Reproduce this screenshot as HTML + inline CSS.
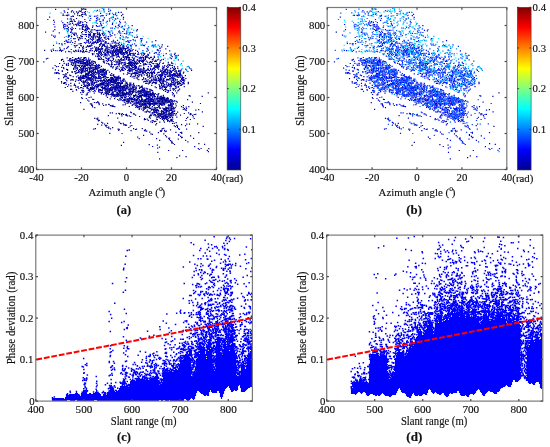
<!DOCTYPE html>
<html><head><meta charset="utf-8"><title>Figure</title>
<style>
html,body{margin:0;padding:0;background:#fff;width:550px;height:447px;overflow:hidden}
svg{display:block}
text{font-family:"Liberation Serif","Times New Roman",serif;fill:#111;stroke:#111;stroke-width:0.15px}
</style></head><body>
<svg width="550" height="447" viewBox="0 0 550 447">
<defs>
<linearGradient id="jet" x1="0" y1="1" x2="0" y2="0">
<stop offset="0" stop-color="#00008f"/>
<stop offset="0.125" stop-color="#0000ff"/>
<stop offset="0.375" stop-color="#00ffff"/>
<stop offset="0.625" stop-color="#ffff00"/>
<stop offset="0.875" stop-color="#ff0000"/>
<stop offset="1" stop-color="#800000"/>
</linearGradient>
</defs>
<rect width="550" height="447" fill="#fff"/>
<path d="M52.5 398v3M53.5 398v3M54.5 398v3M55.5 398v3M56.5 398v3M57.5 398v3M58.5 398v3M59.5 398v3M60.5 398v3M61.5 398v3M62.5 398v3M63.5 398v3M64.5 399v2M65.5 397v4M66.5 394v7M67.5 394v6M68.5 395v5M69.5 394v6M70.5 394v7M71.5 394v7M72.5 394v7M73.5 394v7M74.5 394v7M75.5 393v7M76.5 392v8M77.5 393v8M78.5 394v7M79.5 396v5M80.5 396v5M81.5 393v8M82.5 393v8M83.5 390v11M84.5 390v11M85.5 390v11M86.5 390v11M87.5 394v7M88.5 394v7M89.5 393v8M90.5 393v8M91.5 394v7M92.5 394v7M93.5 393v8M94.5 393v7M95.5 392v8M96.5 392v8M97.5 392v9M98.5 393v8M99.5 393v8M100.5 394v7M101.5 396v5M102.5 396v5M103.5 394v7M104.5 392v9M105.5 392v9M106.5 395v6M107.5 395v6M108.5 393v8M109.5 392v9M110.5 388v13M111.5 388v13M112.5 388v13M113.5 388v13M114.5 391v10M115.5 392v9M116.5 391v10M117.5 391v10M118.5 390v11M119.5 388v13M120.5 386v15M121.5 387v14M122.5 386v15M123.5 386v15M124.5 386v15M125.5 386v15M126.5 386v15M127.5 386v15M128.5 387v14M129.5 384v17M130.5 382v19M131.5 381v20M132.5 380v21M133.5 380v21M134.5 380v21M135.5 381v20M136.5 381v20M137.5 379v22M138.5 378v23M139.5 379v22M140.5 381v20M141.5 382v19M142.5 381v20M143.5 379v22M144.5 380v21M145.5 380v21M146.5 380v21M147.5 380v21M148.5 380v21M149.5 380v21M150.5 379v22M151.5 380v21M152.5 380v21M153.5 380v21M154.5 378v23M155.5 376v25M156.5 375v26M157.5 376v25M158.5 378v1M158.5 380v21M159.5 385v15M160.5 386v14M161.5 386v15M162.5 382v19M163.5 372v28M164.5 372v28M165.5 372v29M166.5 372v29M167.5 372v29M168.5 372v29M169.5 372v28M170.5 372v29M171.5 372v29M172.5 372v29M173.5 372v29M174.5 370v31M175.5 368v33M176.5 369v32M177.5 370v31M178.5 369v32M179.5 364v37M180.5 360v41M181.5 361v40M182.5 363v38M183.5 360v41M184.5 355v44M185.5 354v45M186.5 355v45M187.5 358v43M188.5 357v44M189.5 357v43M190.5 372v27M191.5 376v22M192.5 377v22M193.5 377v23M194.5 376v23M195.5 372v24M196.5 359v34M197.5 358v33M198.5 354v37M199.5 352v1M199.5 354v38M200.5 350v43M201.5 348v46M202.5 349v45M203.5 347v48M204.5 347v49M205.5 354v42M206.5 357v1M206.5 359v36M207.5 354v42M208.5 349v1M208.5 351v45M209.5 348v44M210.5 349v41M211.5 348v44M212.5 369v24M213.5 371v22M214.5 371v22M215.5 369v24M216.5 341v52M217.5 338v53M218.5 337v54M219.5 343v50M220.5 352v45M221.5 357v42M222.5 355v42M223.5 351v43M224.5 344v47M225.5 340v1M225.5 342v47M226.5 344v1M226.5 346v42M227.5 348v39M228.5 348v38M229.5 349v1M229.5 351v37M230.5 348v42M231.5 344v48M232.5 342v50M233.5 346v45M234.5 350v40M235.5 354v37M236.5 375v16M237.5 376v14M238.5 377v9M239.5 376v9M240.5 375v13M241.5 365v27M242.5 364v28M243.5 362v30M244.5 365v27M245.5 369v22M246.5 365v25M247.5 358v31M248.5 355v33M249.5 354v34M250.5 349v1M250.5 351v36M251.5 347v40M351.5 389v5M352.5 388v6M353.5 382v12M354.5 382v12M355.5 382v13M356.5 382v12M357.5 382v11M358.5 382v10M359.5 382v10M360.5 381v12M361.5 382v12M362.5 382v11M363.5 382v10M364.5 382v10M365.5 382v11M366.5 383v12M367.5 386v10M368.5 385v11M369.5 373v22M370.5 358v36M371.5 354v40M372.5 354v40M373.5 354v41M374.5 354v41M375.5 354v42M376.5 354v42M377.5 354v41M378.5 355v41M379.5 356v40M380.5 356v39M381.5 356v38M382.5 356v37M383.5 356v38M384.5 356v39M385.5 356v40M386.5 356v40M387.5 359v4M387.5 364v1M387.5 366v4M387.5 371v25M388.5 377v19M389.5 379v18M390.5 379v18M391.5 379v17M392.5 379v16M393.5 377v18M394.5 367v4M394.5 372v23M395.5 358v37M396.5 355v38M397.5 352v39M398.5 347v42M399.5 349v39M400.5 352v38M401.5 352v40M402.5 351v42M403.5 353v40M404.5 356v37M405.5 357v37M406.5 356v40M407.5 353v44M408.5 351v46M409.5 348v50M410.5 347v51M411.5 349v47M412.5 348v46M413.5 346v47M414.5 344v51M415.5 341v55M416.5 337v59M417.5 336v60M418.5 334v61M419.5 331v65M420.5 329v67M421.5 331v65M422.5 335v60M423.5 336v58M424.5 335v59M425.5 332v63M426.5 329v66M427.5 326v67M428.5 325v65M429.5 323v66M430.5 322v68M431.5 325v67M432.5 331v62M433.5 334v60M434.5 332v61M435.5 327v65M436.5 323v70M437.5 323v71M438.5 323v71M439.5 318v77M440.5 315v80M441.5 319v75M442.5 322v71M443.5 321v72M444.5 319v1M444.5 321v74M445.5 318v1M445.5 320v76M446.5 318v79M447.5 318v79M448.5 320v76M449.5 318v76M450.5 317v76M451.5 317v77M452.5 312v82M453.5 311v1M453.5 313v80M454.5 313v80M455.5 313v80M456.5 312v81M457.5 312v79M458.5 315v76M459.5 317v76M460.5 314v81M461.5 307v89M462.5 308v88M463.5 315v81M464.5 318v78M465.5 318v77M466.5 317v79M467.5 317v80M468.5 316v81M469.5 315v80M470.5 317v77M471.5 319v75M472.5 317v77M473.5 315v80M474.5 317v77M475.5 318v75M476.5 318v73M477.5 317v73M478.5 320v69M479.5 323v67M480.5 324v68M481.5 321v72M482.5 320v75M483.5 317v79M484.5 313v1M484.5 315v81M485.5 315v79M486.5 317v76M487.5 316v76M488.5 316v75M489.5 321v70M490.5 322v70M491.5 319v73M492.5 317v75M493.5 320v73M494.5 324v70M495.5 324v70M496.5 318v76M497.5 313v79M498.5 311v81M499.5 314v77M500.5 316v73M501.5 316v1M501.5 318v70M502.5 315v73M503.5 317v70M504.5 317v70M505.5 319v67M506.5 324v61M507.5 325v61M508.5 321v66M509.5 316v71M510.5 318v69M511.5 322v63M512.5 320v1M512.5 322v60M513.5 317v63M514.5 321v59M515.5 324v58M516.5 324v58M517.5 320v62M518.5 322v59M519.5 325v55M520.5 377v2M526.5 377v4M527.5 346v35M528.5 347v36M529.5 345v39M530.5 342v42M531.5 338v45M532.5 337v47M533.5 340v45M534.5 343v42M535.5 341v42M536.5 337v45M537.5 335v47M538.5 338v44M539.5 341v43M540.5 339v49M541.5 336v53" stroke="#0000ff" stroke-width="1.15" fill="none"/>
<path d="M213.4 236.8h1.5M413.5 236.5h1.5M497.0 236.9h1.5M517.8 236.5h1.5M226.4 237.1h1.5M407.7 237.9h1.5M454.7 237.5h1.5M471.5 237.8h1.5M483.9 237.9h1.5M498.4 237.2h1.5M502.7 237.6h1.5M225.8 238.6h1.5M228.7 238.1h1.5M233.8 238.6h1.5M249.9 238.7h1.5M396.1 238.3h1.5M229.6 239.4h1.5M447.9 239.5h1.5M464.9 239.1h1.5M529.6 239.8h1.5M204.4 240.2h1.5M225.1 240.4h1.5M453.6 240.6h1.5M228.6 241.6h1.5M466.1 241.8h1.5M467.8 241.3h1.5M482.7 241.6h1.5M500.0 241.2h1.5M190.4 242.7h1.5M437.9 242.6h1.5M510.6 242.8h1.5M512.4 242.8h1.5M517.9 242.1h1.5M223.1 243.3h1.5M226.5 243.6h1.5M192.9 244.4h1.5M207.6 244.1h1.5M210.9 244.8h1.5M441.9 244.9h1.5M451.5 244.3h1.5M499.0 244.3h1.5M500.9 244.7h1.5M223.9 245.4h1.5M383.0 245.9h1.5M438.7 245.4h1.5M460.0 245.5h1.5M504.1 245.7h1.5M529.4 245.5h1.5M214.0 246.8h1.5M215.7 246.4h1.5M221.7 246.4h1.5M498.5 246.8h1.5M207.9 247.4h1.5M216.6 247.9h1.5M222.0 247.8h1.5M245.6 247.1h1.5M377.8 247.8h1.5M439.7 247.2h1.5M460.8 247.1h1.5M462.5 247.7h1.5M483.5 247.6h1.5M532.9 247.9h1.5M200.0 248.6h1.5M211.8 248.4h1.5M224.1 248.4h1.5M500.5 248.6h1.5M517.0 248.5h1.5M206.5 249.5h1.5M218.1 249.9h1.5M223.8 249.6h1.5M226.8 249.5h1.5M251.1 249.8h1.5M405.0 249.5h1.5M437.0 249.5h1.5M438.4 249.1h1.5M443.6 249.9h1.5M500.4 249.2h1.5M126.5 250.4h1.5M128.5 250.1h1.5M199.0 250.5h1.5M227.5 250.2h1.5M410.6 250.6h1.5M446.7 250.8h1.5M452.0 250.2h1.5M455.1 250.4h1.5M460.9 250.8h1.5M477.5 250.1h1.5M522.8 250.3h1.5M208.9 251.3h1.5M421.4 251.8h1.5M439.9 251.5h1.5M451.6 251.8h1.5M473.8 251.8h1.5M477.9 251.7h1.5M479.9 251.3h1.5M481.8 251.7h1.5M496.8 251.2h1.5M523.5 251.5h1.5M527.7 251.8h1.5M204.5 252.9h1.5M421.7 252.7h1.5M444.8 252.1h1.5M448.0 252.5h1.5M455.7 252.9h1.5M474.4 252.8h1.5M503.8 252.1h1.5M507.5 252.2h1.5M215.9 253.3h1.5M434.7 253.5h1.5M436.7 253.8h1.5M440.1 253.7h1.5M452.7 253.7h1.5M487.6 253.6h1.5M491.6 253.8h1.5M533.7 253.5h1.5M218.4 254.4h1.5M223.8 254.5h1.5M244.1 254.2h1.5M192.8 255.5h1.5M205.9 255.9h1.5M225.1 255.2h1.5M239.0 255.1h1.5M457.9 255.3h1.5M500.0 255.5h1.5M125.0 256.3h1.5M202.6 256.1h1.5M209.7 256.2h1.5M228.6 256.5h1.5M437.6 256.3h1.5M439.8 256.8h1.5M447.6 256.6h1.5M463.8 256.9h1.5M485.8 256.4h1.5M486.4 256.3h1.5M511.7 256.7h1.5M520.7 256.6h1.5M531.9 256.7h1.5M438.4 257.5h1.5M458.5 257.7h1.5M473.8 257.3h1.5M489.7 257.8h1.5M502.9 257.5h1.5M533.6 257.7h1.5M197.5 258.7h1.5M200.1 258.7h1.5M206.5 258.9h1.5M227.5 258.7h1.5M250.6 258.6h1.5M422.6 258.6h1.5M434.5 258.4h1.5M449.8 258.7h1.5M460.1 258.8h1.5M470.5 258.1h1.5M474.7 258.5h1.5M504.9 258.5h1.5M536.1 258.7h1.5M207.1 259.3h1.5M220.5 259.3h1.5M244.8 259.8h1.5M447.1 259.8h1.5M448.4 259.3h1.5M483.8 259.9h1.5M500.5 259.2h1.5M526.0 259.7h1.5M528.1 259.2h1.5M213.8 260.2h1.5M224.4 260.2h1.5M408.4 260.2h1.5M441.7 260.3h1.5M452.0 260.3h1.5M458.5 260.3h1.5M463.9 260.4h1.5M484.7 260.8h1.5M492.6 260.8h1.5M496.9 260.3h1.5M501.6 260.1h1.5M511.6 260.8h1.5M211.0 261.2h1.5M222.7 261.9h1.5M225.0 261.8h1.5M228.8 261.3h1.5M445.5 261.4h1.5M454.7 261.5h1.5M456.0 261.8h1.5M458.8 261.1h1.5M476.1 261.4h1.5M481.4 261.2h1.5M531.6 261.7h1.5M189.0 262.1h1.5M247.9 262.7h1.5M449.8 262.7h1.5M451.9 262.3h1.5M453.1 262.8h1.5M459.9 262.3h1.5M466.8 262.4h1.5M470.8 262.4h1.5M471.9 262.7h1.5M473.6 262.8h1.5M489.9 262.6h1.5M497.8 262.5h1.5M500.0 262.9h1.5M515.7 262.3h1.5M200.4 263.7h1.5M219.8 263.3h1.5M235.0 263.5h1.5M245.9 263.4h1.5M414.9 263.2h1.5M421.7 263.2h1.5M424.6 263.6h1.5M452.9 263.7h1.5M455.4 263.1h1.5M485.0 263.5h1.5M499.1 263.6h1.5M504.1 263.5h1.5M527.5 263.4h1.5M124.4 264.2h1.5M194.1 264.3h1.5M209.7 264.1h1.5M224.6 264.2h1.5M226.7 264.8h1.5M227.9 264.2h1.5M229.5 264.3h1.5M231.7 264.4h1.5M473.9 264.3h1.5M499.9 264.3h1.5M508.4 264.1h1.5M510.0 264.3h1.5M518.7 264.5h1.5M522.7 264.1h1.5M527.8 264.4h1.5M196.6 265.5h1.5M202.1 265.5h1.5M208.5 265.3h1.5M225.8 265.3h1.5M227.5 265.2h1.5M234.8 265.5h1.5M418.1 265.5h1.5M450.1 265.8h1.5M465.5 265.7h1.5M466.8 265.8h1.5M479.1 265.2h1.5M494.5 265.4h1.5M495.7 265.2h1.5M496.9 265.5h1.5M512.9 265.2h1.5M516.7 265.6h1.5M527.9 265.9h1.5M528.9 265.3h1.5M182.6 266.9h1.5M199.9 266.6h1.5M207.8 266.2h1.5M215.9 266.5h1.5M224.8 266.6h1.5M230.6 266.1h1.5M239.7 266.3h1.5M407.1 266.8h1.5M414.5 266.8h1.5M415.5 266.5h1.5M446.4 266.5h1.5M485.0 266.8h1.5M495.1 266.6h1.5M215.5 267.6h1.5M230.6 267.9h1.5M439.5 267.2h1.5M443.8 267.4h1.5M445.7 267.3h1.5M461.0 267.8h1.5M486.5 267.1h1.5M502.1 267.6h1.5M524.7 267.8h1.5M532.0 267.2h1.5M123.0 268.3h1.5M195.1 268.3h1.5M209.7 268.5h1.5M220.8 268.2h1.5M222.8 268.5h1.5M224.5 268.6h1.5M228.8 268.1h1.5M245.1 268.7h1.5M251.1 268.1h1.5M415.4 268.1h1.5M436.9 268.6h1.5M445.6 268.8h1.5M455.5 268.3h1.5M457.5 268.7h1.5M474.0 268.2h1.5M503.1 268.5h1.5M122.8 269.8h1.5M198.7 269.7h1.5M200.8 269.8h1.5M212.0 269.5h1.5M212.9 269.9h1.5M222.4 269.8h1.5M227.5 269.3h1.5M421.0 269.8h1.5M443.7 269.6h1.5M476.9 269.9h1.5M495.0 269.6h1.5M495.9 269.4h1.5M504.9 269.6h1.5M515.8 269.7h1.5M516.5 269.7h1.5M195.5 270.6h1.5M201.1 270.4h1.5M211.4 270.6h1.5M222.9 270.3h1.5M229.1 270.9h1.5M437.5 270.5h1.5M457.4 270.4h1.5M474.7 270.8h1.5M484.6 270.7h1.5M495.7 270.3h1.5M504.7 270.6h1.5M517.1 270.6h1.5M193.4 271.6h1.5M226.1 271.2h1.5M229.4 271.6h1.5M250.1 271.6h1.5M402.6 271.3h1.5M405.9 271.9h1.5M422.4 271.9h1.5M442.7 271.8h1.5M452.9 271.8h1.5M472.9 271.6h1.5M475.0 271.8h1.5M501.5 271.4h1.5M503.7 271.4h1.5M504.8 271.7h1.5M521.4 271.6h1.5M200.0 272.5h1.5M203.7 272.1h1.5M204.5 272.5h1.5M211.5 272.3h1.5M409.9 272.7h1.5M444.4 272.7h1.5M447.5 272.6h1.5M451.6 272.8h1.5M453.6 272.6h1.5M460.9 272.5h1.5M471.8 272.2h1.5M487.1 272.2h1.5M488.9 272.2h1.5M501.6 272.4h1.5M504.6 272.7h1.5M516.4 272.4h1.5M197.5 273.8h1.5M202.8 273.5h1.5M206.9 273.8h1.5M222.6 273.8h1.5M229.6 273.3h1.5M377.0 273.8h1.5M395.1 273.9h1.5M456.4 273.6h1.5M461.4 273.2h1.5M472.0 273.8h1.5M483.7 273.5h1.5M487.7 273.4h1.5M489.9 273.7h1.5M496.0 273.3h1.5M512.4 273.5h1.5M517.1 273.4h1.5M521.1 273.5h1.5M197.7 274.8h1.5M209.7 274.5h1.5M210.6 274.3h1.5M225.8 274.9h1.5M373.5 274.4h1.5M415.8 274.6h1.5M423.1 274.9h1.5M438.8 274.5h1.5M441.0 274.3h1.5M446.5 274.6h1.5M451.1 274.9h1.5M456.4 274.6h1.5M459.5 274.9h1.5M491.9 274.5h1.5M493.6 274.1h1.5M494.4 274.1h1.5M513.4 274.3h1.5M523.0 274.7h1.5M531.4 274.1h1.5M193.4 275.2h1.5M201.1 275.5h1.5M209.0 275.4h1.5M225.6 275.7h1.5M246.5 275.4h1.5M394.0 275.2h1.5M439.0 275.9h1.5M445.9 275.3h1.5M447.8 275.9h1.5M455.8 275.7h1.5M457.1 275.8h1.5M458.8 275.9h1.5M463.4 275.8h1.5M475.4 275.7h1.5M485.8 275.2h1.5M487.9 275.1h1.5M489.9 275.6h1.5M500.9 275.9h1.5M501.6 275.9h1.5M521.6 275.6h1.5M217.6 276.3h1.5M409.6 276.7h1.5M423.6 276.9h1.5M440.0 276.9h1.5M445.5 276.1h1.5M455.5 276.3h1.5M470.9 276.4h1.5M473.7 276.4h1.5M493.6 276.2h1.5M500.1 276.6h1.5M504.1 276.6h1.5M504.5 276.7h1.5M515.5 276.3h1.5M532.7 276.3h1.5M125.8 277.7h1.5M191.6 277.4h1.5M199.8 277.3h1.5M210.9 277.7h1.5M212.0 277.3h1.5M213.5 277.3h1.5M217.9 277.5h1.5M224.4 277.2h1.5M242.4 277.3h1.5M375.4 277.8h1.5M412.4 277.4h1.5M414.0 277.1h1.5M433.6 277.7h1.5M445.7 277.4h1.5M458.7 277.9h1.5M460.5 277.7h1.5M461.4 277.4h1.5M485.5 277.8h1.5M495.0 277.2h1.5M496.6 277.8h1.5M515.7 277.5h1.5M201.6 278.6h1.5M233.9 278.8h1.5M384.9 278.8h1.5M419.7 278.1h1.5M424.8 278.5h1.5M436.7 278.8h1.5M450.8 278.4h1.5M451.8 278.2h1.5M459.8 278.8h1.5M477.1 278.3h1.5M490.1 278.7h1.5M508.4 278.6h1.5M524.7 278.6h1.5M528.4 278.9h1.5M200.6 279.6h1.5M215.0 279.5h1.5M226.9 279.1h1.5M411.8 279.4h1.5M447.4 279.7h1.5M449.0 279.6h1.5M449.8 279.5h1.5M450.6 279.3h1.5M454.0 279.3h1.5M457.4 279.2h1.5M486.5 279.2h1.5M488.0 279.7h1.5M488.4 279.6h1.5M515.5 279.7h1.5M528.8 279.7h1.5M534.9 279.8h1.5M208.8 280.5h1.5M212.4 280.3h1.5M213.6 280.2h1.5M218.9 280.4h1.5M223.6 280.7h1.5M229.5 280.8h1.5M230.4 280.4h1.5M235.6 280.6h1.5M425.1 280.2h1.5M431.4 280.9h1.5M439.8 280.1h1.5M441.1 280.6h1.5M451.9 280.5h1.5M452.6 280.3h1.5M454.9 280.8h1.5M473.4 280.1h1.5M474.7 280.5h1.5M482.6 280.6h1.5M495.1 280.7h1.5M498.0 280.6h1.5M522.0 280.7h1.5M124.7 281.7h1.5M210.0 281.6h1.5M217.1 281.5h1.5M221.6 281.2h1.5M229.8 281.4h1.5M438.5 281.8h1.5M443.4 281.5h1.5M451.9 281.4h1.5M454.4 281.3h1.5M460.8 281.4h1.5M464.4 281.6h1.5M470.9 281.6h1.5M477.0 281.3h1.5M486.1 281.7h1.5M515.7 281.1h1.5M525.7 281.4h1.5M210.7 282.2h1.5M211.9 282.6h1.5M226.0 282.5h1.5M230.4 282.8h1.5M234.6 282.8h1.5M248.4 282.8h1.5M438.5 282.7h1.5M448.9 282.9h1.5M452.1 282.4h1.5M453.1 282.6h1.5M456.4 282.2h1.5M458.7 282.8h1.5M461.0 282.3h1.5M485.8 282.7h1.5M498.6 282.7h1.5M504.0 282.5h1.5M516.0 282.6h1.5M527.5 282.9h1.5M111.8 283.5h1.5M183.5 283.4h1.5M196.5 283.6h1.5M197.8 283.7h1.5M204.6 283.7h1.5M206.0 283.1h1.5M213.6 283.6h1.5M224.5 283.2h1.5M226.9 283.5h1.5M227.6 283.9h1.5M243.4 283.8h1.5M413.1 283.3h1.5M414.5 283.3h1.5M418.5 283.5h1.5M430.7 283.4h1.5M433.4 283.5h1.5M440.0 283.7h1.5M450.4 283.9h1.5M457.4 283.4h1.5M459.1 283.1h1.5M459.8 283.4h1.5M465.1 283.5h1.5M477.1 283.5h1.5M491.9 283.2h1.5M498.4 283.1h1.5M501.9 283.5h1.5M503.4 283.7h1.5M505.4 283.7h1.5M517.0 283.1h1.5M539.6 283.6h1.5M191.9 284.5h1.5M198.8 284.4h1.5M213.0 284.6h1.5M236.9 284.2h1.5M436.1 284.9h1.5M438.7 284.5h1.5M445.0 284.2h1.5M450.0 284.2h1.5M452.8 284.3h1.5M460.8 284.3h1.5M475.7 284.6h1.5M483.9 284.6h1.5M491.5 284.5h1.5M498.7 284.7h1.5M504.9 284.2h1.5M517.6 284.8h1.5M518.5 284.4h1.5M524.4 284.1h1.5M538.0 284.2h1.5M195.1 285.7h1.5M196.0 285.3h1.5M213.9 285.5h1.5M222.8 285.2h1.5M229.4 285.7h1.5M447.1 285.2h1.5M448.7 285.8h1.5M450.9 285.2h1.5M452.4 285.8h1.5M456.9 285.4h1.5M464.5 285.4h1.5M471.1 285.2h1.5M492.9 285.4h1.5M501.8 285.8h1.5M504.9 285.1h1.5M512.5 285.2h1.5M514.7 285.9h1.5M522.4 285.7h1.5M524.6 285.8h1.5M197.6 286.8h1.5M199.5 286.9h1.5M200.7 286.4h1.5M208.4 286.8h1.5M211.4 286.4h1.5M223.6 286.6h1.5M226.1 286.1h1.5M227.9 286.3h1.5M231.7 286.4h1.5M245.5 286.4h1.5M416.4 286.2h1.5M425.7 286.1h1.5M434.9 286.3h1.5M437.0 286.1h1.5M443.7 286.3h1.5M464.0 286.6h1.5M470.0 286.6h1.5M472.0 286.6h1.5M475.6 286.6h1.5M477.7 286.1h1.5M480.5 286.5h1.5M485.8 286.4h1.5M491.4 286.4h1.5M497.7 286.4h1.5M498.5 286.4h1.5M499.7 286.7h1.5M505.5 286.3h1.5M526.4 286.6h1.5M534.7 286.5h1.5M195.7 287.6h1.5M207.8 287.4h1.5M209.4 287.8h1.5M212.7 287.6h1.5M220.6 287.5h1.5M230.4 287.1h1.5M421.7 287.1h1.5M440.9 287.3h1.5M441.6 287.7h1.5M445.9 287.3h1.5M454.0 287.7h1.5M454.4 287.4h1.5M458.5 287.6h1.5M459.6 287.2h1.5M469.8 287.2h1.5M471.7 287.9h1.5M472.8 287.6h1.5M476.4 287.2h1.5M479.6 287.3h1.5M487.5 287.2h1.5M508.9 287.3h1.5M509.9 287.7h1.5M515.6 287.3h1.5M519.1 287.8h1.5M529.5 287.1h1.5M530.4 287.6h1.5M535.6 287.3h1.5M205.9 288.8h1.5M218.1 288.4h1.5M222.8 288.3h1.5M224.5 288.4h1.5M225.8 288.2h1.5M227.4 288.8h1.5M230.0 288.8h1.5M403.6 288.7h1.5M414.4 288.5h1.5M427.5 288.4h1.5M434.0 288.5h1.5M436.1 288.9h1.5M439.5 288.5h1.5M442.1 288.7h1.5M444.0 288.4h1.5M449.6 288.8h1.5M451.4 288.5h1.5M457.5 288.5h1.5M463.7 288.3h1.5M467.5 288.4h1.5M470.5 288.2h1.5M471.6 288.5h1.5M493.1 288.9h1.5M494.4 288.7h1.5M497.1 288.6h1.5M498.7 288.6h1.5M499.9 288.5h1.5M500.8 288.3h1.5M509.1 288.2h1.5M529.5 288.7h1.5M534.6 288.8h1.5M207.8 289.6h1.5M222.8 289.4h1.5M223.6 289.2h1.5M226.6 289.1h1.5M409.4 289.1h1.5M415.8 289.6h1.5M418.0 289.4h1.5M422.0 289.4h1.5M439.7 289.7h1.5M441.1 289.8h1.5M443.1 289.6h1.5M450.6 289.7h1.5M459.4 289.6h1.5M466.0 289.5h1.5M473.1 289.4h1.5M475.9 289.3h1.5M477.1 289.9h1.5M492.7 289.7h1.5M495.8 289.5h1.5M497.4 289.7h1.5M498.6 289.4h1.5M500.1 289.6h1.5M503.4 289.7h1.5M514.5 289.2h1.5M528.4 289.7h1.5M124.7 290.2h1.5M192.8 290.4h1.5M216.8 290.5h1.5M220.1 290.4h1.5M223.9 290.3h1.5M226.9 290.6h1.5M227.8 290.1h1.5M398.8 290.2h1.5M406.4 290.1h1.5M413.4 290.2h1.5M440.9 290.5h1.5M444.5 290.5h1.5M448.7 290.6h1.5M451.9 290.4h1.5M452.8 290.3h1.5M455.5 290.9h1.5M471.6 290.3h1.5M474.5 290.8h1.5M480.9 290.4h1.5M482.9 290.1h1.5M487.5 290.5h1.5M496.6 290.6h1.5M500.5 290.8h1.5M509.8 290.4h1.5M510.6 290.4h1.5M512.0 290.4h1.5M514.6 290.4h1.5M516.9 290.4h1.5M520.9 290.5h1.5M530.1 290.4h1.5M194.9 291.4h1.5M200.1 291.5h1.5M201.8 291.6h1.5M205.4 291.7h1.5M212.6 291.5h1.5M223.9 291.8h1.5M226.6 291.7h1.5M438.9 291.6h1.5M449.4 291.2h1.5M456.9 291.2h1.5M466.7 291.1h1.5M476.1 291.3h1.5M476.4 291.5h1.5M481.6 291.3h1.5M484.0 291.6h1.5M497.7 291.2h1.5M499.7 291.5h1.5M500.6 291.3h1.5M502.4 291.4h1.5M505.6 291.7h1.5M527.1 291.1h1.5M538.0 291.7h1.5M122.6 292.3h1.5M193.9 292.8h1.5M200.0 292.4h1.5M225.0 292.7h1.5M225.4 292.3h1.5M226.5 292.5h1.5M230.1 292.5h1.5M231.6 292.3h1.5M248.0 292.4h1.5M416.9 292.2h1.5M418.0 292.8h1.5M418.4 292.6h1.5M438.1 292.5h1.5M439.1 292.4h1.5M443.5 292.1h1.5M444.9 292.5h1.5M446.4 292.2h1.5M448.0 292.5h1.5M448.7 292.7h1.5M449.9 292.3h1.5M451.0 292.7h1.5M454.4 292.5h1.5M459.1 292.3h1.5M461.4 292.3h1.5M462.5 292.6h1.5M464.7 292.6h1.5M466.6 292.7h1.5M470.9 292.6h1.5M471.5 292.7h1.5M472.8 292.2h1.5M491.0 292.6h1.5M492.1 292.5h1.5M494.7 292.4h1.5M496.6 292.5h1.5M500.8 292.7h1.5M502.9 292.4h1.5M507.1 292.5h1.5M510.8 292.9h1.5M515.7 292.5h1.5M517.6 292.2h1.5M537.9 292.6h1.5M192.9 293.6h1.5M205.4 293.3h1.5M207.6 293.1h1.5M219.5 293.2h1.5M224.7 293.6h1.5M225.7 293.6h1.5M231.5 293.6h1.5M240.8 293.5h1.5M247.9 293.7h1.5M248.6 293.5h1.5M251.0 293.2h1.5M376.4 293.1h1.5M402.4 293.6h1.5M414.9 293.8h1.5M417.8 293.9h1.5M424.0 293.4h1.5M432.1 293.3h1.5M433.8 293.5h1.5M440.0 293.3h1.5M440.9 293.7h1.5M445.8 293.3h1.5M447.8 293.5h1.5M453.1 293.3h1.5M460.6 293.9h1.5M461.7 293.4h1.5M462.7 293.6h1.5M465.9 293.5h1.5M472.4 293.2h1.5M474.9 293.7h1.5M475.4 293.3h1.5M476.7 293.1h1.5M481.7 293.5h1.5M484.8 293.6h1.5M486.8 293.4h1.5M490.8 293.3h1.5M494.4 293.9h1.5M495.6 293.3h1.5M496.9 293.3h1.5M499.7 293.8h1.5M501.0 293.6h1.5M505.8 293.7h1.5M506.8 293.5h1.5M508.9 293.8h1.5M510.1 293.9h1.5M512.4 293.6h1.5M517.4 293.8h1.5M533.4 293.3h1.5M197.5 294.5h1.5M199.4 294.5h1.5M203.1 294.5h1.5M203.5 294.1h1.5M206.7 294.2h1.5M209.1 294.7h1.5M209.7 294.1h1.5M210.5 294.4h1.5M211.6 294.9h1.5M213.7 294.2h1.5M216.6 294.6h1.5M219.7 294.4h1.5M227.7 294.2h1.5M230.4 294.2h1.5M250.0 294.4h1.5M411.1 294.2h1.5M417.8 294.7h1.5M432.4 294.8h1.5M434.1 294.6h1.5M437.6 294.5h1.5M438.7 294.4h1.5M441.6 294.2h1.5M450.1 294.9h1.5M455.9 294.7h1.5M457.6 294.3h1.5M458.6 294.1h1.5M462.7 294.1h1.5M490.7 294.6h1.5M492.9 294.8h1.5M499.1 294.9h1.5M501.4 294.6h1.5M503.0 294.2h1.5M505.0 294.6h1.5M511.5 294.5h1.5M515.1 294.1h1.5M516.1 294.8h1.5M188.9 295.4h1.5M190.4 295.6h1.5M198.7 295.6h1.5M204.0 295.5h1.5M208.8 295.3h1.5M216.4 295.2h1.5M218.0 295.3h1.5M218.7 295.7h1.5M224.5 295.6h1.5M229.6 295.8h1.5M230.4 295.3h1.5M246.6 295.2h1.5M429.4 295.7h1.5M434.1 295.9h1.5M438.5 295.6h1.5M439.6 295.4h1.5M444.6 295.7h1.5M450.7 295.5h1.5M452.6 295.8h1.5M454.1 295.8h1.5M454.5 295.9h1.5M456.1 295.4h1.5M456.7 295.7h1.5M459.1 295.4h1.5M461.6 295.1h1.5M480.4 295.6h1.5M485.0 295.2h1.5M486.5 295.5h1.5M487.9 295.6h1.5M491.1 295.8h1.5M491.5 295.6h1.5M493.6 295.2h1.5M495.8 295.6h1.5M499.0 295.3h1.5M501.0 295.3h1.5M501.7 295.2h1.5M516.8 295.4h1.5M519.0 295.2h1.5M529.5 295.2h1.5M242.1 296.5h1.5M251.0 296.7h1.5M436.5 296.6h1.5M439.9 296.4h1.5M441.9 296.7h1.5M446.9 296.3h1.5M449.4 296.8h1.5M450.4 296.6h1.5M455.5 296.5h1.5M460.4 296.9h1.5M461.7 296.3h1.5M470.9 296.9h1.5M472.8 296.2h1.5M477.1 296.7h1.5M479.7 296.1h1.5M481.7 296.6h1.5M485.5 296.6h1.5M487.1 296.4h1.5M487.9 296.9h1.5M492.1 296.9h1.5M493.1 296.8h1.5M496.4 296.4h1.5M509.8 296.9h1.5M516.7 296.1h1.5M518.0 296.6h1.5M207.4 297.5h1.5M222.9 297.6h1.5M223.8 297.6h1.5M226.6 297.9h1.5M243.5 297.4h1.5M406.9 297.3h1.5M416.4 297.4h1.5M428.6 297.3h1.5M435.4 297.3h1.5M436.6 297.8h1.5M440.5 297.6h1.5M448.8 297.8h1.5M452.9 297.6h1.5M453.9 297.8h1.5M454.7 297.4h1.5M457.0 297.5h1.5M460.9 297.7h1.5M461.8 297.4h1.5M463.0 297.7h1.5M464.1 297.7h1.5M464.7 297.3h1.5M470.1 297.8h1.5M470.8 297.6h1.5M478.7 297.8h1.5M485.7 297.5h1.5M487.9 297.1h1.5M491.6 297.6h1.5M493.1 297.1h1.5M495.7 297.5h1.5M498.8 297.6h1.5M500.0 297.6h1.5M502.0 297.2h1.5M502.9 297.3h1.5M508.9 297.6h1.5M512.0 297.6h1.5M513.8 297.3h1.5M520.7 297.7h1.5M526.1 297.1h1.5M182.5 298.5h1.5M201.5 298.4h1.5M210.6 298.4h1.5M214.5 298.7h1.5M217.1 298.6h1.5M236.8 298.3h1.5M440.1 298.5h1.5M440.8 298.2h1.5M443.5 298.7h1.5M454.0 298.5h1.5M461.1 298.2h1.5M461.4 298.6h1.5M471.0 298.5h1.5M474.8 298.3h1.5M478.5 298.3h1.5M481.6 298.6h1.5M482.9 298.7h1.5M483.5 298.9h1.5M484.8 298.9h1.5M485.8 298.1h1.5M487.8 298.4h1.5M488.5 298.2h1.5M495.0 298.8h1.5M504.8 298.8h1.5M507.9 298.2h1.5M518.9 298.6h1.5M522.6 298.2h1.5M194.9 299.1h1.5M209.7 299.5h1.5M211.1 299.4h1.5M222.7 299.7h1.5M224.5 299.5h1.5M230.7 299.5h1.5M231.7 299.9h1.5M233.1 299.1h1.5M244.6 299.7h1.5M247.1 299.9h1.5M250.4 299.7h1.5M417.5 299.3h1.5M436.6 299.8h1.5M438.9 299.4h1.5M439.8 299.4h1.5M440.7 299.7h1.5M442.7 299.9h1.5M444.0 299.7h1.5M445.5 299.8h1.5M449.0 299.3h1.5M450.6 299.8h1.5M452.9 299.6h1.5M454.0 299.4h1.5M462.7 299.5h1.5M464.5 299.1h1.5M469.5 299.9h1.5M470.5 299.8h1.5M471.4 299.8h1.5M475.7 299.2h1.5M484.9 299.1h1.5M485.7 299.8h1.5M487.1 299.7h1.5M493.1 299.4h1.5M495.0 299.2h1.5M500.0 299.2h1.5M502.6 299.4h1.5M504.0 299.8h1.5M505.4 299.9h1.5M506.4 299.4h1.5M512.4 299.9h1.5M513.6 299.9h1.5M514.9 299.5h1.5M515.4 299.7h1.5M521.7 299.4h1.5M525.8 299.5h1.5M527.0 299.2h1.5M529.8 299.8h1.5M531.5 299.5h1.5M188.4 300.7h1.5M190.8 300.5h1.5M208.0 300.6h1.5M209.0 300.9h1.5M210.8 300.6h1.5M223.5 300.5h1.5M225.4 300.2h1.5M228.4 300.8h1.5M229.6 300.4h1.5M243.8 300.9h1.5M244.5 300.5h1.5M250.8 300.1h1.5M396.6 300.5h1.5M417.0 300.6h1.5M420.8 300.8h1.5M428.0 300.7h1.5M431.6 300.5h1.5M440.8 300.7h1.5M447.1 300.4h1.5M447.4 300.2h1.5M455.1 300.7h1.5M457.8 300.8h1.5M461.1 300.4h1.5M461.6 300.4h1.5M465.7 300.1h1.5M468.9 300.7h1.5M470.8 300.8h1.5M472.8 300.8h1.5M476.0 300.5h1.5M485.5 300.7h1.5M488.9 300.3h1.5M491.7 300.3h1.5M495.1 300.8h1.5M496.1 300.6h1.5M497.7 300.5h1.5M498.6 300.1h1.5M501.1 300.1h1.5M503.1 300.5h1.5M512.0 300.9h1.5M517.1 300.1h1.5M207.1 301.7h1.5M214.7 301.9h1.5M221.6 301.2h1.5M229.4 301.4h1.5M416.7 301.3h1.5M434.5 301.8h1.5M436.9 301.2h1.5M438.8 301.2h1.5M442.1 301.1h1.5M445.9 301.9h1.5M447.6 301.6h1.5M452.6 301.3h1.5M453.8 301.6h1.5M462.8 301.8h1.5M464.1 301.8h1.5M467.9 301.8h1.5M470.6 301.2h1.5M471.6 301.6h1.5M473.8 301.9h1.5M475.4 301.5h1.5M476.7 301.3h1.5M479.1 301.9h1.5M482.1 301.7h1.5M483.8 301.7h1.5M484.8 301.8h1.5M485.6 301.5h1.5M489.8 301.7h1.5M490.7 301.7h1.5M491.9 301.2h1.5M493.1 301.2h1.5M496.0 301.3h1.5M498.5 301.7h1.5M501.5 301.7h1.5M508.9 301.3h1.5M510.1 301.3h1.5M510.8 301.2h1.5M514.0 301.3h1.5M514.6 301.8h1.5M516.5 301.7h1.5M519.1 301.6h1.5M522.1 301.7h1.5M534.7 301.6h1.5M192.0 302.6h1.5M196.9 302.5h1.5M205.0 302.8h1.5M215.8 302.3h1.5M218.9 302.8h1.5M225.1 302.8h1.5M226.7 302.3h1.5M227.9 302.8h1.5M231.1 302.3h1.5M377.4 302.4h1.5M405.6 302.7h1.5M412.6 302.2h1.5M417.8 302.4h1.5M419.7 302.7h1.5M434.1 302.8h1.5M435.5 302.4h1.5M443.6 302.4h1.5M446.4 302.7h1.5M447.5 302.8h1.5M448.8 302.7h1.5M452.4 302.8h1.5M454.1 302.9h1.5M455.0 302.2h1.5M455.4 302.2h1.5M459.0 302.5h1.5M460.4 302.5h1.5M461.8 302.1h1.5M462.5 302.3h1.5M463.5 302.6h1.5M466.8 302.4h1.5M468.1 302.2h1.5M469.4 302.1h1.5M472.5 302.7h1.5M473.7 302.3h1.5M475.1 302.2h1.5M475.6 302.7h1.5M477.0 302.5h1.5M480.8 302.4h1.5M483.7 302.5h1.5M490.0 302.5h1.5M494.5 302.1h1.5M495.8 302.4h1.5M497.4 302.6h1.5M500.8 302.8h1.5M502.1 302.2h1.5M502.4 302.2h1.5M507.4 302.9h1.5M508.8 302.7h1.5M510.1 302.3h1.5M512.8 302.9h1.5M514.1 302.2h1.5M517.6 302.8h1.5M526.1 302.3h1.5M537.5 302.6h1.5M114.0 303.2h1.5M188.6 303.3h1.5M204.0 303.3h1.5M204.4 303.5h1.5M218.6 303.6h1.5M223.1 303.6h1.5M225.0 303.4h1.5M417.7 303.6h1.5M437.7 303.3h1.5M441.1 303.3h1.5M445.5 303.9h1.5M446.5 303.2h1.5M451.4 303.7h1.5M452.9 303.3h1.5M454.1 303.9h1.5M456.5 303.4h1.5M461.0 303.8h1.5M462.0 303.5h1.5M466.5 303.4h1.5M468.8 303.3h1.5M471.8 303.2h1.5M472.4 303.8h1.5M475.1 303.3h1.5M477.5 303.8h1.5M482.5 303.8h1.5M483.9 303.4h1.5M488.8 303.1h1.5M493.0 303.7h1.5M493.9 303.7h1.5M494.4 303.3h1.5M495.7 303.9h1.5M497.1 303.7h1.5M497.6 303.7h1.5M498.5 303.5h1.5M501.1 303.4h1.5M501.4 303.1h1.5M514.7 303.4h1.5M516.1 303.8h1.5M522.0 303.7h1.5M527.5 303.4h1.5M532.4 303.9h1.5M540.7 303.7h1.5M196.9 304.3h1.5M201.0 304.1h1.5M204.5 304.6h1.5M207.7 304.3h1.5M209.7 304.5h1.5M211.6 304.2h1.5M212.9 304.2h1.5M216.8 304.2h1.5M221.7 304.6h1.5M245.0 304.1h1.5M405.6 304.7h1.5M407.8 304.6h1.5M420.0 304.7h1.5M421.6 304.7h1.5M434.4 304.4h1.5M436.4 304.7h1.5M439.0 304.4h1.5M440.0 304.1h1.5M441.9 304.3h1.5M442.4 304.2h1.5M443.6 304.4h1.5M450.1 304.3h1.5M451.8 304.9h1.5M452.7 304.5h1.5M454.1 304.1h1.5M455.1 304.8h1.5M455.6 304.3h1.5M456.9 304.3h1.5M463.0 304.3h1.5M465.0 304.1h1.5M466.1 304.9h1.5M468.0 304.6h1.5M468.4 304.3h1.5M470.6 304.4h1.5M471.5 304.2h1.5M472.9 304.4h1.5M475.8 304.3h1.5M478.1 304.9h1.5M479.5 304.6h1.5M482.5 304.4h1.5M483.4 304.5h1.5M484.5 304.1h1.5M486.1 304.7h1.5M486.8 304.8h1.5M488.5 304.7h1.5M494.8 304.4h1.5M495.9 304.7h1.5M497.6 304.4h1.5M498.4 304.2h1.5M500.9 304.7h1.5M501.8 304.7h1.5M503.4 304.7h1.5M511.8 304.7h1.5M518.5 304.3h1.5M192.7 305.4h1.5M195.9 305.7h1.5M199.8 305.3h1.5M207.6 305.8h1.5M209.0 305.3h1.5M210.6 305.5h1.5M219.9 305.6h1.5M222.6 305.8h1.5M224.9 305.5h1.5M225.8 305.1h1.5M229.8 305.4h1.5M231.0 305.4h1.5M372.0 305.4h1.5M409.1 305.4h1.5M416.5 305.7h1.5M421.1 305.8h1.5M421.9 305.4h1.5M423.5 305.2h1.5M425.4 305.6h1.5M433.5 305.2h1.5M438.7 305.2h1.5M439.9 305.1h1.5M444.1 305.4h1.5M447.0 305.8h1.5M448.1 305.3h1.5M449.0 305.7h1.5M450.0 305.9h1.5M451.1 305.7h1.5M451.9 305.9h1.5M452.5 305.5h1.5M453.8 305.7h1.5M455.7 305.5h1.5M456.9 305.5h1.5M458.6 305.5h1.5M461.1 305.5h1.5M463.6 305.4h1.5M465.7 305.6h1.5M466.5 305.7h1.5M468.1 305.8h1.5M469.1 305.9h1.5M470.1 305.4h1.5M473.5 305.3h1.5M474.6 305.3h1.5M476.1 305.8h1.5M479.1 305.2h1.5M481.4 305.7h1.5M483.7 305.3h1.5M484.4 305.3h1.5M487.0 305.9h1.5M489.0 305.7h1.5M492.1 305.8h1.5M496.0 305.5h1.5M496.7 305.7h1.5M497.7 305.2h1.5M500.9 305.2h1.5M502.7 305.3h1.5M505.1 305.5h1.5M506.7 305.5h1.5M507.7 305.5h1.5M510.1 305.4h1.5M513.6 305.2h1.5M514.6 305.4h1.5M521.4 305.6h1.5M539.1 305.4h1.5M198.8 306.3h1.5M215.7 306.5h1.5M218.1 306.8h1.5M220.1 306.4h1.5M223.5 306.8h1.5M224.5 306.5h1.5M227.1 306.7h1.5M229.1 306.6h1.5M229.8 306.2h1.5M231.9 306.3h1.5M232.4 306.2h1.5M240.7 306.3h1.5M248.4 306.2h1.5M249.5 306.8h1.5M395.4 306.3h1.5M400.8 306.7h1.5M421.8 306.9h1.5M425.7 306.3h1.5M429.9 306.9h1.5M434.4 306.8h1.5M436.5 306.9h1.5M439.5 306.5h1.5M441.8 306.3h1.5M443.0 306.6h1.5M443.5 306.9h1.5M447.1 306.1h1.5M451.6 306.8h1.5M454.5 306.4h1.5M455.6 306.6h1.5M458.0 306.5h1.5M459.4 306.3h1.5M460.7 306.4h1.5M461.6 306.4h1.5M465.8 306.8h1.5M466.7 306.9h1.5M468.4 306.7h1.5M472.5 306.8h1.5M474.1 306.3h1.5M474.8 306.5h1.5M477.1 306.3h1.5M478.1 306.9h1.5M478.8 306.9h1.5M480.1 306.5h1.5M481.7 306.5h1.5M483.6 306.8h1.5M486.0 306.1h1.5M486.6 306.8h1.5M487.6 306.2h1.5M488.7 306.9h1.5M489.7 306.2h1.5M492.1 306.5h1.5M496.1 306.6h1.5M498.9 306.6h1.5M500.1 306.5h1.5M501.6 306.7h1.5M504.6 306.4h1.5M505.6 306.6h1.5M508.8 306.7h1.5M509.4 306.4h1.5M514.4 306.5h1.5M521.6 306.7h1.5M531.4 306.7h1.5M197.6 307.6h1.5M198.4 307.1h1.5M199.6 307.3h1.5M200.7 307.3h1.5M210.8 307.7h1.5M214.0 307.4h1.5M216.6 307.3h1.5M225.7 307.6h1.5M229.0 307.6h1.5M231.4 307.9h1.5M233.8 307.2h1.5M243.4 307.5h1.5M249.4 307.5h1.5M382.1 307.6h1.5M413.9 307.7h1.5M417.7 307.4h1.5M419.0 307.4h1.5M420.1 307.4h1.5M420.8 307.8h1.5M428.7 307.2h1.5M430.4 307.8h1.5M436.1 307.8h1.5M437.0 307.5h1.5M440.4 307.1h1.5M443.7 307.2h1.5M444.5 307.1h1.5M446.1 307.1h1.5M447.6 307.7h1.5M448.5 307.8h1.5M450.1 307.6h1.5M450.6 307.1h1.5M453.5 307.9h1.5M455.4 307.5h1.5M456.5 307.9h1.5M457.7 307.6h1.5M458.6 307.8h1.5M461.9 307.2h1.5M466.1 307.3h1.5M467.5 307.4h1.5M468.4 307.3h1.5M470.0 307.2h1.5M473.9 307.9h1.5M475.0 307.3h1.5M477.4 307.8h1.5M480.9 307.2h1.5M483.6 307.2h1.5M484.5 307.4h1.5M488.7 307.5h1.5M492.0 307.4h1.5M494.0 307.3h1.5M497.0 307.6h1.5M497.5 307.6h1.5M500.7 307.1h1.5M506.5 307.6h1.5M509.5 307.3h1.5M512.0 307.4h1.5M512.4 307.2h1.5M515.1 307.2h1.5M516.1 307.3h1.5M517.7 307.8h1.5M521.8 307.6h1.5M528.1 307.5h1.5M535.9 307.7h1.5M200.0 308.9h1.5M200.9 308.8h1.5M202.4 308.4h1.5M207.0 308.5h1.5M210.9 308.1h1.5M214.6 308.6h1.5M223.4 308.4h1.5M225.6 308.3h1.5M230.8 308.4h1.5M233.6 308.8h1.5M243.8 308.2h1.5M249.7 308.8h1.5M399.9 308.7h1.5M404.1 308.6h1.5M405.4 308.4h1.5M411.8 308.6h1.5M415.0 308.1h1.5M417.4 308.1h1.5M421.7 308.2h1.5M428.0 308.6h1.5M430.9 308.4h1.5M433.7 308.3h1.5M436.6 308.8h1.5M439.4 308.1h1.5M440.8 308.7h1.5M442.0 308.5h1.5M444.0 308.4h1.5M444.9 308.4h1.5M446.7 308.8h1.5M448.5 308.3h1.5M449.6 308.2h1.5M450.5 308.6h1.5M452.6 308.5h1.5M453.4 308.3h1.5M454.7 308.9h1.5M457.0 308.5h1.5M459.6 308.3h1.5M463.0 308.3h1.5M466.8 308.6h1.5M468.0 308.4h1.5M471.1 308.2h1.5M481.4 308.3h1.5M482.7 308.7h1.5M485.5 308.3h1.5M486.5 308.2h1.5M487.9 308.8h1.5M493.4 308.2h1.5M498.8 308.2h1.5M501.1 308.8h1.5M504.7 308.1h1.5M507.9 308.3h1.5M509.5 308.1h1.5M513.0 308.6h1.5M515.0 308.8h1.5M516.8 308.4h1.5M518.1 308.2h1.5M518.8 308.6h1.5M525.8 308.5h1.5M528.4 308.3h1.5M531.0 308.4h1.5M532.6 308.5h1.5M540.9 308.4h1.5M123.7 309.2h1.5M201.5 309.3h1.5M204.7 309.5h1.5M206.1 309.3h1.5M208.9 309.6h1.5M209.4 309.5h1.5M217.8 309.6h1.5M228.1 309.3h1.5M228.4 309.8h1.5M229.4 309.6h1.5M231.0 309.4h1.5M234.8 309.2h1.5M401.0 309.6h1.5M401.6 309.6h1.5M403.8 309.2h1.5M409.5 309.6h1.5M410.4 309.1h1.5M419.8 309.8h1.5M428.0 309.3h1.5M435.8 309.1h1.5M436.4 309.6h1.5M439.4 309.7h1.5M441.0 309.5h1.5M441.6 309.6h1.5M448.5 309.7h1.5M450.6 309.2h1.5M452.1 309.5h1.5M452.7 309.6h1.5M453.5 309.8h1.5M454.5 309.4h1.5M455.4 309.9h1.5M457.1 309.2h1.5M458.7 309.4h1.5M459.7 309.1h1.5M465.4 309.4h1.5M467.6 309.3h1.5M469.0 309.2h1.5M472.0 309.5h1.5M472.7 309.3h1.5M473.6 309.8h1.5M475.1 309.8h1.5M475.6 309.4h1.5M477.6 309.2h1.5M484.5 309.2h1.5M487.7 309.5h1.5M491.0 309.5h1.5M491.8 309.2h1.5M494.0 309.1h1.5M495.6 309.3h1.5M496.9 309.3h1.5M497.5 309.7h1.5M498.7 309.5h1.5M499.6 309.5h1.5M500.6 309.3h1.5M502.0 309.5h1.5M502.5 309.4h1.5M504.8 309.3h1.5M508.6 309.6h1.5M510.1 309.3h1.5M511.5 309.8h1.5M516.6 309.5h1.5M179.9 310.2h1.5M192.6 310.6h1.5M199.9 310.3h1.5M207.1 310.7h1.5M210.6 310.2h1.5M212.8 310.7h1.5M215.4 310.4h1.5M217.0 310.3h1.5M218.6 310.4h1.5M220.8 310.8h1.5M223.5 310.7h1.5M225.9 310.6h1.5M227.7 310.1h1.5M230.1 310.6h1.5M231.1 310.9h1.5M231.8 310.8h1.5M375.5 310.3h1.5M407.6 310.8h1.5M434.8 310.5h1.5M438.0 310.9h1.5M439.1 310.6h1.5M440.1 310.7h1.5M443.0 310.3h1.5M444.7 310.6h1.5M446.8 310.5h1.5M447.6 310.3h1.5M448.8 310.6h1.5M451.6 310.9h1.5M452.8 310.7h1.5M454.4 310.2h1.5M455.4 310.3h1.5M456.9 310.1h1.5M458.7 310.4h1.5M459.5 310.8h1.5M463.1 310.3h1.5M463.4 310.4h1.5M467.1 310.8h1.5M468.0 310.4h1.5M468.4 310.4h1.5M472.0 310.9h1.5M472.9 310.9h1.5M473.5 310.9h1.5M474.9 310.9h1.5M481.1 310.4h1.5M481.4 310.4h1.5M482.6 310.4h1.5M483.5 310.6h1.5M485.0 310.5h1.5M486.5 310.9h1.5M487.4 310.1h1.5M488.4 310.3h1.5M491.0 310.7h1.5M493.5 310.4h1.5M496.1 310.2h1.5M499.4 310.2h1.5M501.7 310.5h1.5M503.5 310.8h1.5M504.5 310.4h1.5M505.5 310.7h1.5M507.8 310.3h1.5M509.5 310.8h1.5M510.6 310.5h1.5M512.0 310.7h1.5M512.8 310.2h1.5M514.4 310.4h1.5M515.6 310.4h1.5M517.8 310.2h1.5M524.6 310.8h1.5M108.4 311.6h1.5M179.4 311.7h1.5M197.6 311.9h1.5M198.8 311.5h1.5M206.7 311.5h1.5M207.5 311.5h1.5M209.5 311.7h1.5M211.6 311.2h1.5M218.1 311.6h1.5M223.4 311.1h1.5M224.4 311.4h1.5M383.4 311.3h1.5M419.8 311.5h1.5M422.4 311.9h1.5M423.6 311.4h1.5M435.6 311.5h1.5M436.7 311.5h1.5M439.7 311.6h1.5M441.0 311.7h1.5M445.6 311.4h1.5M448.5 311.4h1.5M451.0 311.4h1.5M451.5 311.4h1.5M453.5 311.5h1.5M454.4 311.6h1.5M456.1 311.9h1.5M456.9 311.2h1.5M459.9 311.2h1.5M463.4 311.4h1.5M465.0 311.7h1.5M465.4 311.4h1.5M467.9 311.3h1.5M471.0 311.2h1.5M471.7 311.9h1.5M473.5 311.8h1.5M475.1 311.3h1.5M477.4 311.4h1.5M478.6 311.8h1.5M479.8 311.3h1.5M480.9 311.8h1.5M481.5 311.6h1.5M482.6 311.4h1.5M483.7 311.5h1.5M485.1 311.2h1.5M488.1 311.2h1.5M489.4 311.5h1.5M493.0 311.1h1.5M496.7 311.3h1.5M499.6 311.9h1.5M500.7 311.9h1.5M501.4 311.4h1.5M502.9 311.7h1.5M503.9 311.5h1.5M504.5 311.3h1.5M510.4 311.4h1.5M511.9 311.5h1.5M516.1 311.4h1.5M517.5 311.4h1.5M530.1 311.2h1.5M530.8 311.7h1.5M532.5 311.3h1.5M184.0 312.7h1.5M188.0 312.8h1.5M190.6 312.8h1.5M195.8 312.7h1.5M199.5 312.8h1.5M205.8 312.7h1.5M222.5 312.2h1.5M225.6 312.3h1.5M229.0 312.2h1.5M246.0 312.9h1.5M247.9 312.2h1.5M249.1 312.3h1.5M392.0 312.4h1.5M403.8 312.2h1.5M405.9 312.4h1.5M412.5 312.8h1.5M414.4 312.8h1.5M415.5 312.4h1.5M418.0 312.2h1.5M424.1 312.9h1.5M427.5 312.4h1.5M429.1 312.8h1.5M430.0 312.7h1.5M431.5 312.7h1.5M433.8 312.1h1.5M439.6 312.6h1.5M440.9 312.6h1.5M441.6 312.5h1.5M447.7 312.1h1.5M449.8 312.9h1.5M450.6 312.6h1.5M454.0 312.5h1.5M457.8 312.5h1.5M458.4 312.3h1.5M459.8 312.1h1.5M463.7 312.8h1.5M466.1 312.6h1.5M467.1 312.9h1.5M467.4 312.3h1.5M469.0 312.2h1.5M469.8 312.1h1.5M470.8 312.4h1.5M471.4 312.2h1.5M473.1 312.2h1.5M474.9 312.8h1.5M475.9 312.2h1.5M477.1 312.5h1.5M477.4 312.4h1.5M478.7 312.6h1.5M481.4 312.1h1.5M482.6 312.4h1.5M484.1 312.4h1.5M484.7 312.4h1.5M486.0 312.1h1.5M487.0 312.3h1.5M487.8 312.4h1.5M489.0 312.1h1.5M491.5 312.2h1.5M492.4 312.2h1.5M493.5 312.3h1.5M494.4 312.5h1.5M495.4 312.5h1.5M496.4 312.2h1.5M500.4 312.7h1.5M502.4 312.3h1.5M503.8 312.5h1.5M504.6 312.2h1.5M506.1 312.7h1.5M508.9 312.8h1.5M510.1 312.7h1.5M510.9 312.5h1.5M517.1 312.8h1.5M518.1 312.9h1.5M521.7 312.5h1.5M522.5 312.5h1.5M523.4 312.8h1.5M535.1 312.6h1.5M125.5 313.5h1.5M166.1 313.9h1.5M175.9 313.2h1.5M180.0 313.3h1.5M183.4 313.2h1.5M198.1 313.3h1.5M207.4 313.7h1.5M210.0 313.4h1.5M215.4 313.8h1.5M221.1 313.8h1.5M223.4 313.4h1.5M226.5 313.8h1.5M231.7 313.5h1.5M232.5 313.5h1.5M239.4 313.9h1.5M242.6 313.6h1.5M248.4 313.6h1.5M377.8 313.7h1.5M402.9 313.1h1.5M406.7 313.3h1.5M417.8 313.8h1.5M420.5 313.3h1.5M425.7 313.7h1.5M426.9 313.3h1.5M429.1 313.2h1.5M429.8 313.3h1.5M432.1 313.4h1.5M434.7 313.3h1.5M437.8 313.8h1.5M439.9 313.5h1.5M440.4 313.5h1.5M442.0 313.2h1.5M447.0 313.7h1.5M447.4 313.4h1.5M448.9 313.4h1.5M449.7 313.4h1.5M450.5 313.6h1.5M457.5 313.5h1.5M458.5 313.7h1.5M460.1 313.3h1.5M463.0 313.4h1.5M464.9 313.2h1.5M465.5 313.4h1.5M467.9 313.8h1.5M471.6 313.5h1.5M472.8 313.1h1.5M474.4 313.3h1.5M477.1 313.9h1.5M477.6 313.4h1.5M478.9 313.7h1.5M479.4 313.8h1.5M485.5 313.8h1.5M488.0 313.7h1.5M488.9 313.2h1.5M490.8 313.3h1.5M491.7 313.4h1.5M492.9 313.5h1.5M496.1 313.7h1.5M499.0 313.1h1.5M500.0 313.2h1.5M500.7 313.3h1.5M501.7 313.4h1.5M504.1 313.1h1.5M506.6 313.8h1.5M507.8 313.2h1.5M509.5 313.6h1.5M510.7 313.8h1.5M512.5 313.6h1.5M515.1 313.5h1.5M517.1 313.7h1.5M518.6 313.8h1.5M520.0 313.7h1.5M521.0 313.2h1.5M527.1 313.7h1.5M528.9 313.5h1.5M537.5 313.5h1.5M109.9 314.5h1.5M190.6 314.4h1.5M192.7 314.8h1.5M195.4 314.4h1.5M196.4 314.4h1.5M198.1 314.3h1.5M199.7 314.5h1.5M205.7 314.3h1.5M206.9 314.2h1.5M210.4 314.5h1.5M216.9 314.3h1.5M221.9 314.2h1.5M223.4 314.6h1.5M244.0 314.5h1.5M245.8 314.6h1.5M410.8 314.3h1.5M413.6 314.2h1.5M415.4 314.5h1.5M422.5 314.8h1.5M424.5 314.3h1.5M428.0 314.7h1.5M428.8 314.1h1.5M430.1 314.2h1.5M431.5 314.3h1.5M436.0 314.1h1.5M436.9 314.4h1.5M440.7 314.4h1.5M444.9 314.7h1.5M447.5 314.1h1.5M448.9 314.3h1.5M449.6 314.8h1.5M450.8 314.3h1.5M457.9 314.3h1.5M458.5 314.8h1.5M463.1 314.5h1.5M464.4 314.1h1.5M466.1 314.4h1.5M467.1 314.4h1.5M468.0 314.8h1.5M469.7 314.3h1.5M471.0 314.2h1.5M471.9 314.3h1.5M473.1 314.6h1.5M474.9 314.8h1.5M475.4 314.8h1.5M479.8 314.6h1.5M480.4 314.2h1.5M482.8 314.7h1.5M484.4 314.6h1.5M485.7 314.4h1.5M488.0 314.5h1.5M489.4 314.7h1.5M490.6 314.2h1.5M491.4 314.2h1.5M492.6 314.3h1.5M493.7 314.4h1.5M499.4 314.2h1.5M500.6 314.5h1.5M501.9 314.6h1.5M503.7 314.9h1.5M505.4 314.6h1.5M507.7 314.2h1.5M508.4 314.3h1.5M509.5 314.3h1.5M512.7 314.5h1.5M513.5 314.7h1.5M517.8 314.9h1.5M518.4 314.6h1.5M189.0 315.6h1.5M199.0 315.2h1.5M208.0 315.4h1.5M210.0 315.8h1.5M211.8 315.3h1.5M220.0 315.1h1.5M220.4 315.4h1.5M223.4 315.5h1.5M225.6 315.9h1.5M231.1 315.7h1.5M231.7 315.6h1.5M232.8 315.8h1.5M373.6 315.8h1.5M385.8 315.2h1.5M398.0 315.6h1.5M405.8 315.6h1.5M407.4 315.1h1.5M422.6 315.3h1.5M424.7 315.8h1.5M425.4 315.6h1.5M427.4 315.9h1.5M433.9 315.8h1.5M434.4 315.2h1.5M436.6 315.5h1.5M437.8 315.4h1.5M439.0 315.3h1.5M440.6 315.6h1.5M441.4 315.2h1.5M444.1 315.5h1.5M445.9 315.6h1.5M447.0 315.2h1.5M447.9 315.2h1.5M449.9 315.7h1.5M458.4 315.8h1.5M463.5 315.7h1.5M466.1 315.3h1.5M467.6 315.5h1.5M470.8 315.9h1.5M473.9 315.5h1.5M474.8 315.7h1.5M475.4 315.6h1.5M482.8 315.8h1.5M485.7 315.4h1.5M487.6 315.9h1.5M488.7 315.5h1.5M490.8 315.8h1.5M492.4 315.7h1.5M494.7 315.9h1.5M495.5 315.5h1.5M499.8 315.6h1.5M500.5 315.9h1.5M502.7 315.6h1.5M503.7 315.5h1.5M504.5 315.3h1.5M505.5 315.8h1.5M506.8 315.1h1.5M507.8 315.7h1.5M509.1 315.6h1.5M509.9 315.7h1.5M510.8 315.8h1.5M514.1 315.2h1.5M515.1 315.5h1.5M516.8 315.6h1.5M517.7 315.2h1.5M533.1 315.7h1.5M188.6 316.2h1.5M200.0 316.8h1.5M203.5 316.4h1.5M208.5 316.5h1.5M212.6 316.2h1.5M214.8 316.8h1.5M215.6 316.8h1.5M216.5 316.2h1.5M218.4 316.2h1.5M224.4 316.2h1.5M229.1 316.9h1.5M230.0 316.5h1.5M231.0 316.6h1.5M239.9 316.7h1.5M250.8 316.2h1.5M372.7 316.8h1.5M408.9 316.4h1.5M418.7 316.2h1.5M421.1 316.3h1.5M428.5 316.2h1.5M435.7 316.6h1.5M437.0 316.6h1.5M437.8 316.4h1.5M439.0 316.5h1.5M440.9 316.4h1.5M443.7 316.4h1.5M444.7 316.5h1.5M445.4 316.8h1.5M447.7 316.7h1.5M449.1 316.6h1.5M449.4 316.3h1.5M464.1 316.3h1.5M465.0 316.7h1.5M466.0 316.2h1.5M466.5 316.2h1.5M471.0 316.5h1.5M474.1 316.9h1.5M474.6 316.2h1.5M475.5 316.8h1.5M476.5 316.8h1.5M477.6 316.4h1.5M480.6 316.6h1.5M482.4 316.7h1.5M485.5 316.2h1.5M489.6 316.7h1.5M491.0 316.7h1.5M492.1 316.8h1.5M492.4 316.7h1.5M496.1 316.4h1.5M503.1 316.7h1.5M505.1 316.5h1.5M505.8 316.5h1.5M507.7 316.2h1.5M510.5 316.2h1.5M511.6 316.6h1.5M513.6 316.1h1.5M515.6 316.1h1.5M516.7 316.5h1.5M517.4 316.3h1.5M518.5 316.9h1.5M519.7 316.5h1.5M521.4 316.5h1.5M534.0 316.5h1.5M190.9 317.3h1.5M196.5 317.2h1.5M198.0 317.8h1.5M199.1 317.2h1.5M207.0 317.8h1.5M213.6 317.6h1.5M215.8 317.1h1.5M219.9 317.4h1.5M223.0 317.8h1.5M224.7 317.9h1.5M228.6 317.8h1.5M238.7 317.7h1.5M247.4 317.7h1.5M382.0 317.6h1.5M410.9 317.5h1.5M416.8 317.8h1.5M420.8 317.7h1.5M425.1 317.4h1.5M429.4 317.4h1.5M436.1 317.6h1.5M436.6 317.7h1.5M438.8 317.3h1.5M440.7 317.7h1.5M442.6 317.2h1.5M444.7 317.9h1.5M445.8 317.5h1.5M446.6 317.3h1.5M463.5 317.5h1.5M470.4 317.5h1.5M474.6 317.3h1.5M477.8 317.4h1.5M479.4 317.3h1.5M480.4 317.4h1.5M482.1 317.2h1.5M490.4 317.5h1.5M492.4 317.6h1.5M493.6 317.5h1.5M494.9 317.8h1.5M495.9 317.1h1.5M505.8 317.5h1.5M507.7 317.4h1.5M511.7 317.8h1.5M513.4 317.2h1.5M515.9 317.8h1.5M518.0 317.2h1.5M522.1 317.3h1.5M522.6 317.4h1.5M524.7 317.3h1.5M540.6 317.2h1.5M110.9 318.3h1.5M199.9 318.3h1.5M201.5 318.2h1.5M207.5 318.4h1.5M209.1 318.7h1.5M212.8 318.2h1.5M213.5 318.8h1.5M216.6 318.4h1.5M224.7 318.4h1.5M225.9 318.8h1.5M227.0 318.5h1.5M228.0 318.7h1.5M229.4 318.3h1.5M233.4 318.4h1.5M250.9 318.3h1.5M372.9 318.4h1.5M382.4 318.4h1.5M419.8 318.4h1.5M424.0 318.8h1.5M425.0 318.5h1.5M426.0 318.3h1.5M427.8 318.5h1.5M433.7 318.2h1.5M434.8 318.9h1.5M435.9 318.2h1.5M436.5 318.1h1.5M437.9 318.1h1.5M440.6 318.6h1.5M443.1 318.8h1.5M443.6 318.4h1.5M448.0 318.1h1.5M471.0 318.6h1.5M478.0 318.8h1.5M478.9 318.2h1.5M480.1 318.8h1.5M481.4 318.8h1.5M492.6 318.4h1.5M494.1 318.1h1.5M494.8 318.7h1.5M505.6 318.5h1.5M507.5 318.7h1.5M513.6 318.2h1.5M515.4 318.9h1.5M516.9 318.2h1.5M517.4 318.1h1.5M519.9 318.8h1.5M523.4 318.8h1.5M532.5 318.5h1.5M536.7 318.3h1.5M538.4 318.4h1.5M199.4 319.6h1.5M209.1 319.3h1.5M211.1 319.1h1.5M211.9 319.5h1.5M218.9 319.3h1.5M223.5 319.7h1.5M224.4 319.5h1.5M225.5 319.9h1.5M228.7 319.2h1.5M230.0 319.5h1.5M231.7 319.3h1.5M233.6 319.1h1.5M235.4 319.8h1.5M249.5 319.9h1.5M374.7 319.2h1.5M408.6 319.8h1.5M410.7 319.4h1.5M411.8 319.4h1.5M414.6 319.5h1.5M423.1 319.1h1.5M426.8 319.4h1.5M429.1 319.5h1.5M435.7 319.2h1.5M437.8 319.2h1.5M442.1 319.8h1.5M442.6 319.9h1.5M477.9 319.4h1.5M479.0 319.9h1.5M479.5 319.4h1.5M480.6 319.5h1.5M488.6 319.7h1.5M489.4 319.6h1.5M494.6 319.4h1.5M505.6 319.6h1.5M508.0 319.5h1.5M511.1 319.6h1.5M511.4 319.2h1.5M513.9 319.7h1.5M514.9 319.3h1.5M515.6 319.5h1.5M517.0 319.1h1.5M517.7 319.5h1.5M519.4 319.3h1.5M520.4 319.1h1.5M525.9 319.4h1.5M532.1 319.8h1.5M532.8 319.7h1.5M541.1 319.3h1.5M162.5 320.9h1.5M184.5 320.9h1.5M186.0 320.7h1.5M198.6 320.2h1.5M199.9 320.4h1.5M201.8 320.6h1.5M208.7 320.6h1.5M216.9 320.6h1.5M221.9 320.7h1.5M227.1 320.5h1.5M244.1 320.4h1.5M244.9 320.4h1.5M404.6 320.6h1.5M414.8 320.6h1.5M418.6 320.1h1.5M421.1 320.1h1.5M427.9 320.9h1.5M428.5 320.8h1.5M430.0 320.9h1.5M432.0 320.4h1.5M434.1 320.5h1.5M435.1 320.5h1.5M435.7 320.1h1.5M436.5 320.5h1.5M441.5 320.1h1.5M479.4 320.7h1.5M493.5 320.2h1.5M505.9 320.4h1.5M507.4 320.1h1.5M510.7 320.9h1.5M515.9 320.6h1.5M517.5 320.5h1.5M527.8 320.5h1.5M528.9 320.3h1.5M529.8 320.4h1.5M531.4 320.6h1.5M536.8 320.7h1.5M108.4 321.6h1.5M123.4 321.4h1.5M186.0 321.7h1.5M200.0 321.4h1.5M203.1 321.4h1.5M204.4 321.2h1.5M208.6 321.8h1.5M215.5 321.8h1.5M216.6 321.7h1.5M220.5 321.6h1.5M224.8 321.3h1.5M226.0 321.7h1.5M227.1 321.6h1.5M230.0 321.8h1.5M230.7 321.6h1.5M236.6 321.6h1.5M238.6 321.8h1.5M245.8 321.8h1.5M250.9 321.8h1.5M373.6 321.5h1.5M406.8 321.6h1.5M408.5 321.6h1.5M410.4 321.3h1.5M423.0 321.5h1.5M423.5 321.6h1.5M425.0 321.6h1.5M426.1 321.4h1.5M426.5 321.3h1.5M428.6 321.8h1.5M434.8 321.4h1.5M435.6 321.7h1.5M436.4 321.2h1.5M437.8 321.1h1.5M489.5 321.4h1.5M493.8 321.5h1.5M494.5 321.1h1.5M506.9 321.3h1.5M511.0 321.6h1.5M514.5 321.7h1.5M516.1 321.5h1.5M518.9 321.5h1.5M519.9 321.5h1.5M520.9 321.6h1.5M526.6 321.8h1.5M527.4 321.5h1.5M528.9 321.2h1.5M530.7 321.9h1.5M533.1 321.8h1.5M534.5 321.3h1.5M539.9 321.5h1.5M120.9 322.6h1.5M182.9 322.5h1.5M194.8 322.2h1.5M196.6 322.5h1.5M203.1 322.1h1.5M204.6 322.1h1.5M209.6 322.2h1.5M211.0 322.3h1.5M215.1 322.1h1.5M218.7 322.6h1.5M226.4 322.3h1.5M228.8 322.8h1.5M230.1 322.9h1.5M231.1 322.5h1.5M233.6 322.4h1.5M241.0 322.6h1.5M248.0 322.2h1.5M250.0 322.4h1.5M251.0 322.7h1.5M396.9 322.4h1.5M413.7 322.4h1.5M414.7 322.8h1.5M417.9 322.2h1.5M422.5 322.7h1.5M424.8 322.5h1.5M425.4 322.6h1.5M427.6 322.1h1.5M428.4 322.4h1.5M430.4 322.2h1.5M432.4 322.5h1.5M436.4 322.8h1.5M479.5 322.7h1.5M493.5 322.5h1.5M495.0 322.2h1.5M506.8 322.4h1.5M518.4 322.8h1.5M519.5 322.6h1.5M521.0 322.4h1.5M525.9 322.4h1.5M528.6 322.9h1.5M529.4 322.5h1.5M530.6 322.3h1.5M539.6 322.4h1.5M165.6 323.3h1.5M196.1 323.7h1.5M207.0 323.6h1.5M208.0 323.9h1.5M208.8 323.5h1.5M212.0 323.8h1.5M214.1 323.8h1.5M215.8 323.3h1.5M216.7 323.1h1.5M217.6 323.8h1.5M221.8 323.1h1.5M223.5 323.6h1.5M225.5 323.1h1.5M227.0 323.7h1.5M227.5 323.7h1.5M228.6 323.6h1.5M249.1 323.4h1.5M373.9 323.2h1.5M385.8 323.2h1.5M390.4 323.2h1.5M404.4 323.6h1.5M413.4 323.1h1.5M414.5 323.7h1.5M418.5 323.5h1.5M419.4 323.6h1.5M423.4 323.7h1.5M425.1 323.6h1.5M426.1 323.4h1.5M427.9 323.2h1.5M430.9 323.1h1.5M434.6 323.5h1.5M493.7 323.3h1.5M494.6 323.6h1.5M505.9 323.5h1.5M521.5 323.5h1.5M526.6 323.6h1.5M527.5 323.5h1.5M528.9 323.2h1.5M532.1 323.6h1.5M534.9 323.6h1.5M540.5 323.3h1.5M127.5 324.9h1.5M174.8 324.6h1.5M187.8 324.2h1.5M196.7 324.1h1.5M200.4 324.3h1.5M204.4 324.3h1.5M205.5 324.5h1.5M207.8 324.7h1.5M209.9 324.5h1.5M216.0 324.2h1.5M217.0 324.6h1.5M217.5 324.7h1.5M221.0 324.6h1.5M221.5 324.3h1.5M222.6 324.6h1.5M223.5 324.2h1.5M227.6 324.8h1.5M229.7 324.8h1.5M230.9 324.4h1.5M231.5 324.7h1.5M232.5 324.7h1.5M234.8 324.3h1.5M239.7 324.7h1.5M241.1 324.5h1.5M241.4 324.2h1.5M373.4 324.3h1.5M403.7 324.5h1.5M405.5 324.3h1.5M410.9 324.6h1.5M418.7 324.8h1.5M423.8 324.7h1.5M424.8 324.7h1.5M425.9 324.7h1.5M430.7 324.6h1.5M431.6 324.3h1.5M434.9 324.6h1.5M518.4 324.7h1.5M522.6 324.8h1.5M526.8 324.9h1.5M527.6 324.4h1.5M532.9 324.9h1.5M539.0 324.5h1.5M541.0 324.3h1.5M190.8 325.9h1.5M193.6 325.2h1.5M197.7 325.6h1.5M198.9 325.7h1.5M206.1 325.7h1.5M209.0 325.9h1.5M210.9 325.6h1.5M212.9 325.7h1.5M213.4 325.6h1.5M214.7 325.9h1.5M217.1 325.5h1.5M224.9 325.3h1.5M226.9 325.3h1.5M228.0 325.5h1.5M228.6 325.3h1.5M232.4 325.2h1.5M239.9 325.6h1.5M397.7 325.8h1.5M406.7 325.3h1.5M409.4 325.1h1.5M414.5 325.3h1.5M417.0 325.1h1.5M419.1 325.6h1.5M420.4 325.2h1.5M422.8 325.4h1.5M423.6 325.7h1.5M424.8 325.3h1.5M425.5 325.8h1.5M427.1 325.4h1.5M431.6 325.2h1.5M434.9 325.4h1.5M519.7 325.8h1.5M521.9 325.9h1.5M525.9 325.6h1.5M527.6 325.6h1.5M529.4 325.4h1.5M537.4 325.5h1.5M538.6 325.3h1.5M159.0 326.8h1.5M193.8 326.5h1.5M202.7 326.6h1.5M205.4 326.2h1.5M206.6 326.8h1.5M208.8 326.4h1.5M210.9 326.9h1.5M215.9 326.6h1.5M217.6 326.3h1.5M221.9 326.7h1.5M222.4 326.2h1.5M224.7 326.4h1.5M225.9 326.9h1.5M227.0 326.6h1.5M229.1 326.5h1.5M229.9 326.6h1.5M230.9 326.3h1.5M231.7 326.5h1.5M235.7 326.7h1.5M239.6 326.3h1.5M244.1 326.5h1.5M244.6 326.6h1.5M381.5 326.8h1.5M394.0 326.3h1.5M395.7 326.4h1.5M399.7 326.5h1.5M411.1 326.6h1.5M414.4 326.8h1.5M416.4 326.4h1.5M419.8 326.5h1.5M420.4 326.1h1.5M424.1 326.9h1.5M426.1 326.8h1.5M431.6 326.2h1.5M435.0 326.2h1.5M519.7 326.2h1.5M524.8 326.8h1.5M527.7 326.8h1.5M529.1 326.5h1.5M533.6 326.3h1.5M537.1 326.7h1.5M539.6 326.1h1.5M126.6 327.4h1.5M168.1 327.9h1.5M185.4 327.2h1.5M188.5 327.4h1.5M191.8 327.1h1.5M199.1 327.8h1.5M203.0 327.5h1.5M206.9 327.8h1.5M208.4 327.5h1.5M209.4 327.2h1.5M211.0 327.2h1.5M214.0 327.4h1.5M217.1 327.2h1.5M222.6 327.3h1.5M224.8 327.2h1.5M230.6 327.7h1.5M231.4 327.8h1.5M232.9 327.7h1.5M234.9 327.2h1.5M379.4 327.8h1.5M394.8 327.6h1.5M408.0 327.4h1.5M411.0 327.3h1.5M411.6 327.6h1.5M413.4 327.4h1.5M414.5 327.8h1.5M415.5 327.2h1.5M416.7 327.3h1.5M418.7 327.7h1.5M420.7 327.4h1.5M421.5 327.3h1.5M423.6 327.8h1.5M424.5 327.7h1.5M432.0 327.4h1.5M433.0 327.4h1.5M521.1 327.5h1.5M523.7 327.9h1.5M526.0 327.3h1.5M527.5 327.4h1.5M530.6 327.5h1.5M532.7 327.3h1.5M535.6 327.8h1.5M536.5 327.1h1.5M539.1 327.6h1.5M540.7 327.8h1.5M125.9 328.1h1.5M126.5 328.4h1.5M189.9 328.8h1.5M194.9 328.4h1.5M207.1 328.6h1.5M208.6 328.5h1.5M212.1 328.4h1.5M214.0 328.5h1.5M215.5 328.6h1.5M216.7 328.9h1.5M217.7 328.4h1.5M223.1 328.6h1.5M223.9 328.6h1.5M224.5 328.3h1.5M225.7 328.3h1.5M228.0 328.1h1.5M228.4 328.2h1.5M230.9 328.5h1.5M231.9 328.8h1.5M375.0 328.2h1.5M377.5 328.1h1.5M385.1 328.5h1.5M398.7 328.7h1.5M401.9 328.7h1.5M412.5 328.3h1.5M415.4 328.7h1.5M416.4 328.5h1.5M421.8 328.9h1.5M423.1 328.3h1.5M432.9 328.8h1.5M433.4 328.7h1.5M520.4 328.2h1.5M523.1 328.9h1.5M531.7 328.7h1.5M533.1 328.5h1.5M535.0 328.8h1.5M535.9 328.3h1.5M537.0 328.4h1.5M537.7 328.4h1.5M123.6 329.6h1.5M159.4 329.5h1.5M189.1 329.8h1.5M195.4 329.9h1.5M199.0 329.1h1.5M202.4 329.7h1.5M207.8 329.8h1.5M209.1 329.7h1.5M211.8 329.8h1.5M212.8 329.7h1.5M214.8 329.6h1.5M215.4 329.3h1.5M217.1 329.5h1.5M220.9 329.4h1.5M223.1 329.7h1.5M224.0 329.6h1.5M224.5 329.8h1.5M226.0 329.7h1.5M226.8 329.5h1.5M227.5 329.1h1.5M228.8 329.8h1.5M233.1 329.7h1.5M236.4 329.7h1.5M239.9 329.1h1.5M243.7 329.4h1.5M244.7 329.7h1.5M245.9 329.2h1.5M247.5 329.9h1.5M249.4 329.5h1.5M379.5 329.6h1.5M404.7 329.2h1.5M407.9 329.7h1.5M411.7 329.2h1.5M413.0 329.8h1.5M416.6 329.2h1.5M417.4 329.7h1.5M418.8 329.6h1.5M422.9 329.8h1.5M431.7 329.5h1.5M433.4 329.1h1.5M519.7 329.2h1.5M520.9 329.1h1.5M523.6 329.3h1.5M528.0 329.5h1.5M528.5 329.4h1.5M537.9 329.4h1.5M539.7 329.6h1.5M540.4 329.7h1.5M170.6 330.7h1.5M182.5 330.5h1.5M184.8 330.3h1.5M186.0 330.3h1.5M190.0 330.2h1.5M190.9 330.6h1.5M194.4 330.8h1.5M196.8 330.2h1.5M200.0 330.3h1.5M202.6 330.6h1.5M203.7 330.6h1.5M207.7 330.2h1.5M209.7 330.3h1.5M212.4 330.8h1.5M214.8 330.5h1.5M216.6 330.5h1.5M218.8 330.2h1.5M219.4 330.4h1.5M222.6 330.4h1.5M224.4 330.4h1.5M228.0 330.6h1.5M229.1 330.2h1.5M229.9 330.6h1.5M230.7 330.7h1.5M231.7 330.3h1.5M232.8 330.3h1.5M234.5 330.5h1.5M238.4 330.5h1.5M251.0 330.4h1.5M377.7 330.9h1.5M380.9 330.6h1.5M394.7 330.1h1.5M396.6 330.6h1.5M402.4 330.8h1.5M409.8 330.7h1.5M411.8 330.9h1.5M416.4 330.7h1.5M417.5 330.8h1.5M423.1 330.5h1.5M423.9 330.6h1.5M424.5 330.4h1.5M431.6 330.7h1.5M433.9 330.8h1.5M520.0 330.3h1.5M527.4 330.1h1.5M528.9 330.6h1.5M530.8 330.8h1.5M531.9 330.5h1.5M532.4 330.3h1.5M537.7 330.1h1.5M539.9 330.3h1.5M109.6 331.5h1.5M146.8 331.3h1.5M181.7 331.4h1.5M185.8 331.3h1.5M201.0 331.1h1.5M203.0 331.4h1.5M205.4 331.7h1.5M207.9 331.6h1.5M210.4 331.2h1.5M212.6 331.6h1.5M214.9 331.1h1.5M216.0 331.5h1.5M218.1 331.9h1.5M218.6 331.6h1.5M223.8 331.7h1.5M224.9 331.6h1.5M226.0 331.4h1.5M228.1 331.9h1.5M228.6 331.5h1.5M229.5 331.6h1.5M231.5 331.4h1.5M233.0 331.6h1.5M233.4 331.2h1.5M243.5 331.3h1.5M248.0 331.6h1.5M250.1 331.7h1.5M368.7 331.7h1.5M381.0 331.2h1.5M393.7 331.5h1.5M406.6 331.6h1.5M407.8 331.4h1.5M409.4 331.3h1.5M417.7 331.6h1.5M423.9 331.6h1.5M425.1 331.2h1.5M433.1 331.8h1.5M519.5 331.2h1.5M520.7 331.3h1.5M527.4 331.6h1.5M531.4 331.1h1.5M533.1 331.8h1.5M533.5 331.8h1.5M535.6 331.4h1.5M538.9 331.8h1.5M539.5 331.5h1.5M168.7 332.4h1.5M194.4 332.9h1.5M196.0 332.5h1.5M196.6 332.5h1.5M200.5 332.6h1.5M204.6 332.6h1.5M205.8 332.7h1.5M206.7 332.1h1.5M208.6 332.7h1.5M211.6 332.8h1.5M213.6 332.8h1.5M214.7 332.4h1.5M215.6 332.1h1.5M217.9 332.2h1.5M219.6 332.2h1.5M224.4 332.7h1.5M225.4 332.4h1.5M227.6 332.2h1.5M230.1 332.4h1.5M230.7 332.3h1.5M233.7 332.8h1.5M234.4 332.9h1.5M246.7 332.8h1.5M372.4 332.3h1.5M400.5 332.9h1.5M403.5 332.3h1.5M404.6 332.6h1.5M416.5 332.3h1.5M417.5 332.3h1.5M422.4 332.6h1.5M432.7 332.5h1.5M519.6 332.1h1.5M525.0 332.5h1.5M526.0 332.3h1.5M529.7 332.5h1.5M531.1 332.1h1.5M532.6 332.8h1.5M534.4 332.8h1.5M536.0 332.7h1.5M537.1 332.2h1.5M537.4 332.2h1.5M189.7 333.5h1.5M190.4 333.2h1.5M192.9 333.8h1.5M195.0 333.5h1.5M200.4 333.4h1.5M201.9 333.3h1.5M205.8 333.7h1.5M208.5 333.3h1.5M210.5 333.8h1.5M212.5 333.3h1.5M215.5 333.4h1.5M225.8 333.9h1.5M226.4 333.8h1.5M228.1 333.8h1.5M228.6 333.8h1.5M231.7 333.5h1.5M232.9 333.6h1.5M238.4 333.4h1.5M243.5 333.2h1.5M244.9 333.6h1.5M246.9 333.7h1.5M247.7 333.3h1.5M249.9 333.3h1.5M250.9 333.7h1.5M374.9 333.6h1.5M385.0 333.8h1.5M397.9 333.6h1.5M412.0 333.8h1.5M417.7 333.8h1.5M423.0 333.7h1.5M423.9 333.4h1.5M519.4 333.7h1.5M522.8 333.2h1.5M530.1 333.5h1.5M530.7 333.7h1.5M531.6 333.1h1.5M537.6 333.1h1.5M540.0 333.5h1.5M540.6 333.8h1.5M181.5 334.4h1.5M191.9 334.5h1.5M193.1 334.3h1.5M196.8 334.8h1.5M198.4 334.6h1.5M200.4 334.5h1.5M202.6 334.6h1.5M204.9 334.6h1.5M208.1 334.3h1.5M209.0 334.3h1.5M210.4 334.3h1.5M214.9 334.2h1.5M217.0 334.8h1.5M217.7 334.7h1.5M220.5 334.6h1.5M224.8 334.5h1.5M225.7 334.7h1.5M227.6 334.6h1.5M228.4 334.7h1.5M230.6 334.2h1.5M231.9 334.8h1.5M233.6 334.2h1.5M250.9 334.4h1.5M396.7 334.3h1.5M397.5 334.8h1.5M400.9 334.6h1.5M403.1 334.8h1.5M406.9 334.6h1.5M410.9 334.7h1.5M411.7 334.5h1.5M414.0 334.3h1.5M416.1 334.7h1.5M423.8 334.8h1.5M519.9 334.4h1.5M520.4 334.9h1.5M522.4 334.8h1.5M527.9 334.6h1.5M528.6 334.3h1.5M529.6 334.8h1.5M530.8 334.1h1.5M532.4 334.2h1.5M534.8 334.6h1.5M535.9 334.7h1.5M536.9 334.5h1.5M537.4 334.4h1.5M539.4 334.7h1.5M541.0 334.7h1.5M153.1 335.2h1.5M194.1 335.1h1.5M196.8 335.5h1.5M201.6 335.1h1.5M205.0 335.6h1.5M205.6 335.2h1.5M209.1 335.2h1.5M210.8 335.7h1.5M211.4 335.1h1.5M214.4 335.2h1.5M216.1 335.6h1.5M217.6 335.8h1.5M219.5 335.5h1.5M221.4 335.6h1.5M222.6 335.5h1.5M226.1 335.4h1.5M227.4 335.8h1.5M229.0 335.1h1.5M229.7 335.3h1.5M231.0 335.4h1.5M235.0 335.6h1.5M236.1 335.5h1.5M236.5 335.5h1.5M242.9 335.7h1.5M243.5 335.7h1.5M244.5 335.1h1.5M246.5 335.8h1.5M248.1 335.4h1.5M250.1 335.5h1.5M374.9 335.3h1.5M386.5 335.9h1.5M389.4 335.2h1.5M392.0 335.6h1.5M395.8 335.4h1.5M398.0 335.6h1.5M398.9 335.7h1.5M400.6 335.2h1.5M405.8 335.3h1.5M407.0 335.4h1.5M422.7 335.8h1.5M519.4 335.5h1.5M521.7 335.8h1.5M522.9 335.5h1.5M523.8 335.4h1.5M526.0 335.5h1.5M529.9 335.9h1.5M530.8 335.5h1.5M531.9 335.6h1.5M534.5 335.6h1.5M535.5 335.1h1.5M539.4 335.2h1.5M540.7 335.3h1.5M122.7 336.8h1.5M148.6 336.3h1.5M171.0 336.6h1.5M188.5 336.7h1.5M192.4 336.2h1.5M194.7 336.8h1.5M197.6 336.8h1.5M202.4 336.4h1.5M204.7 336.2h1.5M206.7 336.6h1.5M209.1 336.5h1.5M210.9 336.7h1.5M211.5 336.7h1.5M213.1 336.4h1.5M215.0 336.7h1.5M225.1 336.8h1.5M225.7 336.4h1.5M227.5 336.8h1.5M230.0 336.3h1.5M231.0 336.9h1.5M231.9 336.2h1.5M235.4 336.5h1.5M241.7 336.8h1.5M242.4 336.8h1.5M395.1 336.5h1.5M399.6 336.9h1.5M403.0 336.1h1.5M407.9 336.4h1.5M408.8 336.5h1.5M409.9 336.3h1.5M412.6 336.2h1.5M520.4 336.3h1.5M524.0 336.3h1.5M524.7 336.3h1.5M528.4 336.3h1.5M529.7 336.6h1.5M531.9 336.8h1.5M533.0 336.4h1.5M534.0 336.8h1.5M534.5 336.3h1.5M535.4 336.3h1.5M540.1 336.1h1.5M139.7 337.9h1.5M186.5 337.4h1.5M190.5 337.4h1.5M195.0 337.3h1.5M200.4 337.6h1.5M203.0 337.2h1.5M203.9 337.4h1.5M205.5 337.5h1.5M209.1 337.5h1.5M210.1 337.6h1.5M212.4 337.6h1.5M216.7 337.7h1.5M218.8 337.8h1.5M224.7 337.1h1.5M226.1 337.5h1.5M227.7 337.5h1.5M228.9 337.2h1.5M230.1 337.5h1.5M231.1 337.5h1.5M231.8 337.7h1.5M233.1 337.1h1.5M233.7 337.6h1.5M234.9 337.1h1.5M245.4 337.2h1.5M247.7 337.3h1.5M250.6 337.6h1.5M374.8 337.2h1.5M375.4 337.3h1.5M378.4 337.3h1.5M388.8 337.2h1.5M406.1 337.6h1.5M408.1 337.1h1.5M411.8 337.7h1.5M413.5 337.5h1.5M519.9 337.6h1.5M525.6 337.4h1.5M527.5 337.8h1.5M528.7 337.9h1.5M530.4 337.9h1.5M534.4 337.6h1.5M538.0 337.4h1.5M538.6 337.6h1.5M161.4 338.6h1.5M188.7 338.8h1.5M197.5 338.5h1.5M199.1 338.6h1.5M199.7 338.8h1.5M200.9 338.7h1.5M203.1 338.6h1.5M203.7 338.5h1.5M209.9 338.2h1.5M210.7 338.7h1.5M213.0 338.5h1.5M219.7 338.6h1.5M220.7 338.2h1.5M222.1 338.2h1.5M224.7 338.8h1.5M225.6 338.2h1.5M228.1 338.3h1.5M229.8 338.8h1.5M230.9 338.7h1.5M231.7 338.8h1.5M232.7 338.8h1.5M244.0 338.6h1.5M245.4 338.6h1.5M247.1 338.8h1.5M249.8 338.1h1.5M250.9 338.5h1.5M371.1 338.8h1.5M379.0 338.3h1.5M382.4 338.7h1.5M394.0 338.3h1.5M395.0 338.8h1.5M398.1 338.5h1.5M401.6 338.5h1.5M403.0 338.5h1.5M404.0 338.1h1.5M407.8 338.5h1.5M410.0 338.9h1.5M410.5 338.8h1.5M411.7 338.8h1.5M524.8 338.4h1.5M526.1 338.3h1.5M527.9 338.2h1.5M528.4 338.3h1.5M530.0 338.6h1.5M140.9 339.2h1.5M165.0 339.3h1.5M174.0 339.1h1.5M179.9 339.3h1.5M181.8 339.3h1.5M182.5 339.3h1.5M197.8 339.9h1.5M199.0 339.9h1.5M201.1 339.4h1.5M201.5 339.6h1.5M204.9 339.2h1.5M207.6 339.7h1.5M208.8 339.7h1.5M209.6 339.1h1.5M214.5 339.7h1.5M215.8 339.2h1.5M218.6 339.2h1.5M220.7 339.6h1.5M223.1 339.2h1.5M223.9 339.9h1.5M224.5 339.1h1.5M225.6 339.1h1.5M226.8 339.2h1.5M227.4 339.7h1.5M229.0 339.3h1.5M229.9 339.2h1.5M230.4 339.1h1.5M231.4 339.9h1.5M233.4 339.7h1.5M235.7 339.2h1.5M240.5 339.1h1.5M244.7 339.8h1.5M245.8 339.5h1.5M248.0 339.4h1.5M382.8 339.9h1.5M387.4 339.5h1.5M395.6 339.8h1.5M397.0 339.1h1.5M398.0 339.6h1.5M400.0 339.7h1.5M400.9 339.7h1.5M410.5 339.3h1.5M413.6 339.2h1.5M414.6 339.5h1.5M519.5 339.8h1.5M534.8 339.5h1.5M125.6 340.3h1.5M171.9 340.8h1.5M195.4 340.7h1.5M202.9 340.8h1.5M203.5 340.2h1.5M206.0 340.5h1.5M209.1 340.4h1.5M209.8 340.2h1.5M210.4 340.7h1.5M218.4 340.1h1.5M219.9 340.1h1.5M220.6 340.7h1.5M221.8 340.4h1.5M223.0 340.1h1.5M224.0 340.1h1.5M227.1 340.5h1.5M228.9 340.2h1.5M229.6 340.5h1.5M230.8 340.3h1.5M231.7 340.1h1.5M232.7 340.4h1.5M234.1 340.6h1.5M243.1 340.2h1.5M243.7 340.8h1.5M247.1 340.2h1.5M251.1 340.7h1.5M374.7 340.8h1.5M378.8 340.6h1.5M380.7 340.3h1.5M387.8 340.8h1.5M395.0 340.4h1.5M397.9 340.6h1.5M401.4 340.8h1.5M406.4 340.7h1.5M409.8 340.6h1.5M414.6 340.5h1.5M520.0 340.7h1.5M520.4 340.4h1.5M522.6 340.2h1.5M524.8 340.8h1.5M527.0 340.4h1.5M527.7 340.4h1.5M528.8 340.8h1.5M529.6 340.8h1.5M533.6 340.3h1.5M534.6 340.2h1.5M538.9 340.3h1.5M165.8 341.9h1.5M170.4 341.5h1.5M184.8 341.6h1.5M187.0 341.9h1.5M190.7 341.4h1.5M194.0 341.2h1.5M195.9 341.6h1.5M197.7 341.5h1.5M202.4 341.1h1.5M203.8 341.5h1.5M205.6 341.3h1.5M208.1 341.4h1.5M209.0 341.8h1.5M214.8 341.5h1.5M218.9 341.5h1.5M222.0 341.7h1.5M223.1 341.4h1.5M223.9 341.6h1.5M225.7 341.4h1.5M226.5 341.4h1.5M228.0 341.8h1.5M228.4 341.8h1.5M229.4 341.7h1.5M231.0 341.5h1.5M231.9 341.5h1.5M236.7 341.3h1.5M240.0 341.8h1.5M245.1 341.2h1.5M246.7 341.3h1.5M248.4 341.2h1.5M249.5 341.3h1.5M250.7 341.3h1.5M373.5 341.6h1.5M394.4 341.5h1.5M397.7 341.3h1.5M398.7 341.2h1.5M401.9 341.3h1.5M406.0 341.7h1.5M409.8 341.6h1.5M411.1 341.3h1.5M411.5 341.5h1.5M519.8 341.3h1.5M520.6 341.4h1.5M522.7 341.3h1.5M525.4 341.1h1.5M526.8 341.4h1.5M529.9 341.6h1.5M164.5 342.5h1.5M183.4 342.5h1.5M191.4 342.2h1.5M196.7 342.9h1.5M199.1 342.6h1.5M200.4 342.6h1.5M201.4 342.3h1.5M204.0 342.6h1.5M206.6 342.7h1.5M207.8 342.7h1.5M208.9 342.2h1.5M209.6 342.7h1.5M212.1 342.4h1.5M212.7 342.2h1.5M213.7 342.7h1.5M215.1 342.5h1.5M218.8 342.3h1.5M219.5 342.2h1.5M221.6 342.7h1.5M223.0 342.8h1.5M223.7 342.6h1.5M226.6 342.5h1.5M228.4 342.9h1.5M230.4 342.5h1.5M246.5 342.8h1.5M247.6 342.4h1.5M249.1 342.5h1.5M369.8 342.6h1.5M380.4 342.3h1.5M388.8 342.2h1.5M392.6 342.5h1.5M396.1 342.2h1.5M399.1 342.5h1.5M399.8 342.9h1.5M406.0 342.7h1.5M406.6 342.3h1.5M407.5 342.2h1.5M409.9 342.6h1.5M410.4 342.9h1.5M411.8 342.6h1.5M414.0 342.8h1.5M519.5 342.8h1.5M521.9 342.2h1.5M524.5 342.9h1.5M525.9 342.6h1.5M527.5 342.5h1.5M528.7 342.6h1.5M533.7 342.5h1.5M167.4 343.7h1.5M178.9 343.3h1.5M181.4 343.2h1.5M184.9 343.2h1.5M187.7 343.7h1.5M191.0 343.8h1.5M195.7 343.4h1.5M198.4 343.8h1.5M199.6 343.8h1.5M200.9 343.5h1.5M201.4 343.7h1.5M202.5 343.5h1.5M204.4 343.6h1.5M208.0 343.2h1.5M208.6 343.6h1.5M209.5 343.3h1.5M210.9 343.5h1.5M212.6 343.5h1.5M220.8 343.6h1.5M224.0 343.7h1.5M226.9 343.8h1.5M229.0 343.2h1.5M232.5 343.7h1.5M233.9 343.8h1.5M242.8 343.8h1.5M247.7 343.4h1.5M248.9 343.2h1.5M368.9 343.7h1.5M375.5 343.8h1.5M395.6 343.9h1.5M396.8 343.4h1.5M397.5 343.4h1.5M398.7 343.4h1.5M400.7 343.1h1.5M402.8 343.5h1.5M403.5 343.3h1.5M404.8 343.8h1.5M405.9 343.2h1.5M409.7 343.6h1.5M410.6 343.8h1.5M412.5 343.2h1.5M520.0 343.4h1.5M521.1 343.2h1.5M522.0 343.8h1.5M522.6 343.2h1.5M525.0 343.2h1.5M525.7 343.2h1.5M527.5 343.4h1.5M528.7 343.2h1.5M169.4 344.8h1.5M174.4 344.7h1.5M181.8 344.9h1.5M183.1 344.7h1.5M186.1 344.3h1.5M187.9 344.2h1.5M191.6 344.5h1.5M192.4 344.4h1.5M197.0 344.7h1.5M199.4 344.7h1.5M202.0 344.3h1.5M202.9 344.9h1.5M203.4 344.9h1.5M205.9 344.8h1.5M207.8 344.4h1.5M208.6 344.6h1.5M210.0 344.5h1.5M210.6 344.4h1.5M220.9 344.2h1.5M222.5 344.7h1.5M227.1 344.8h1.5M227.9 344.8h1.5M228.7 344.1h1.5M232.4 344.3h1.5M234.1 344.5h1.5M238.7 344.7h1.5M242.1 344.2h1.5M244.1 344.8h1.5M245.8 344.9h1.5M247.7 344.4h1.5M249.6 344.7h1.5M250.7 344.1h1.5M368.7 344.7h1.5M376.5 344.3h1.5M379.5 344.5h1.5M381.0 344.4h1.5M385.1 344.4h1.5M385.7 344.4h1.5M395.1 344.2h1.5M398.8 344.4h1.5M402.6 344.7h1.5M404.9 344.2h1.5M408.9 344.6h1.5M411.0 344.1h1.5M412.1 344.2h1.5M412.6 344.8h1.5M519.5 344.1h1.5M520.8 344.7h1.5M524.6 344.7h1.5M525.8 344.6h1.5M110.0 345.7h1.5M123.6 345.7h1.5M163.8 345.5h1.5M182.0 345.6h1.5M183.0 345.7h1.5M183.4 345.6h1.5M194.6 345.7h1.5M198.7 345.1h1.5M199.8 345.7h1.5M202.7 345.1h1.5M203.6 345.5h1.5M206.7 345.7h1.5M207.9 345.6h1.5M208.4 345.2h1.5M209.7 345.1h1.5M213.1 345.5h1.5M213.8 345.4h1.5M219.9 345.2h1.5M223.0 345.7h1.5M227.1 345.4h1.5M229.4 345.8h1.5M232.4 345.7h1.5M233.5 345.2h1.5M239.6 345.4h1.5M242.4 345.6h1.5M244.9 345.6h1.5M251.0 345.9h1.5M371.0 345.6h1.5M385.7 345.9h1.5M397.7 345.6h1.5M399.6 345.6h1.5M407.1 345.2h1.5M409.0 345.6h1.5M410.0 345.4h1.5M410.8 345.3h1.5M411.4 345.7h1.5M519.4 345.9h1.5M520.4 345.3h1.5M527.1 345.7h1.5M527.4 345.2h1.5M126.8 346.6h1.5M178.9 346.4h1.5M184.0 346.9h1.5M184.8 346.1h1.5M187.9 346.8h1.5M188.7 346.3h1.5M190.0 346.6h1.5M196.4 346.6h1.5M197.5 346.8h1.5M198.6 346.6h1.5M199.8 346.9h1.5M200.6 346.2h1.5M202.4 346.7h1.5M206.0 346.4h1.5M206.4 346.2h1.5M207.5 346.4h1.5M209.1 346.4h1.5M209.9 346.6h1.5M212.8 346.4h1.5M213.9 346.3h1.5M219.6 346.6h1.5M220.9 346.2h1.5M222.6 346.5h1.5M226.7 346.3h1.5M227.9 346.3h1.5M228.7 346.7h1.5M230.1 346.3h1.5M233.6 346.5h1.5M234.5 346.2h1.5M235.9 346.7h1.5M239.4 346.2h1.5M240.5 346.7h1.5M242.0 346.7h1.5M249.4 346.7h1.5M250.4 346.6h1.5M372.9 346.7h1.5M379.7 346.4h1.5M380.4 346.4h1.5M381.5 346.7h1.5M385.9 346.6h1.5M386.6 346.8h1.5M396.9 346.3h1.5M399.1 346.7h1.5M400.1 346.6h1.5M400.9 346.7h1.5M402.6 346.6h1.5M403.9 346.7h1.5M405.1 346.2h1.5M406.0 346.5h1.5M409.7 346.5h1.5M411.1 346.3h1.5M412.1 346.7h1.5M519.7 346.2h1.5M524.8 346.1h1.5M525.7 346.5h1.5M126.5 347.5h1.5M171.1 347.7h1.5M173.1 347.3h1.5M183.4 347.3h1.5M187.5 347.8h1.5M191.0 347.1h1.5M192.4 347.4h1.5M195.6 347.1h1.5M197.8 347.8h1.5M198.9 347.3h1.5M200.0 347.8h1.5M200.6 347.8h1.5M201.6 347.8h1.5M205.5 347.5h1.5M206.6 347.7h1.5M207.9 347.5h1.5M208.6 347.1h1.5M209.8 347.3h1.5M210.9 347.6h1.5M214.8 347.3h1.5M220.7 347.4h1.5M222.7 347.6h1.5M227.0 347.1h1.5M227.6 347.4h1.5M228.5 347.1h1.5M229.5 347.5h1.5M234.6 347.2h1.5M243.5 347.4h1.5M247.1 347.3h1.5M247.5 347.1h1.5M249.0 347.8h1.5M249.8 347.3h1.5M370.1 347.7h1.5M371.6 347.2h1.5M375.1 347.2h1.5M381.4 347.1h1.5M396.6 347.3h1.5M402.7 347.9h1.5M406.0 347.6h1.5M408.8 347.8h1.5M412.0 347.5h1.5M519.7 347.3h1.5M523.4 347.7h1.5M524.4 347.2h1.5M525.6 347.4h1.5M109.5 348.7h1.5M123.1 348.3h1.5M126.8 348.8h1.5M128.0 348.8h1.5M165.1 348.8h1.5M169.1 348.1h1.5M177.4 348.6h1.5M178.4 348.1h1.5M180.9 348.4h1.5M182.6 348.8h1.5M187.7 348.8h1.5M189.0 348.9h1.5M190.9 348.6h1.5M192.0 348.4h1.5M192.9 348.3h1.5M196.7 348.5h1.5M198.6 348.6h1.5M199.9 348.3h1.5M202.1 348.7h1.5M208.0 348.6h1.5M212.0 348.6h1.5M212.6 348.1h1.5M213.5 348.7h1.5M214.9 348.4h1.5M219.7 348.4h1.5M221.1 348.8h1.5M228.5 348.9h1.5M234.1 348.8h1.5M236.1 348.1h1.5M237.4 348.5h1.5M242.5 348.8h1.5M246.0 348.4h1.5M247.8 348.5h1.5M248.5 348.4h1.5M250.0 348.4h1.5M374.0 348.4h1.5M375.8 348.9h1.5M386.7 348.1h1.5M394.1 348.5h1.5M395.6 348.7h1.5M396.9 348.7h1.5M401.8 348.5h1.5M403.5 348.2h1.5M406.9 348.5h1.5M410.6 348.2h1.5M519.7 348.3h1.5M521.6 348.6h1.5M524.5 348.5h1.5M525.9 348.4h1.5M164.4 349.3h1.5M170.8 349.7h1.5M175.9 349.1h1.5M180.0 349.2h1.5M180.6 349.3h1.5M181.4 349.5h1.5M182.8 349.8h1.5M184.4 349.2h1.5M186.1 349.4h1.5M188.4 349.8h1.5M190.0 349.5h1.5M194.7 349.9h1.5M195.7 349.8h1.5M197.6 349.5h1.5M198.4 349.5h1.5M199.8 349.7h1.5M204.7 349.9h1.5M206.8 349.2h1.5M211.7 349.2h1.5M214.0 349.8h1.5M214.7 349.5h1.5M220.1 349.3h1.5M222.4 349.7h1.5M239.6 349.2h1.5M241.8 349.2h1.5M247.4 349.3h1.5M373.8 349.6h1.5M377.5 349.5h1.5M382.1 349.6h1.5M383.0 349.4h1.5M394.8 349.3h1.5M396.9 349.4h1.5M400.0 349.7h1.5M525.9 349.8h1.5M112.1 350.6h1.5M125.4 350.9h1.5M182.8 350.3h1.5M184.4 350.5h1.5M188.7 350.9h1.5M189.8 350.9h1.5M190.9 350.6h1.5M193.4 350.6h1.5M194.9 350.3h1.5M204.9 350.2h1.5M206.4 350.2h1.5M211.4 350.4h1.5M212.7 350.6h1.5M220.0 350.6h1.5M221.6 350.6h1.5M222.9 350.8h1.5M234.4 350.4h1.5M236.0 350.1h1.5M241.9 350.4h1.5M242.5 350.7h1.5M244.4 350.9h1.5M247.8 350.5h1.5M371.0 350.1h1.5M374.8 350.6h1.5M376.4 350.7h1.5M378.6 350.5h1.5M379.7 350.8h1.5M383.4 350.4h1.5M385.4 350.8h1.5M387.7 350.5h1.5M395.5 350.6h1.5M397.0 350.3h1.5M402.7 350.4h1.5M406.0 350.3h1.5M406.7 350.5h1.5M407.6 350.1h1.5M519.9 350.1h1.5M523.8 350.3h1.5M525.8 350.1h1.5M110.5 351.8h1.5M139.5 351.5h1.5M156.1 351.8h1.5M179.7 351.4h1.5M181.1 351.7h1.5M186.5 351.8h1.5M187.9 351.2h1.5M188.9 351.4h1.5M190.0 351.6h1.5M190.5 351.5h1.5M193.9 351.2h1.5M194.4 351.8h1.5M198.1 351.8h1.5M198.5 351.5h1.5M205.8 351.7h1.5M207.1 351.5h1.5M211.7 351.7h1.5M214.8 351.2h1.5M221.8 351.2h1.5M236.9 351.3h1.5M238.9 351.4h1.5M241.6 351.9h1.5M242.4 351.7h1.5M243.8 351.2h1.5M245.1 351.5h1.5M247.9 351.6h1.5M373.1 351.1h1.5M373.5 351.4h1.5M374.5 351.8h1.5M376.0 351.5h1.5M376.4 351.5h1.5M379.6 351.5h1.5M380.4 351.6h1.5M382.5 351.6h1.5M384.0 351.6h1.5M384.6 351.8h1.5M385.4 351.4h1.5M389.6 351.7h1.5M394.9 351.7h1.5M402.9 351.7h1.5M405.9 351.6h1.5M407.1 351.2h1.5M520.7 351.8h1.5M522.8 351.6h1.5M524.9 351.8h1.5M109.4 352.5h1.5M144.8 352.3h1.5M165.1 352.4h1.5M165.7 352.4h1.5M173.0 352.2h1.5M178.0 352.8h1.5M182.1 352.4h1.5M185.8 352.8h1.5M186.4 352.2h1.5M188.9 352.5h1.5M190.4 352.8h1.5M194.8 352.8h1.5M195.8 352.4h1.5M197.1 352.4h1.5M205.9 352.6h1.5M206.5 352.9h1.5M213.4 352.3h1.5M215.0 352.5h1.5M220.7 352.9h1.5M222.1 352.9h1.5M236.0 352.6h1.5M240.7 352.6h1.5M372.1 352.9h1.5M372.5 352.3h1.5M374.0 352.6h1.5M375.1 352.2h1.5M380.4 352.2h1.5M381.8 352.2h1.5M383.0 352.7h1.5M383.8 352.4h1.5M387.0 352.4h1.5M392.6 352.8h1.5M402.9 352.4h1.5M405.5 352.9h1.5M520.1 352.5h1.5M520.9 352.7h1.5M525.7 352.7h1.5M122.9 353.1h1.5M153.1 353.3h1.5M164.5 353.2h1.5M165.6 353.6h1.5M175.9 353.8h1.5M179.7 353.4h1.5M186.7 353.3h1.5M189.0 353.2h1.5M189.4 353.2h1.5M190.5 353.6h1.5M196.5 353.2h1.5M197.5 353.6h1.5M205.8 353.1h1.5M206.9 353.9h1.5M212.6 353.2h1.5M234.7 353.4h1.5M235.7 353.8h1.5M240.9 353.4h1.5M241.4 353.7h1.5M242.8 353.3h1.5M248.1 353.2h1.5M248.9 353.6h1.5M375.9 353.7h1.5M376.8 353.2h1.5M377.5 353.7h1.5M380.1 353.3h1.5M380.4 353.8h1.5M382.0 353.1h1.5M383.6 353.6h1.5M386.0 353.7h1.5M386.5 353.1h1.5M388.1 353.6h1.5M393.9 353.2h1.5M395.4 353.5h1.5M404.5 353.7h1.5M520.5 353.7h1.5M525.4 353.4h1.5M124.7 354.8h1.5M149.5 354.4h1.5M152.1 354.1h1.5M175.5 354.6h1.5M185.8 354.6h1.5M187.5 354.7h1.5M188.8 354.3h1.5M189.8 354.7h1.5M191.4 354.9h1.5M193.4 354.2h1.5M195.1 354.3h1.5M195.9 354.4h1.5M197.1 354.9h1.5M205.8 354.2h1.5M221.0 354.4h1.5M239.4 354.5h1.5M241.6 354.4h1.5M247.8 354.2h1.5M368.8 354.7h1.5M369.6 354.2h1.5M379.4 354.3h1.5M381.8 354.8h1.5M383.1 354.8h1.5M385.9 354.1h1.5M395.0 354.6h1.5M404.1 354.8h1.5M405.1 354.5h1.5M520.0 354.5h1.5M521.1 354.6h1.5M522.5 354.2h1.5M526.1 354.8h1.5M109.7 355.5h1.5M137.4 355.2h1.5M149.5 355.7h1.5M153.0 355.7h1.5M155.1 355.2h1.5M157.0 355.4h1.5M170.0 355.4h1.5M180.1 355.7h1.5M181.7 355.4h1.5M182.4 355.5h1.5M186.4 355.4h1.5M187.9 355.4h1.5M188.7 355.6h1.5M189.5 355.8h1.5M190.5 355.5h1.5M194.5 355.6h1.5M195.7 355.7h1.5M197.1 355.7h1.5M205.9 355.3h1.5M211.5 355.3h1.5M212.6 355.6h1.5M214.9 355.9h1.5M221.0 355.4h1.5M235.6 355.8h1.5M237.9 355.2h1.5M241.8 355.6h1.5M244.1 355.5h1.5M246.5 355.4h1.5M369.8 355.1h1.5M379.8 355.2h1.5M381.0 355.4h1.5M381.9 355.7h1.5M383.1 355.7h1.5M383.9 355.8h1.5M385.6 355.2h1.5M393.9 355.9h1.5M404.6 355.1h1.5M406.1 355.6h1.5M519.5 355.5h1.5M520.5 355.6h1.5M521.8 355.4h1.5M522.6 355.4h1.5M523.6 355.3h1.5M524.5 355.2h1.5M109.4 356.5h1.5M127.0 356.6h1.5M145.8 356.6h1.5M148.0 356.3h1.5M148.9 356.4h1.5M165.0 356.3h1.5M166.4 356.8h1.5M174.1 356.5h1.5M179.5 356.4h1.5M182.7 356.4h1.5M187.0 356.7h1.5M187.9 356.2h1.5M190.9 356.8h1.5M194.0 356.6h1.5M194.9 356.4h1.5M197.1 356.8h1.5M212.1 356.7h1.5M214.0 356.3h1.5M221.1 356.7h1.5M236.1 356.8h1.5M238.1 356.2h1.5M241.0 356.7h1.5M243.9 356.2h1.5M244.5 356.5h1.5M247.0 356.7h1.5M354.6 356.3h1.5M368.8 356.2h1.5M369.5 356.8h1.5M388.6 356.2h1.5M389.6 356.3h1.5M392.9 356.4h1.5M405.0 356.7h1.5M520.8 356.4h1.5M522.4 356.4h1.5M523.9 356.3h1.5M153.8 357.5h1.5M158.9 357.4h1.5M171.5 357.4h1.5M177.8 357.5h1.5M179.5 357.5h1.5M180.8 357.4h1.5M182.4 357.4h1.5M186.7 357.8h1.5M191.7 357.7h1.5M194.0 357.6h1.5M195.5 357.6h1.5M213.8 357.7h1.5M236.0 357.5h1.5M238.6 357.6h1.5M245.6 357.7h1.5M369.1 357.3h1.5M393.4 357.2h1.5M520.6 357.4h1.5M522.8 357.1h1.5M525.4 357.8h1.5M82.9 358.6h1.5M145.5 358.3h1.5M158.1 358.3h1.5M160.1 358.2h1.5M178.5 358.8h1.5M180.4 358.9h1.5M181.9 358.5h1.5M189.4 358.5h1.5M191.5 358.6h1.5M192.4 358.5h1.5M211.5 358.9h1.5M213.0 358.3h1.5M214.9 358.5h1.5M235.4 358.2h1.5M236.5 358.3h1.5M239.0 358.5h1.5M243.9 358.7h1.5M244.8 358.1h1.5M245.9 358.9h1.5M387.0 358.9h1.5M389.4 358.3h1.5M390.7 358.8h1.5M519.5 358.2h1.5M521.0 358.7h1.5M521.9 358.4h1.5M522.8 358.1h1.5M525.0 358.1h1.5M525.9 358.8h1.5M141.7 359.7h1.5M149.4 359.7h1.5M155.8 359.5h1.5M159.0 359.2h1.5M165.4 359.4h1.5M173.1 359.7h1.5M175.8 359.9h1.5M176.7 359.1h1.5M179.8 359.4h1.5M183.1 359.8h1.5M190.0 359.2h1.5M191.1 359.6h1.5M212.0 359.7h1.5M212.4 359.6h1.5M214.1 359.7h1.5M214.9 359.2h1.5M241.6 359.2h1.5M245.4 359.1h1.5M368.9 359.3h1.5M387.6 359.5h1.5M394.0 359.3h1.5M520.1 359.7h1.5M520.9 359.3h1.5M523.1 359.2h1.5M523.4 359.9h1.5M145.7 360.5h1.5M149.5 360.4h1.5M151.5 360.8h1.5M153.1 360.2h1.5M162.4 360.6h1.5M163.8 360.8h1.5M167.0 360.1h1.5M169.7 360.4h1.5M173.5 360.2h1.5M176.0 360.6h1.5M180.9 360.7h1.5M181.8 360.7h1.5M189.6 360.4h1.5M191.1 360.2h1.5M192.7 360.1h1.5M193.8 360.4h1.5M212.1 360.8h1.5M213.7 360.2h1.5M214.6 360.3h1.5M236.1 360.6h1.5M236.8 360.6h1.5M239.0 360.8h1.5M239.8 360.2h1.5M244.0 360.2h1.5M245.9 360.8h1.5M520.5 360.8h1.5M521.4 360.4h1.5M108.5 361.4h1.5M112.8 361.5h1.5M124.7 361.6h1.5M125.8 361.1h1.5M164.9 361.8h1.5M168.1 361.2h1.5M172.7 361.1h1.5M174.9 361.3h1.5M178.6 361.1h1.5M181.9 361.8h1.5M189.4 361.5h1.5M191.6 361.1h1.5M193.6 361.2h1.5M195.1 361.7h1.5M211.4 361.3h1.5M212.5 361.8h1.5M213.6 361.3h1.5M214.4 361.5h1.5M235.6 361.6h1.5M237.0 361.7h1.5M237.7 361.8h1.5M242.0 361.2h1.5M242.6 361.6h1.5M244.4 361.6h1.5M387.9 361.4h1.5M520.4 361.6h1.5M524.0 361.6h1.5M524.8 361.9h1.5M108.6 362.5h1.5M133.8 362.5h1.5M140.9 362.2h1.5M145.0 362.7h1.5M148.7 362.1h1.5M151.8 362.2h1.5M163.6 362.6h1.5M168.5 362.7h1.5M182.1 362.6h1.5M189.6 362.3h1.5M190.7 362.2h1.5M192.4 362.6h1.5M193.5 362.6h1.5M211.6 362.3h1.5M213.0 362.4h1.5M215.0 362.2h1.5M236.0 362.6h1.5M237.8 362.2h1.5M239.0 362.5h1.5M239.4 362.4h1.5M241.8 362.2h1.5M245.7 362.8h1.5M362.6 362.8h1.5M391.4 362.4h1.5M393.1 362.8h1.5M520.1 362.7h1.5M525.0 362.8h1.5M525.4 362.1h1.5M86.0 363.6h1.5M113.6 363.2h1.5M146.4 363.2h1.5M150.8 363.8h1.5M151.4 363.3h1.5M154.9 363.5h1.5M161.8 363.7h1.5M162.4 363.6h1.5M163.5 363.4h1.5M164.9 363.4h1.5M165.9 363.5h1.5M168.9 363.6h1.5M170.4 363.9h1.5M172.9 363.2h1.5M174.1 363.6h1.5M177.6 363.8h1.5M189.5 363.2h1.5M193.0 363.9h1.5M193.8 363.2h1.5M194.4 363.8h1.5M214.5 363.3h1.5M237.5 363.4h1.5M241.0 363.2h1.5M244.0 363.6h1.5M245.1 363.3h1.5M358.5 363.4h1.5M392.7 363.3h1.5M520.8 363.6h1.5M521.9 363.4h1.5M526.1 363.5h1.5M84.6 364.7h1.5M132.4 364.6h1.5M134.7 364.5h1.5M146.9 364.9h1.5M153.5 364.7h1.5M155.8 364.5h1.5M163.6 364.6h1.5M166.0 364.1h1.5M168.8 364.3h1.5M172.8 364.5h1.5M176.4 364.7h1.5M177.4 364.4h1.5M189.7 364.8h1.5M191.8 364.9h1.5M211.6 364.1h1.5M212.5 364.5h1.5M214.4 364.2h1.5M236.5 364.9h1.5M237.8 364.1h1.5M239.8 364.9h1.5M240.7 364.1h1.5M244.9 364.1h1.5M369.0 364.4h1.5M520.0 364.4h1.5M523.8 364.6h1.5M525.9 364.1h1.5M86.1 365.4h1.5M111.7 365.7h1.5M122.0 365.4h1.5M136.6 365.8h1.5M150.5 365.4h1.5M155.1 365.4h1.5M156.0 365.8h1.5M157.7 365.4h1.5M163.9 365.2h1.5M171.0 365.8h1.5M171.8 365.8h1.5M173.0 365.6h1.5M175.4 365.3h1.5M178.1 365.8h1.5M190.0 365.1h1.5M191.9 365.3h1.5M193.1 365.6h1.5M211.7 365.5h1.5M214.8 365.8h1.5M237.4 365.1h1.5M238.4 365.7h1.5M239.7 365.4h1.5M368.7 365.3h1.5M388.1 365.8h1.5M389.1 365.4h1.5M390.6 365.5h1.5M519.7 365.4h1.5M521.6 365.2h1.5M523.8 365.4h1.5M525.9 365.7h1.5M81.4 366.6h1.5M82.6 366.9h1.5M111.5 366.1h1.5M121.8 366.2h1.5M125.6 366.6h1.5M136.7 366.1h1.5M141.6 366.6h1.5M143.5 366.2h1.5M146.6 366.2h1.5M148.4 366.2h1.5M149.8 366.2h1.5M151.5 366.6h1.5M153.9 366.4h1.5M156.0 366.1h1.5M160.4 366.5h1.5M165.6 366.3h1.5M171.9 366.4h1.5M172.5 366.7h1.5M175.1 366.9h1.5M176.6 366.7h1.5M189.9 366.6h1.5M191.8 366.9h1.5M193.1 366.3h1.5M194.0 366.5h1.5M212.0 366.3h1.5M212.4 366.2h1.5M213.5 366.9h1.5M215.1 366.7h1.5M235.5 366.1h1.5M238.0 366.7h1.5M239.1 366.4h1.5M244.5 366.3h1.5M359.1 366.4h1.5M367.0 366.5h1.5M368.4 366.7h1.5M387.4 366.1h1.5M391.4 366.8h1.5M392.5 366.8h1.5M393.4 366.4h1.5M521.5 366.1h1.5M524.0 366.4h1.5M526.1 366.2h1.5M109.9 367.6h1.5M110.7 367.1h1.5M127.9 367.9h1.5M138.9 367.5h1.5M149.8 367.7h1.5M151.4 367.3h1.5M155.4 367.8h1.5M163.5 367.4h1.5M172.5 367.8h1.5M174.1 367.7h1.5M174.9 367.7h1.5M176.9 367.6h1.5M189.8 367.3h1.5M191.0 367.5h1.5M192.8 367.5h1.5M195.1 367.3h1.5M212.1 367.6h1.5M213.5 367.3h1.5M235.9 367.5h1.5M236.8 367.4h1.5M239.1 367.2h1.5M353.9 367.8h1.5M364.1 367.8h1.5M387.7 367.8h1.5M388.9 367.7h1.5M390.4 367.2h1.5M519.7 367.3h1.5M523.6 367.3h1.5M526.1 367.7h1.5M113.6 368.1h1.5M122.0 368.4h1.5M124.5 368.8h1.5M130.7 368.4h1.5M135.7 368.8h1.5M137.5 368.9h1.5M139.6 368.7h1.5M142.4 368.3h1.5M153.8 368.3h1.5M159.1 368.4h1.5M161.6 368.7h1.5M162.6 368.7h1.5M163.5 368.7h1.5M166.1 368.8h1.5M167.1 368.2h1.5M169.5 368.4h1.5M173.1 368.3h1.5M173.9 368.2h1.5M177.7 368.8h1.5M190.0 368.3h1.5M191.9 368.9h1.5M195.0 368.4h1.5M211.5 368.5h1.5M213.5 368.8h1.5M215.0 368.9h1.5M235.5 368.9h1.5M237.9 368.4h1.5M351.7 368.8h1.5M356.9 368.2h1.5M359.8 368.6h1.5M369.1 368.1h1.5M388.0 368.2h1.5M391.1 368.2h1.5M519.4 368.3h1.5M520.9 368.9h1.5M522.4 368.4h1.5M524.6 368.8h1.5M83.1 369.4h1.5M111.9 369.2h1.5M114.0 369.8h1.5M121.7 369.9h1.5M124.1 369.4h1.5M131.8 369.4h1.5M132.9 369.9h1.5M145.4 369.7h1.5M152.4 369.9h1.5M154.0 369.4h1.5M162.7 369.5h1.5M164.9 369.6h1.5M165.8 369.8h1.5M166.6 369.6h1.5M169.5 369.8h1.5M171.0 369.8h1.5M171.5 369.6h1.5M172.4 369.9h1.5M189.7 369.2h1.5M190.8 369.3h1.5M192.0 369.5h1.5M194.5 369.8h1.5M212.8 369.7h1.5M213.6 369.5h1.5M235.4 369.5h1.5M237.0 369.5h1.5M363.7 369.8h1.5M369.0 369.2h1.5M390.6 369.7h1.5M393.1 369.3h1.5M519.6 369.6h1.5M524.5 369.6h1.5M526.0 369.7h1.5M110.8 370.3h1.5M122.5 370.8h1.5M123.7 370.7h1.5M130.8 370.3h1.5M133.8 370.6h1.5M145.4 370.5h1.5M150.1 370.8h1.5M153.9 370.1h1.5M162.1 370.7h1.5M162.8 370.5h1.5M164.5 370.2h1.5M165.6 370.4h1.5M167.0 370.7h1.5M167.9 370.6h1.5M168.6 370.7h1.5M171.0 370.4h1.5M172.8 370.5h1.5M189.7 370.4h1.5M190.5 370.7h1.5M194.6 370.7h1.5M212.7 370.8h1.5M235.9 370.4h1.5M236.8 370.4h1.5M237.6 370.7h1.5M369.1 370.1h1.5M388.5 370.5h1.5M519.7 370.6h1.5M521.4 370.5h1.5M523.7 370.5h1.5M525.8 370.7h1.5M130.8 371.2h1.5M133.8 371.8h1.5M135.5 371.8h1.5M146.9 371.6h1.5M152.7 371.1h1.5M154.0 371.4h1.5M157.1 371.1h1.5M158.1 371.3h1.5M162.1 371.4h1.5M163.8 371.5h1.5M164.8 371.7h1.5M166.6 371.7h1.5M168.7 371.7h1.5M169.6 371.7h1.5M170.8 371.7h1.5M173.1 371.1h1.5M189.8 371.4h1.5M190.4 371.8h1.5M193.7 371.4h1.5M195.0 371.1h1.5M235.6 371.1h1.5M239.0 371.7h1.5M239.5 371.4h1.5M350.4 371.4h1.5M356.6 371.7h1.5M368.6 371.8h1.5M389.0 371.4h1.5M389.4 371.7h1.5M521.0 371.2h1.5M523.9 371.8h1.5M83.4 372.8h1.5M120.6 372.7h1.5M124.8 372.8h1.5M125.5 372.5h1.5M126.7 372.9h1.5M132.9 372.4h1.5M134.9 372.6h1.5M136.7 372.3h1.5M139.9 372.2h1.5M141.6 372.3h1.5M142.5 372.1h1.5M149.6 372.5h1.5M152.4 372.8h1.5M154.1 372.9h1.5M154.5 372.9h1.5M190.7 372.6h1.5M191.6 372.1h1.5M192.7 372.2h1.5M193.4 372.4h1.5M236.0 372.8h1.5M236.7 372.6h1.5M238.7 372.3h1.5M239.4 372.6h1.5M357.0 372.5h1.5M357.4 372.7h1.5M362.9 372.5h1.5M363.7 372.4h1.5M367.7 372.7h1.5M368.5 372.4h1.5M391.7 372.3h1.5M392.6 372.1h1.5M519.4 372.7h1.5M520.9 372.5h1.5M525.1 372.5h1.5M526.1 372.8h1.5M83.0 373.2h1.5M111.1 373.4h1.5M119.9 373.5h1.5M125.5 373.4h1.5M133.7 373.1h1.5M134.8 373.8h1.5M136.8 373.4h1.5M139.0 373.3h1.5M144.1 373.4h1.5M148.7 373.8h1.5M150.7 373.2h1.5M155.6 373.3h1.5M157.6 373.1h1.5M158.8 373.6h1.5M161.6 373.3h1.5M190.4 373.4h1.5M192.5 373.2h1.5M193.7 373.2h1.5M236.6 373.5h1.5M237.9 373.2h1.5M239.1 373.6h1.5M362.9 373.8h1.5M363.8 373.8h1.5M365.8 373.8h1.5M387.8 373.2h1.5M389.7 373.2h1.5M391.5 373.7h1.5M393.1 373.4h1.5M519.7 373.4h1.5M521.9 373.1h1.5M525.1 373.5h1.5M525.5 373.5h1.5M86.6 374.9h1.5M109.5 374.9h1.5M121.9 374.3h1.5M124.5 374.6h1.5M129.5 374.2h1.5M132.5 374.3h1.5M134.8 374.5h1.5M135.5 374.7h1.5M138.5 374.3h1.5M140.9 374.8h1.5M145.1 374.4h1.5M145.7 374.6h1.5M146.4 374.3h1.5M147.8 374.8h1.5M155.4 374.4h1.5M156.7 374.7h1.5M162.1 374.8h1.5M191.5 374.4h1.5M192.4 374.5h1.5M193.7 374.7h1.5M236.8 374.5h1.5M238.0 374.7h1.5M239.1 374.5h1.5M354.1 374.8h1.5M354.5 374.1h1.5M361.1 374.1h1.5M387.6 374.4h1.5M388.6 374.7h1.5M389.8 374.1h1.5M391.0 374.2h1.5M391.8 374.2h1.5M392.9 374.8h1.5M520.0 374.9h1.5M522.5 374.2h1.5M108.5 375.7h1.5M111.5 375.3h1.5M125.4 375.2h1.5M131.5 375.2h1.5M132.6 375.6h1.5M139.5 375.5h1.5M143.9 375.9h1.5M145.8 375.7h1.5M149.0 375.4h1.5M149.8 375.2h1.5M156.5 375.7h1.5M159.7 375.3h1.5M192.1 375.1h1.5M193.9 375.4h1.5M239.1 375.6h1.5M357.0 375.4h1.5M357.6 375.7h1.5M358.6 375.6h1.5M387.8 375.9h1.5M389.8 375.8h1.5M390.9 375.5h1.5M392.0 375.6h1.5M519.6 375.7h1.5M521.1 375.7h1.5M522.1 375.3h1.5M522.5 375.8h1.5M523.9 375.9h1.5M526.1 375.5h1.5M95.5 376.5h1.5M125.9 376.1h1.5M127.9 376.9h1.5M136.9 376.5h1.5M137.4 376.4h1.5M139.4 376.2h1.5M142.1 376.5h1.5M143.4 376.8h1.5M152.6 376.5h1.5M161.7 376.3h1.5M192.1 376.8h1.5M192.8 376.3h1.5M238.1 376.8h1.5M357.8 376.5h1.5M360.1 376.5h1.5M388.4 376.7h1.5M391.0 376.5h1.5M392.0 376.5h1.5M392.7 376.4h1.5M520.1 376.6h1.5M524.5 376.5h1.5M82.5 377.7h1.5M85.9 377.9h1.5M124.4 377.1h1.5M128.6 377.2h1.5M132.1 377.1h1.5M137.9 377.9h1.5M142.0 377.3h1.5M144.7 377.4h1.5M145.7 377.8h1.5M150.1 377.3h1.5M151.9 377.1h1.5M153.6 377.5h1.5M157.7 377.2h1.5M351.7 377.2h1.5M353.1 377.1h1.5M353.8 377.5h1.5M359.8 377.9h1.5M362.6 377.7h1.5M363.5 377.8h1.5M364.8 377.3h1.5M388.5 377.4h1.5M389.9 377.7h1.5M391.7 377.4h1.5M523.7 377.7h1.5M524.5 377.8h1.5M84.0 378.8h1.5M86.0 378.4h1.5M122.8 378.9h1.5M124.9 378.7h1.5M134.5 378.7h1.5M135.4 378.6h1.5M137.0 378.8h1.5M138.6 378.5h1.5M141.7 378.4h1.5M143.7 378.3h1.5M145.1 378.4h1.5M147.1 378.3h1.5M148.8 378.2h1.5M150.6 378.8h1.5M151.4 378.7h1.5M152.8 378.7h1.5M353.0 378.1h1.5M361.1 378.9h1.5M364.5 378.8h1.5M389.8 378.1h1.5M390.6 378.7h1.5M391.7 378.2h1.5M524.1 378.4h1.5M83.5 379.5h1.5M86.1 379.1h1.5M110.4 379.6h1.5M123.4 379.8h1.5M129.6 379.5h1.5M132.0 379.3h1.5M136.0 379.4h1.5M140.0 379.4h1.5M141.0 379.3h1.5M141.7 379.3h1.5M143.7 379.2h1.5M145.7 379.5h1.5M146.7 379.8h1.5M149.0 379.1h1.5M150.5 379.7h1.5M151.5 379.4h1.5M153.0 379.6h1.5M159.5 379.1h1.5M160.9 379.1h1.5M161.6 379.7h1.5M354.9 379.3h1.5M359.1 379.4h1.5M359.9 379.4h1.5M363.0 379.8h1.5M363.9 379.4h1.5M365.1 379.7h1.5M367.9 379.4h1.5M82.0 380.4h1.5M83.9 380.2h1.5M85.5 380.6h1.5M122.7 380.8h1.5M123.7 380.2h1.5M130.9 380.7h1.5M135.7 380.4h1.5M140.0 380.6h1.5M140.7 380.5h1.5M141.7 380.8h1.5M160.4 380.2h1.5M162.0 380.5h1.5M355.1 380.2h1.5M356.5 380.2h1.5M359.1 380.6h1.5M359.8 380.6h1.5M360.6 380.2h1.5M361.7 380.6h1.5M363.0 380.8h1.5M363.6 380.7h1.5M96.0 381.3h1.5M122.8 381.4h1.5M124.0 381.7h1.5M126.5 381.6h1.5M130.1 381.7h1.5M140.6 381.8h1.5M158.4 381.1h1.5M160.7 381.4h1.5M350.6 381.2h1.5M353.4 381.5h1.5M355.6 381.2h1.5M357.0 381.6h1.5M358.9 381.3h1.5M360.8 381.7h1.5M362.5 381.4h1.5M365.5 381.6h1.5M115.0 382.5h1.5M119.4 382.3h1.5M120.5 382.9h1.5M121.9 382.2h1.5M123.1 382.6h1.5M123.4 382.4h1.5M124.4 382.4h1.5M159.0 382.5h1.5M160.7 382.6h1.5M352.0 382.5h1.5M365.9 382.6h1.5M366.7 382.8h1.5M84.1 383.1h1.5M84.7 383.4h1.5M95.8 383.2h1.5M106.7 383.3h1.5M110.5 383.2h1.5M119.9 383.3h1.5M121.6 383.3h1.5M122.4 383.1h1.5M123.7 383.3h1.5M124.7 383.7h1.5M125.4 383.8h1.5M158.7 383.2h1.5M159.4 383.2h1.5M350.7 383.3h1.5M351.5 383.4h1.5M367.4 383.4h1.5M83.4 384.4h1.5M104.7 384.7h1.5M121.9 384.2h1.5M123.0 384.3h1.5M123.4 384.4h1.5M127.8 384.5h1.5M159.4 384.8h1.5M160.5 384.6h1.5M352.0 384.2h1.5M366.5 384.6h1.5M367.6 384.6h1.5M84.0 385.1h1.5M96.4 385.2h1.5M108.8 385.4h1.5M110.5 385.4h1.5M113.7 385.7h1.5M121.5 385.2h1.5M123.7 385.8h1.5M125.9 385.6h1.5M126.6 385.2h1.5M127.7 385.8h1.5M160.1 385.7h1.5M161.0 385.8h1.5M352.1 385.8h1.5M366.7 385.8h1.5M84.4 386.7h1.5M95.7 386.7h1.5M109.5 386.7h1.5M110.4 386.1h1.5M112.1 386.9h1.5M120.7 386.7h1.5M350.6 386.7h1.5M351.7 386.5h1.5M84.4 387.6h1.5M109.5 387.6h1.5M110.9 387.4h1.5M111.8 387.5h1.5M114.4 387.2h1.5M350.4 387.6h1.5M83.0 388.8h1.5M85.7 388.3h1.5M107.7 388.8h1.5M108.4 388.3h1.5M117.0 388.2h1.5M350.7 388.6h1.5M85.6 389.8h1.5M95.4 389.3h1.5M86.7 390.7h1.5M96.0 390.8h1.5M109.1 390.8h1.5M114.6 390.4h1.5M115.6 390.6h1.5M69.4 391.3h1.5M75.7 391.6h1.5M86.4 391.2h1.5M95.8 391.9h1.5M102.7 391.5h1.5M108.5 391.1h1.5M69.6 392.4h1.5M81.5 392.3h1.5M92.8 392.1h1.5M97.4 392.4h1.5M101.5 392.8h1.5M102.4 392.6h1.5M107.1 392.7h1.5M108.1 392.2h1.5M66.8 393.7h1.5M106.5 393.5h1.5M106.8 394.5h1.5M78.6 395.2h1.5M53.6 396.9h1.5M51.7 397.7h1.5" stroke="#0000ff" stroke-width="1.5" fill="none"/>
<line x1="36.4" y1="359.6" x2="251.8" y2="318.1" stroke="#ff0000" stroke-width="2" stroke-dasharray="5.8 1.8"/>
<line x1="327.3" y1="359.6" x2="542.2" y2="318.1" stroke="#ff0000" stroke-width="2" stroke-dasharray="5.8 1.8"/><path d="M81.2 8.8h1.2M82.9 8.8h1.2M67.6 9.2h1.2M84.3 9.2h1.2M85.2 9.4h1.2M71.6 10.7h1.2M80.8 10.9h1.2M70.8 11.9h1.2M75.9 11.9h1.2M78.8 11.2h1.2M80.1 11.4h1.2M72.9 12.2h1.2M77.7 12.3h1.2M81.6 12.7h1.2M83.6 12.4h1.2M73.9 13.8h1.2M77.1 13.4h1.2M84.7 13.3h1.2M81.1 14.6h1.2M82.3 14.3h1.2M84.3 14.3h1.2M122.2 14.3h1.2M63.2 15.5h1.2M68.2 15.2h1.2M78.8 15.6h1.2M85.5 15.2h1.2M121.0 15.6h1.2M70.6 16.7h1.2M72.1 16.2h1.2M72.8 16.3h1.2M81.9 16.7h1.2M49.0 17.1h1.2M69.7 18.9h1.2M75.9 18.5h1.2M47.2 19.5h1.2M73.2 19.7h1.2M53.1 20.3h1.2M71.1 20.9h1.2M69.6 21.4h1.2M70.5 21.5h1.2M71.8 21.9h1.2M73.8 21.2h1.2M74.6 21.5h1.2M78.2 21.2h1.2M77.6 22.7h1.2M79.9 22.2h1.2M86.1 22.7h1.2M72.0 23.5h1.2M73.2 24.8h1.2M77.6 24.2h1.2M83.3 24.5h1.2M85.6 24.6h1.2M76.1 25.6h1.2M78.1 25.2h1.2M79.2 25.7h1.2M80.6 25.5h1.2M82.2 25.8h1.2M86.3 25.5h1.2M92.3 25.8h1.2M131.6 25.7h1.2M82.8 26.6h1.2M71.5 27.3h1.2M81.8 27.2h1.2M84.6 27.4h1.2M86.6 27.4h1.2M87.7 27.8h1.2M91.9 27.3h1.2M65.5 28.6h1.2M74.9 28.5h1.2M81.7 28.3h1.2M86.5 28.8h1.2M70.9 29.7h1.2M71.7 29.7h1.2M81.8 29.4h1.2M84.9 29.4h1.2M86.8 29.7h1.2M90.7 29.8h1.2M92.2 29.8h1.2M94.2 29.7h1.2M136.7 29.7h1.2M71.0 30.2h1.2M84.2 30.6h1.2M96.8 30.3h1.2M98.3 30.3h1.2M136.1 30.9h1.2M82.0 31.5h1.2M87.9 31.7h1.2M90.2 31.3h1.2M81.0 32.5h1.2M89.2 32.5h1.2M96.9 32.1h1.2M71.7 33.2h1.2M73.6 33.1h1.2M75.2 33.1h1.2M89.9 33.8h1.2M93.0 33.6h1.2M93.9 33.8h1.2M94.6 33.6h1.2M96.6 33.3h1.2M101.6 33.5h1.2M102.7 33.2h1.2M73.1 34.4h1.2M73.8 34.5h1.2M75.8 34.2h1.2M81.6 34.2h1.2M84.6 34.6h1.2M85.8 34.5h1.2M87.9 34.3h1.2M89.7 34.4h1.2M93.7 34.7h1.2M99.5 34.5h1.2M102.1 34.6h1.2M80.2 35.6h1.2M88.6 35.6h1.2M93.6 35.8h1.2M99.7 35.7h1.2M80.7 36.8h1.2M81.8 36.5h1.2M95.3 36.6h1.2M95.5 36.2h1.2M97.0 36.7h1.2M98.9 36.4h1.2M77.2 37.6h1.2M88.1 37.5h1.2M90.8 37.1h1.2M91.7 37.2h1.2M93.1 37.4h1.2M100.7 37.5h1.2M103.7 37.5h1.2M105.2 37.8h1.2M73.1 38.7h1.2M74.5 38.6h1.2M79.6 38.7h1.2M91.9 38.9h1.2M98.2 38.7h1.2M104.2 38.1h1.2M107.9 38.3h1.2M78.0 39.4h1.2M93.0 39.2h1.2M97.1 39.5h1.2M97.9 39.7h1.2M98.8 39.3h1.2M108.1 39.4h1.2M87.9 40.9h1.2M98.8 40.8h1.2M103.3 40.9h1.2M155.2 40.6h1.2M74.6 41.6h1.2M87.8 41.4h1.2M94.9 41.5h1.2M97.0 41.6h1.2M99.3 41.4h1.2M100.8 41.8h1.2M94.6 42.4h1.2M97.0 42.4h1.2M113.5 42.8h1.2M74.2 43.5h1.2M78.5 43.8h1.2M80.2 43.6h1.2M84.9 43.1h1.2M88.5 43.4h1.2M93.2 43.6h1.2M100.2 43.3h1.2M104.7 43.1h1.2M106.5 43.6h1.2M116.2 43.2h1.2M117.7 43.6h1.2M99.0 44.7h1.2M120.9 44.3h1.2M161.7 44.9h1.2M73.8 45.6h1.2M80.8 45.9h1.2M87.1 45.6h1.2M91.3 45.4h1.2M99.6 45.1h1.2M103.1 45.3h1.2M109.9 45.9h1.2M110.6 45.3h1.2M114.6 45.9h1.2M118.2 45.5h1.2M123.0 45.7h1.2M82.8 46.3h1.2M86.6 46.5h1.2M87.9 46.6h1.2M94.0 46.8h1.2M101.3 46.6h1.2M101.8 46.1h1.2M104.1 46.5h1.2M111.7 46.4h1.2M112.6 46.3h1.2M114.2 46.4h1.2M115.8 46.2h1.2M119.1 46.8h1.2M125.9 46.2h1.2M167.1 46.4h1.2M74.7 47.2h1.2M78.8 47.7h1.2M82.0 47.7h1.2M85.6 47.3h1.2M95.3 47.9h1.2M97.7 47.6h1.2M105.6 47.3h1.2M107.1 47.2h1.2M107.5 47.8h1.2M109.2 47.6h1.2M111.3 47.2h1.2M112.0 47.3h1.2M113.0 47.3h1.2M114.2 47.6h1.2M118.8 47.5h1.2M121.2 47.8h1.2M122.1 47.8h1.2M123.3 47.6h1.2M127.0 47.3h1.2M66.1 48.4h1.2M83.0 48.2h1.2M90.3 48.8h1.2M95.5 48.4h1.2M97.3 48.5h1.2M98.2 48.5h1.2M101.3 48.8h1.2M102.0 48.7h1.2M105.8 48.8h1.2M112.1 48.3h1.2M114.1 48.6h1.2M119.7 48.5h1.2M120.7 48.8h1.2M122.6 48.7h1.2M123.9 48.5h1.2M125.1 48.6h1.2M130.6 48.6h1.2M85.9 49.7h1.2M98.0 49.6h1.2M99.0 49.4h1.2M99.7 49.9h1.2M101.5 49.3h1.2M104.5 49.5h1.2M106.8 49.2h1.2M108.2 49.6h1.2M108.6 49.8h1.2M113.0 49.5h1.2M115.1 49.8h1.2M116.1 49.1h1.2M117.1 49.4h1.2M119.0 49.7h1.2M120.3 49.4h1.2M121.0 49.2h1.2M124.8 49.4h1.2M129.0 49.5h1.2M132.5 49.5h1.2M44.0 50.4h1.2M60.1 50.4h1.2M75.0 50.4h1.2M77.9 50.2h1.2M82.8 50.3h1.2M90.1 50.6h1.2M94.7 50.3h1.2M95.8 50.4h1.2M99.9 50.9h1.2M104.3 50.7h1.2M104.9 50.7h1.2M112.2 50.9h1.2M112.9 50.3h1.2M114.3 50.8h1.2M114.9 50.9h1.2M116.2 50.6h1.2M116.9 50.8h1.2M118.0 50.8h1.2M119.3 50.8h1.2M120.8 50.2h1.2M122.0 50.5h1.2M124.6 50.6h1.2M127.1 50.3h1.2M135.1 50.4h1.2M169.1 50.9h1.2M76.1 51.1h1.2M79.7 51.6h1.2M85.0 51.3h1.2M86.3 51.6h1.2M93.9 51.7h1.2M98.8 51.6h1.2M99.9 51.8h1.2M102.0 51.1h1.2M106.7 51.5h1.2M107.8 51.8h1.2M111.3 51.9h1.2M112.9 51.2h1.2M114.8 51.4h1.2M118.5 51.3h1.2M120.1 51.5h1.2M125.3 51.4h1.2M125.8 51.6h1.2M126.6 51.8h1.2M130.2 51.3h1.2M137.0 51.3h1.2M82.0 52.2h1.2M83.5 52.2h1.2M98.6 52.4h1.2M100.2 52.2h1.2M100.7 52.4h1.2M104.2 52.2h1.2M114.0 52.3h1.2M118.0 52.8h1.2M119.2 52.5h1.2M120.1 52.3h1.2M121.2 52.3h1.2M123.0 52.6h1.2M126.9 52.8h1.2M137.8 52.8h1.2M91.8 53.7h1.2M100.9 53.7h1.2M104.7 53.6h1.2M106.8 53.8h1.2M110.3 53.3h1.2M111.2 53.8h1.2M112.1 53.9h1.2M112.6 53.6h1.2M116.7 53.7h1.2M118.1 53.5h1.2M120.1 53.7h1.2M122.2 53.8h1.2M122.6 53.3h1.2M123.5 53.6h1.2M125.7 53.7h1.2M129.1 53.1h1.2M129.9 53.6h1.2M131.3 53.5h1.2M132.7 53.3h1.2M140.5 53.4h1.2M142.6 53.3h1.2M144.1 53.5h1.2M174.5 53.4h1.2M92.0 54.6h1.2M100.1 54.7h1.2M102.2 54.6h1.2M104.2 54.7h1.2M104.8 54.9h1.2M111.6 54.3h1.2M115.1 54.9h1.2M117.0 54.6h1.2M117.8 54.6h1.2M120.7 54.1h1.2M124.1 54.3h1.2M127.8 54.9h1.2M128.9 54.3h1.2M141.1 54.8h1.2M143.7 54.3h1.2M97.5 55.3h1.2M98.7 55.8h1.2M104.3 55.5h1.2M105.1 55.6h1.2M106.5 55.8h1.2M112.2 55.4h1.2M112.8 55.7h1.2M113.6 55.6h1.2M128.2 55.2h1.2M132.5 55.6h1.2M142.8 55.3h1.2M145.5 55.8h1.2M147.8 55.2h1.2M175.7 55.9h1.2M177.6 55.3h1.2M95.0 56.2h1.2M96.8 56.6h1.2M103.2 56.6h1.2M112.1 56.2h1.2M117.2 56.6h1.2M118.0 56.5h1.2M126.6 56.6h1.2M135.1 56.5h1.2M144.6 56.6h1.2M146.9 56.1h1.2M78.0 57.5h1.2M80.5 57.6h1.2M84.0 57.5h1.2M85.2 57.7h1.2M100.1 57.2h1.2M111.6 57.8h1.2M118.9 57.2h1.2M122.7 57.3h1.2M123.6 57.2h1.2M125.2 57.5h1.2M126.2 57.5h1.2M126.9 57.3h1.2M127.7 57.6h1.2M128.9 57.6h1.2M131.7 57.3h1.2M139.2 57.6h1.2M139.9 57.1h1.2M145.8 57.1h1.2M148.1 57.9h1.2M153.9 57.4h1.2M69.0 58.8h1.2M70.1 58.6h1.2M78.6 58.8h1.2M83.3 58.6h1.2M106.0 58.3h1.2M108.7 58.2h1.2M120.8 58.3h1.2M124.1 58.5h1.2M126.1 58.4h1.2M128.9 58.1h1.2M132.6 58.4h1.2M138.6 58.8h1.2M144.9 58.6h1.2M152.6 58.4h1.2M61.0 59.7h1.2M62.1 59.3h1.2M71.9 59.9h1.2M73.7 59.6h1.2M75.3 59.3h1.2M79.3 59.2h1.2M79.8 59.2h1.2M82.0 59.5h1.2M82.8 59.4h1.2M89.7 59.9h1.2M97.9 59.4h1.2M99.3 59.3h1.2M102.3 59.5h1.2M103.0 59.6h1.2M106.9 59.2h1.2M108.0 59.2h1.2M119.9 59.3h1.2M120.6 59.7h1.2M122.9 59.5h1.2M124.3 59.8h1.2M126.0 59.3h1.2M128.1 59.2h1.2M133.1 59.5h1.2M136.7 59.6h1.2M141.2 59.2h1.2M144.8 59.5h1.2M151.7 59.5h1.2M152.5 59.8h1.2M158.1 59.1h1.2M60.9 60.5h1.2M69.0 60.8h1.2M70.2 60.9h1.2M73.3 60.3h1.2M74.1 60.6h1.2M76.0 60.8h1.2M77.1 60.7h1.2M78.1 60.5h1.2M78.8 60.8h1.2M80.0 60.8h1.2M82.2 60.1h1.2M82.9 60.9h1.2M83.8 60.5h1.2M87.1 60.3h1.2M88.7 60.6h1.2M108.0 60.3h1.2M109.7 60.3h1.2M111.6 60.5h1.2M117.5 60.1h1.2M120.5 60.6h1.2M121.9 60.2h1.2M127.7 60.4h1.2M131.6 60.7h1.2M132.8 60.4h1.2M136.6 60.5h1.2M138.8 60.7h1.2M140.6 60.8h1.2M142.0 60.6h1.2M142.5 60.6h1.2M143.6 60.4h1.2M155.2 60.4h1.2M159.7 60.6h1.2M63.0 61.4h1.2M74.1 61.4h1.2M74.9 61.7h1.2M75.7 61.3h1.2M78.3 61.6h1.2M78.5 61.8h1.2M79.6 61.8h1.2M80.6 61.6h1.2M82.6 61.9h1.2M86.8 61.6h1.2M88.8 61.6h1.2M91.1 61.3h1.2M93.1 61.6h1.2M94.2 61.5h1.2M119.5 61.5h1.2M133.8 61.3h1.2M145.7 61.2h1.2M149.8 61.7h1.2M155.6 61.4h1.2M70.6 62.3h1.2M72.0 62.2h1.2M74.2 62.2h1.2M77.7 62.6h1.2M81.3 62.2h1.2M84.8 62.7h1.2M86.1 62.6h1.2M86.8 62.3h1.2M89.5 62.3h1.2M91.5 62.8h1.2M94.7 62.3h1.2M103.2 62.3h1.2M103.9 62.8h1.2M111.3 62.6h1.2M115.7 62.1h1.2M122.1 62.7h1.2M123.7 62.6h1.2M128.2 62.6h1.2M128.7 62.7h1.2M129.7 62.4h1.2M130.8 62.2h1.2M131.9 62.3h1.2M132.7 62.8h1.2M133.9 62.8h1.2M135.0 62.4h1.2M136.8 62.8h1.2M142.2 62.5h1.2M148.8 62.5h1.2M150.2 62.1h1.2M151.0 62.6h1.2M167.7 62.4h1.2M59.0 63.5h1.2M63.6 63.3h1.2M72.8 63.7h1.2M74.6 63.6h1.2M78.1 63.1h1.2M79.8 63.5h1.2M80.8 63.7h1.2M83.3 63.3h1.2M84.9 63.7h1.2M86.8 63.8h1.2M87.6 63.3h1.2M89.7 63.4h1.2M106.2 63.4h1.2M107.9 63.5h1.2M117.8 63.8h1.2M118.8 63.5h1.2M120.9 63.9h1.2M125.2 63.4h1.2M127.1 63.5h1.2M128.3 63.8h1.2M129.2 63.3h1.2M130.0 63.1h1.2M130.9 63.2h1.2M132.6 63.4h1.2M133.9 63.5h1.2M137.5 63.5h1.2M143.3 63.7h1.2M156.8 63.8h1.2M158.8 63.3h1.2M65.8 64.2h1.2M70.7 64.4h1.2M75.3 64.2h1.2M84.1 64.9h1.2M86.2 64.7h1.2M87.6 64.3h1.2M91.6 64.7h1.2M111.2 64.3h1.2M113.9 64.7h1.2M114.6 64.6h1.2M116.0 64.2h1.2M118.6 64.6h1.2M123.5 64.2h1.2M124.7 64.5h1.2M128.5 64.2h1.2M129.8 64.6h1.2M130.9 64.2h1.2M132.2 64.2h1.2M134.0 64.5h1.2M136.2 64.3h1.2M142.8 64.8h1.2M144.8 64.5h1.2M146.1 64.4h1.2M149.8 64.6h1.2M157.5 64.6h1.2M158.6 64.8h1.2M167.7 64.2h1.2M169.2 64.5h1.2M54.5 65.5h1.2M62.0 65.4h1.2M66.1 65.4h1.2M71.8 65.4h1.2M73.2 65.1h1.2M74.8 65.4h1.2M75.6 65.9h1.2M77.2 65.3h1.2M78.1 65.6h1.2M79.5 65.2h1.2M81.1 65.9h1.2M82.0 65.3h1.2M85.7 65.3h1.2M87.0 65.7h1.2M88.6 65.5h1.2M89.8 65.4h1.2M91.2 65.8h1.2M92.7 65.2h1.2M94.2 65.6h1.2M95.7 65.8h1.2M97.2 65.7h1.2M122.2 65.9h1.2M123.6 65.2h1.2M126.6 65.7h1.2M127.8 65.9h1.2M128.5 65.4h1.2M132.0 65.1h1.2M132.7 65.3h1.2M134.9 65.4h1.2M138.9 65.9h1.2M140.3 65.8h1.2M150.9 65.8h1.2M154.1 65.7h1.2M157.0 65.6h1.2M167.2 65.3h1.2M171.9 65.5h1.2M55.8 66.7h1.2M57.7 66.5h1.2M75.2 66.9h1.2M78.9 66.3h1.2M81.0 66.6h1.2M82.6 66.7h1.2M83.6 66.4h1.2M84.7 66.3h1.2M89.7 66.4h1.2M95.0 66.2h1.2M100.8 66.3h1.2M110.3 66.6h1.2M110.8 66.6h1.2M112.6 66.6h1.2M116.8 66.5h1.2M134.1 66.3h1.2M135.1 66.7h1.2M150.6 66.5h1.2M154.1 66.5h1.2M155.3 66.2h1.2M158.7 66.6h1.2M166.1 66.4h1.2M167.9 66.9h1.2M173.8 66.5h1.2M63.0 67.7h1.2M74.2 67.3h1.2M76.6 67.5h1.2M79.8 67.6h1.2M82.7 67.7h1.2M83.7 67.8h1.2M85.3 67.8h1.2M87.6 67.3h1.2M89.1 67.8h1.2M89.6 67.5h1.2M91.7 67.8h1.2M92.6 67.3h1.2M94.3 67.3h1.2M95.2 67.5h1.2M96.1 67.8h1.2M96.9 67.8h1.2M98.3 67.2h1.2M99.2 67.6h1.2M112.1 67.9h1.2M120.5 67.7h1.2M122.8 67.7h1.2M126.6 67.8h1.2M128.9 67.7h1.2M132.0 67.5h1.2M133.8 67.1h1.2M135.0 67.9h1.2M136.0 67.4h1.2M138.1 67.2h1.2M143.0 67.4h1.2M153.1 67.9h1.2M153.9 67.9h1.2M155.0 67.5h1.2M157.2 67.1h1.2M157.6 67.3h1.2M162.8 67.6h1.2M52.3 68.2h1.2M76.2 68.5h1.2M80.6 68.3h1.2M82.8 68.4h1.2M83.5 68.2h1.2M85.9 68.5h1.2M90.6 68.4h1.2M94.3 68.7h1.2M95.2 68.7h1.2M95.7 68.2h1.2M96.7 68.2h1.2M98.0 68.2h1.2M102.7 68.9h1.2M115.8 68.7h1.2M117.2 68.2h1.2M121.8 68.9h1.2M128.7 68.2h1.2M134.7 68.6h1.2M135.7 68.2h1.2M142.9 68.7h1.2M143.9 68.8h1.2M147.3 68.6h1.2M152.7 68.5h1.2M153.6 68.6h1.2M161.8 68.2h1.2M166.0 68.8h1.2M174.8 68.7h1.2M190.3 68.8h1.2M54.8 69.9h1.2M66.8 69.6h1.2M73.1 69.4h1.2M76.8 69.1h1.2M78.8 69.7h1.2M82.6 69.7h1.2M84.8 69.2h1.2M87.1 69.3h1.2M89.0 69.3h1.2M92.7 69.3h1.2M93.8 69.6h1.2M94.6 69.6h1.2M96.2 69.5h1.2M96.6 69.4h1.2M99.7 69.5h1.2M100.7 69.4h1.2M102.1 69.8h1.2M103.1 69.9h1.2M103.9 69.5h1.2M104.7 69.4h1.2M115.0 69.3h1.2M124.8 69.4h1.2M128.6 69.5h1.2M131.1 69.1h1.2M132.7 69.6h1.2M136.7 69.1h1.2M138.0 69.6h1.2M141.0 69.1h1.2M150.0 69.4h1.2M151.9 69.4h1.2M154.6 69.7h1.2M158.0 69.1h1.2M162.3 69.3h1.2M164.3 69.8h1.2M165.3 69.3h1.2M166.0 69.5h1.2M57.9 70.3h1.2M61.7 70.8h1.2M75.8 70.6h1.2M77.9 70.7h1.2M80.2 70.6h1.2M81.2 70.8h1.2M82.2 70.4h1.2M83.1 70.2h1.2M85.1 70.2h1.2M86.0 70.6h1.2M90.7 70.3h1.2M97.2 70.7h1.2M99.2 70.6h1.2M100.1 70.9h1.2M102.0 70.8h1.2M102.8 70.7h1.2M104.0 70.6h1.2M107.2 70.4h1.2M120.2 70.6h1.2M123.1 70.3h1.2M128.0 70.1h1.2M131.3 70.6h1.2M134.9 70.7h1.2M142.2 70.1h1.2M142.9 70.8h1.2M145.2 70.7h1.2M146.1 70.7h1.2M149.0 70.6h1.2M160.0 70.2h1.2M164.1 70.7h1.2M167.1 70.5h1.2M171.7 70.7h1.2M175.5 70.6h1.2M179.6 70.8h1.2M191.0 70.4h1.2M74.1 71.6h1.2M74.7 71.8h1.2M80.8 71.5h1.2M81.7 71.7h1.2M84.9 71.8h1.2M87.1 71.9h1.2M88.9 71.4h1.2M90.9 71.8h1.2M91.8 71.5h1.2M93.2 71.7h1.2M97.1 71.9h1.2M100.1 71.8h1.2M101.3 71.2h1.2M102.9 71.3h1.2M105.0 71.2h1.2M105.8 71.1h1.2M128.7 71.5h1.2M129.7 71.2h1.2M138.0 71.8h1.2M139.6 71.2h1.2M141.1 71.3h1.2M144.6 71.3h1.2M150.9 71.8h1.2M152.8 71.8h1.2M159.8 71.5h1.2M162.7 71.4h1.2M163.8 71.4h1.2M168.5 71.8h1.2M170.9 71.6h1.2M174.2 71.3h1.2M175.6 71.4h1.2M177.8 71.5h1.2M178.7 71.2h1.2M180.1 71.2h1.2M54.6 72.8h1.2M67.0 72.6h1.2M71.6 72.4h1.2M76.6 72.6h1.2M77.9 72.3h1.2M79.5 72.9h1.2M80.8 72.5h1.2M81.9 72.1h1.2M88.1 72.2h1.2M90.2 72.2h1.2M90.8 72.2h1.2M92.7 72.9h1.2M93.8 72.8h1.2M95.7 72.5h1.2M97.2 72.7h1.2M97.5 72.3h1.2M98.5 72.8h1.2M99.8 72.5h1.2M101.8 72.9h1.2M104.8 72.9h1.2M105.8 72.4h1.2M108.9 72.2h1.2M134.6 72.7h1.2M138.1 72.1h1.2M139.0 72.3h1.2M140.1 72.4h1.2M143.2 72.3h1.2M144.2 72.1h1.2M144.9 72.7h1.2M148.0 72.5h1.2M150.0 72.5h1.2M152.2 72.5h1.2M158.6 72.5h1.2M161.2 72.4h1.2M162.5 72.3h1.2M163.7 72.8h1.2M164.8 72.1h1.2M167.1 72.7h1.2M170.1 72.2h1.2M170.9 72.6h1.2M54.2 73.2h1.2M57.5 73.1h1.2M58.6 73.7h1.2M65.1 73.8h1.2M76.1 73.2h1.2M80.9 73.7h1.2M85.2 73.7h1.2M86.3 73.7h1.2M87.1 73.8h1.2M88.1 73.4h1.2M91.1 73.2h1.2M91.7 73.3h1.2M93.8 73.2h1.2M98.7 73.4h1.2M103.7 73.1h1.2M105.2 73.4h1.2M105.7 73.4h1.2M111.1 73.6h1.2M123.0 73.9h1.2M132.1 73.2h1.2M135.1 73.8h1.2M136.0 73.4h1.2M136.9 73.3h1.2M137.5 73.9h1.2M142.2 73.6h1.2M145.7 73.5h1.2M150.7 73.3h1.2M151.9 73.4h1.2M153.9 73.3h1.2M161.0 73.8h1.2M162.5 73.9h1.2M166.9 73.7h1.2M169.5 73.6h1.2M174.5 73.2h1.2M176.3 73.6h1.2M178.8 73.7h1.2M179.8 73.4h1.2M62.6 74.5h1.2M65.7 74.2h1.2M84.9 74.5h1.2M85.7 74.7h1.2M92.8 74.4h1.2M94.6 74.3h1.2M98.2 74.5h1.2M98.5 74.7h1.2M100.2 74.4h1.2M101.2 74.8h1.2M103.3 74.7h1.2M103.7 74.8h1.2M105.6 74.3h1.2M109.9 74.9h1.2M113.1 74.7h1.2M126.6 74.5h1.2M135.2 74.8h1.2M138.7 74.3h1.2M140.3 74.2h1.2M140.6 74.8h1.2M143.7 74.9h1.2M146.7 74.1h1.2M148.9 74.9h1.2M152.1 74.8h1.2M158.7 74.8h1.2M161.6 74.8h1.2M165.7 74.1h1.2M168.6 74.2h1.2M169.8 74.9h1.2M173.5 74.6h1.2M174.7 74.3h1.2M177.5 74.7h1.2M179.0 74.6h1.2M179.8 74.6h1.2M69.1 75.2h1.2M70.2 75.7h1.2M77.5 75.8h1.2M82.2 75.8h1.2M84.0 75.9h1.2M84.9 75.4h1.2M86.2 75.1h1.2M86.9 75.2h1.2M88.2 75.3h1.2M89.7 75.1h1.2M91.2 75.4h1.2M93.7 75.4h1.2M98.0 75.9h1.2M102.2 75.5h1.2M104.8 75.9h1.2M110.1 75.3h1.2M110.6 75.5h1.2M112.3 75.4h1.2M112.8 75.4h1.2M134.9 75.9h1.2M136.9 75.5h1.2M138.6 75.5h1.2M141.0 75.3h1.2M146.2 75.4h1.2M146.7 75.2h1.2M151.1 75.7h1.2M154.6 75.7h1.2M158.2 75.1h1.2M158.9 75.6h1.2M160.2 75.5h1.2M160.9 75.4h1.2M162.1 75.4h1.2M164.5 75.2h1.2M170.5 75.5h1.2M171.9 75.6h1.2M173.0 75.6h1.2M173.6 75.3h1.2M175.2 75.6h1.2M175.7 75.4h1.2M177.8 75.5h1.2M181.1 75.2h1.2M63.7 76.6h1.2M65.9 76.3h1.2M72.6 76.6h1.2M81.5 76.9h1.2M82.7 76.4h1.2M83.7 76.4h1.2M87.2 76.8h1.2M91.1 76.3h1.2M93.1 76.5h1.2M98.0 76.7h1.2M99.8 76.7h1.2M103.0 76.6h1.2M104.3 76.6h1.2M104.5 76.7h1.2M113.1 76.1h1.2M115.1 76.9h1.2M129.9 76.4h1.2M131.6 76.8h1.2M133.2 76.3h1.2M133.6 76.3h1.2M138.1 76.6h1.2M141.2 76.1h1.2M147.5 76.3h1.2M149.0 76.1h1.2M151.1 76.7h1.2M154.7 76.1h1.2M156.9 76.3h1.2M166.9 76.4h1.2M168.1 76.1h1.2M168.6 76.3h1.2M170.0 76.3h1.2M171.8 76.4h1.2M174.0 76.2h1.2M175.1 76.2h1.2M63.0 77.7h1.2M67.2 77.8h1.2M78.0 77.5h1.2M80.2 77.7h1.2M80.6 77.6h1.2M82.8 77.2h1.2M83.5 77.8h1.2M87.7 77.4h1.2M88.6 77.6h1.2M95.2 77.5h1.2M96.2 77.6h1.2M98.0 77.2h1.2M98.6 77.4h1.2M101.3 77.5h1.2M101.7 77.3h1.2M103.5 77.1h1.2M105.8 77.2h1.2M107.0 77.7h1.2M110.2 77.5h1.2M111.0 77.4h1.2M111.8 77.7h1.2M113.9 77.5h1.2M116.2 77.4h1.2M116.9 77.7h1.2M118.2 77.2h1.2M119.8 77.6h1.2M135.7 77.8h1.2M137.0 77.1h1.2M147.3 77.4h1.2M150.1 77.7h1.2M159.8 77.7h1.2M160.6 77.1h1.2M164.9 77.3h1.2M172.0 77.2h1.2M173.2 77.8h1.2M176.7 77.1h1.2M178.2 77.3h1.2M180.2 77.5h1.2M182.0 77.6h1.2M183.1 77.7h1.2M66.7 78.1h1.2M78.0 78.5h1.2M79.1 78.8h1.2M79.8 78.2h1.2M80.9 78.1h1.2M81.8 78.4h1.2M86.9 78.2h1.2M88.0 78.3h1.2M89.3 78.5h1.2M91.2 78.2h1.2M91.9 78.8h1.2M92.7 78.8h1.2M94.2 78.8h1.2M96.3 78.3h1.2M98.6 78.3h1.2M99.8 78.6h1.2M100.6 78.8h1.2M105.1 78.4h1.2M109.7 78.3h1.2M111.1 78.7h1.2M112.1 78.4h1.2M113.5 78.2h1.2M115.2 78.5h1.2M118.1 78.4h1.2M118.9 78.1h1.2M156.2 78.8h1.2M157.9 78.4h1.2M159.7 78.7h1.2M163.5 78.7h1.2M170.2 78.3h1.2M174.3 78.5h1.2M185.3 78.5h1.2M71.2 79.6h1.2M72.2 79.6h1.2M75.5 79.8h1.2M80.0 79.8h1.2M80.5 79.6h1.2M87.9 79.8h1.2M90.2 79.3h1.2M90.8 79.9h1.2M95.0 79.1h1.2M103.2 79.4h1.2M105.8 79.7h1.2M107.7 79.7h1.2M108.8 79.5h1.2M110.3 79.7h1.2M110.7 79.5h1.2M111.7 79.3h1.2M112.6 79.4h1.2M113.6 79.9h1.2M114.9 79.7h1.2M118.0 79.8h1.2M123.7 79.2h1.2M138.2 79.7h1.2M151.1 79.4h1.2M152.9 79.8h1.2M154.2 79.3h1.2M155.0 79.8h1.2M155.7 79.7h1.2M158.3 79.8h1.2M158.7 79.2h1.2M159.8 79.8h1.2M160.6 79.3h1.2M162.9 79.7h1.2M166.0 79.3h1.2M167.1 79.4h1.2M168.2 79.7h1.2M169.5 79.8h1.2M172.8 79.3h1.2M176.5 79.6h1.2M181.0 79.3h1.2M181.5 79.6h1.2M183.0 79.3h1.2M66.2 80.6h1.2M70.1 80.2h1.2M72.6 80.2h1.2M80.0 80.3h1.2M85.5 80.4h1.2M86.6 80.8h1.2M89.3 80.1h1.2M90.0 80.9h1.2M91.1 80.3h1.2M93.1 80.7h1.2M98.5 80.7h1.2M99.9 80.4h1.2M100.7 80.7h1.2M101.7 80.8h1.2M102.8 80.5h1.2M103.8 80.7h1.2M105.7 80.1h1.2M107.0 80.6h1.2M108.1 80.3h1.2M110.0 80.5h1.2M110.8 80.3h1.2M112.8 80.2h1.2M113.7 80.4h1.2M114.6 80.9h1.2M115.9 80.7h1.2M116.7 80.2h1.2M150.8 80.5h1.2M154.3 80.7h1.2M155.0 80.5h1.2M156.5 80.8h1.2M157.9 80.4h1.2M161.8 80.2h1.2M174.7 80.2h1.2M176.5 80.2h1.2M180.1 80.3h1.2M182.8 80.4h1.2M184.1 80.1h1.2M81.0 81.4h1.2M82.7 81.8h1.2M84.9 81.4h1.2M86.6 81.1h1.2M91.3 81.5h1.2M92.1 81.3h1.2M96.1 81.9h1.2M97.8 81.4h1.2M100.2 81.3h1.2M104.3 81.7h1.2M106.8 81.5h1.2M107.6 81.5h1.2M109.3 81.1h1.2M110.9 81.7h1.2M111.6 81.8h1.2M112.6 81.4h1.2M115.2 81.8h1.2M120.0 81.2h1.2M121.2 81.2h1.2M123.1 81.3h1.2M144.1 81.3h1.2M145.1 81.3h1.2M145.6 81.5h1.2M149.0 81.2h1.2M152.8 81.8h1.2M160.5 81.1h1.2M164.6 81.7h1.2M171.0 81.4h1.2M173.3 81.4h1.2M177.8 81.7h1.2M180.8 81.7h1.2M183.5 81.7h1.2M61.0 82.8h1.2M63.8 82.7h1.2M65.1 82.6h1.2M82.3 82.7h1.2M83.6 82.6h1.2M85.0 82.2h1.2M86.3 82.8h1.2M87.7 82.5h1.2M90.6 82.6h1.2M93.5 82.5h1.2M94.6 82.3h1.2M96.2 82.7h1.2M102.2 82.2h1.2M102.8 82.3h1.2M103.5 82.6h1.2M106.1 82.9h1.2M110.1 82.1h1.2M111.2 82.4h1.2M111.6 82.7h1.2M112.6 82.5h1.2M113.5 82.1h1.2M114.9 82.4h1.2M116.8 82.7h1.2M117.6 82.6h1.2M118.7 82.5h1.2M119.6 82.9h1.2M121.8 82.4h1.2M125.3 82.8h1.2M126.2 82.3h1.2M148.7 82.5h1.2M149.7 82.4h1.2M152.3 82.6h1.2M153.2 82.5h1.2M154.0 82.6h1.2M155.0 82.6h1.2M155.9 82.9h1.2M159.8 82.4h1.2M162.5 82.3h1.2M171.0 82.8h1.2M172.0 82.6h1.2M175.2 82.6h1.2M177.0 82.8h1.2M182.9 82.4h1.2M187.7 82.3h1.2M63.0 83.3h1.2M63.9 83.4h1.2M70.2 83.3h1.2M78.7 83.2h1.2M87.2 83.3h1.2M88.7 83.5h1.2M93.3 83.7h1.2M93.8 83.7h1.2M99.6 83.3h1.2M100.8 83.7h1.2M102.9 83.3h1.2M103.9 83.1h1.2M105.2 83.3h1.2M107.2 83.4h1.2M107.9 83.9h1.2M113.3 83.1h1.2M115.0 83.4h1.2M117.1 83.5h1.2M118.0 83.8h1.2M119.2 83.1h1.2M119.6 83.4h1.2M120.8 83.7h1.2M126.2 83.8h1.2M126.6 83.5h1.2M129.1 83.2h1.2M130.3 83.1h1.2M145.1 83.3h1.2M146.3 83.3h1.2M147.9 83.8h1.2M151.6 83.3h1.2M155.1 83.6h1.2M159.9 83.2h1.2M161.0 83.1h1.2M163.0 83.7h1.2M166.1 83.2h1.2M168.1 83.3h1.2M173.3 83.2h1.2M177.7 83.6h1.2M179.1 83.4h1.2M179.8 83.6h1.2M183.1 83.7h1.2M187.7 83.6h1.2M65.6 84.4h1.2M68.0 84.8h1.2M74.0 84.2h1.2M83.1 84.2h1.2M83.7 84.2h1.2M88.7 84.3h1.2M91.0 84.8h1.2M92.3 84.7h1.2M96.9 84.8h1.2M98.1 84.3h1.2M99.2 84.1h1.2M100.2 84.4h1.2M100.9 84.5h1.2M102.1 84.6h1.2M103.9 84.8h1.2M104.5 84.9h1.2M106.3 84.7h1.2M106.6 84.2h1.2M107.6 84.5h1.2M111.0 84.7h1.2M111.8 84.5h1.2M113.3 84.5h1.2M115.9 84.6h1.2M117.2 84.9h1.2M117.6 84.5h1.2M119.9 84.7h1.2M126.9 84.6h1.2M128.6 84.6h1.2M130.0 84.6h1.2M130.5 84.9h1.2M132.3 84.8h1.2M161.1 84.3h1.2M163.7 84.6h1.2M165.6 84.5h1.2M167.7 84.5h1.2M169.1 84.5h1.2M169.5 84.5h1.2M172.2 84.7h1.2M173.2 84.5h1.2M174.2 84.3h1.2M176.9 84.3h1.2M181.7 84.1h1.2M70.3 85.8h1.2M73.6 85.4h1.2M81.0 85.4h1.2M83.9 85.8h1.2M84.6 85.4h1.2M86.0 85.2h1.2M88.0 85.8h1.2M95.0 85.4h1.2M97.2 85.7h1.2M99.6 85.6h1.2M102.6 85.2h1.2M105.6 85.8h1.2M108.1 85.4h1.2M109.8 85.3h1.2M113.2 85.5h1.2M116.0 85.4h1.2M118.0 85.7h1.2M118.6 85.8h1.2M120.0 85.6h1.2M123.3 85.4h1.2M123.7 85.8h1.2M125.6 85.7h1.2M126.6 85.7h1.2M128.8 85.3h1.2M130.3 85.8h1.2M133.7 85.3h1.2M136.2 85.9h1.2M138.0 85.5h1.2M151.1 85.3h1.2M158.9 85.8h1.2M162.7 85.5h1.2M166.6 85.6h1.2M168.0 85.5h1.2M170.0 85.5h1.2M170.6 85.7h1.2M174.6 85.8h1.2M67.0 86.5h1.2M77.5 86.8h1.2M91.7 86.8h1.2M95.2 86.2h1.2M95.9 86.3h1.2M96.6 86.7h1.2M97.7 86.3h1.2M99.5 86.1h1.2M101.7 86.6h1.2M104.3 86.2h1.2M104.5 86.8h1.2M114.2 86.6h1.2M114.8 86.9h1.2M116.0 86.4h1.2M116.8 86.8h1.2M119.6 86.6h1.2M120.7 86.7h1.2M121.8 86.4h1.2M123.6 86.4h1.2M124.8 86.2h1.2M126.3 86.6h1.2M127.2 86.6h1.2M132.1 86.6h1.2M133.5 86.4h1.2M141.0 86.3h1.2M154.6 86.8h1.2M159.6 86.8h1.2M164.2 86.2h1.2M166.5 86.3h1.2M168.7 86.1h1.2M170.5 86.6h1.2M174.9 86.8h1.2M183.7 86.6h1.2M64.7 87.5h1.2M80.0 87.6h1.2M81.2 87.5h1.2M86.1 87.8h1.2M89.9 87.6h1.2M91.2 87.8h1.2M93.2 87.5h1.2M93.9 87.2h1.2M97.2 87.7h1.2M100.8 87.5h1.2M102.0 87.4h1.2M103.9 87.6h1.2M107.3 87.4h1.2M111.3 87.3h1.2M112.8 87.3h1.2M114.6 87.9h1.2M115.8 87.5h1.2M117.0 87.8h1.2M118.2 87.2h1.2M118.8 87.8h1.2M122.1 87.4h1.2M123.0 87.7h1.2M123.9 87.7h1.2M125.3 87.9h1.2M126.3 87.8h1.2M126.6 87.7h1.2M130.1 87.8h1.2M132.1 87.8h1.2M132.8 87.7h1.2M133.5 87.7h1.2M139.3 87.6h1.2M139.7 87.1h1.2M140.6 87.3h1.2M159.2 87.1h1.2M160.9 87.8h1.2M162.1 87.1h1.2M163.9 87.4h1.2M165.1 87.1h1.2M165.9 87.4h1.2M78.2 88.5h1.2M82.5 88.5h1.2M87.6 88.7h1.2M89.9 88.6h1.2M90.6 88.4h1.2M91.8 88.5h1.2M92.8 88.3h1.2M93.7 88.6h1.2M102.1 88.6h1.2M103.2 88.7h1.2M103.9 88.6h1.2M104.6 88.4h1.2M105.8 88.8h1.2M107.0 88.8h1.2M107.5 88.7h1.2M109.8 88.4h1.2M110.9 88.1h1.2M111.9 88.1h1.2M113.3 88.3h1.2M115.6 88.1h1.2M116.8 88.5h1.2M118.6 88.2h1.2M119.8 88.3h1.2M121.2 88.2h1.2M121.7 88.7h1.2M122.5 88.8h1.2M124.3 88.5h1.2M130.7 88.5h1.2M135.2 88.3h1.2M135.7 88.1h1.2M138.8 88.4h1.2M142.2 88.7h1.2M143.0 88.8h1.2M147.0 88.9h1.2M172.2 88.8h1.2M172.7 88.7h1.2M70.0 89.4h1.2M71.1 89.3h1.2M89.8 89.3h1.2M90.8 89.8h1.2M92.1 89.4h1.2M93.2 89.2h1.2M99.0 89.7h1.2M101.8 89.2h1.2M105.1 89.2h1.2M105.8 89.5h1.2M107.6 89.6h1.2M109.8 89.6h1.2M111.0 89.8h1.2M111.8 89.6h1.2M113.3 89.1h1.2M114.0 89.8h1.2M114.9 89.7h1.2M116.8 89.8h1.2M117.5 89.8h1.2M119.2 89.8h1.2M124.3 89.7h1.2M127.8 89.9h1.2M128.5 89.7h1.2M129.6 89.7h1.2M131.3 89.3h1.2M133.0 89.6h1.2M140.9 89.8h1.2M142.2 89.6h1.2M143.3 89.2h1.2M144.0 89.7h1.2M149.2 89.3h1.2M161.8 89.1h1.2M164.2 89.5h1.2M164.9 89.4h1.2M165.5 89.6h1.2M179.0 89.1h1.2M81.2 90.4h1.2M82.2 90.3h1.2M82.6 90.5h1.2M88.9 90.5h1.2M98.0 90.3h1.2M100.1 90.5h1.2M101.0 90.4h1.2M101.7 90.6h1.2M104.2 90.2h1.2M105.2 90.9h1.2M106.7 90.6h1.2M108.1 90.9h1.2M109.8 90.2h1.2M111.0 90.6h1.2M118.7 90.4h1.2M120.1 90.1h1.2M121.0 90.5h1.2M122.9 90.6h1.2M124.2 90.4h1.2M125.0 90.3h1.2M130.2 90.8h1.2M132.3 90.3h1.2M132.8 90.2h1.2M135.3 90.7h1.2M137.9 90.8h1.2M139.6 90.3h1.2M141.2 90.6h1.2M141.8 90.3h1.2M143.2 90.5h1.2M144.5 90.5h1.2M149.3 90.2h1.2M150.8 90.4h1.2M151.9 90.6h1.2M163.0 90.4h1.2M169.8 90.5h1.2M174.9 90.8h1.2M177.2 90.8h1.2M178.0 90.2h1.2M72.2 91.4h1.2M83.2 91.2h1.2M89.3 91.6h1.2M92.6 91.5h1.2M94.7 91.1h1.2M98.1 91.7h1.2M107.1 91.8h1.2M108.1 91.1h1.2M109.2 91.2h1.2M114.8 91.2h1.2M117.9 91.2h1.2M118.8 91.4h1.2M119.8 91.3h1.2M122.2 91.7h1.2M125.6 91.8h1.2M128.9 91.2h1.2M130.0 91.5h1.2M133.1 91.3h1.2M134.5 91.8h1.2M137.7 91.1h1.2M139.0 91.3h1.2M140.0 91.6h1.2M140.7 91.5h1.2M142.2 91.2h1.2M145.1 91.7h1.2M146.1 91.8h1.2M146.8 91.6h1.2M147.7 91.9h1.2M148.6 91.7h1.2M149.9 91.9h1.2M164.9 91.4h1.2M167.9 91.9h1.2M80.1 92.7h1.2M82.7 92.5h1.2M98.7 92.2h1.2M100.3 92.4h1.2M101.1 92.8h1.2M105.2 92.2h1.2M105.7 92.8h1.2M106.5 92.1h1.2M107.7 92.8h1.2M109.0 92.3h1.2M115.7 92.2h1.2M116.9 92.4h1.2M118.9 92.3h1.2M120.0 92.8h1.2M121.2 92.2h1.2M121.8 92.4h1.2M123.3 92.3h1.2M126.0 92.8h1.2M126.7 92.5h1.2M128.0 92.2h1.2M128.8 92.3h1.2M131.8 92.5h1.2M132.6 92.3h1.2M135.6 92.6h1.2M136.5 92.2h1.2M137.9 92.1h1.2M140.2 92.8h1.2M142.1 92.5h1.2M143.0 92.9h1.2M143.7 92.1h1.2M145.1 92.7h1.2M145.9 92.6h1.2M146.5 92.6h1.2M148.6 92.1h1.2M152.0 92.3h1.2M152.5 92.3h1.2M171.8 92.6h1.2M176.1 92.8h1.2M207.7 92.9h1.2M86.6 93.3h1.2M100.8 93.9h1.2M107.7 93.8h1.2M111.1 93.3h1.2M111.5 93.8h1.2M112.9 93.9h1.2M116.2 93.8h1.2M117.2 93.4h1.2M117.8 93.9h1.2M118.5 93.4h1.2M120.0 93.1h1.2M120.5 93.3h1.2M123.9 93.4h1.2M125.2 93.5h1.2M126.7 93.8h1.2M129.2 93.8h1.2M130.2 93.3h1.2M131.7 93.5h1.2M137.8 93.9h1.2M140.2 93.8h1.2M140.8 93.8h1.2M144.3 93.6h1.2M146.0 93.5h1.2M146.8 93.8h1.2M149.1 93.9h1.2M149.9 93.4h1.2M150.6 93.6h1.2M152.1 93.6h1.2M153.0 93.7h1.2M154.7 93.5h1.2M158.2 93.7h1.2M81.3 94.5h1.2M86.6 94.6h1.2M103.1 94.4h1.2M106.1 94.7h1.2M108.2 94.6h1.2M109.7 94.4h1.2M111.8 94.2h1.2M113.2 94.5h1.2M113.8 94.9h1.2M115.3 94.4h1.2M115.9 94.3h1.2M118.1 94.4h1.2M118.8 94.8h1.2M121.3 94.8h1.2M122.2 94.3h1.2M124.1 94.2h1.2M125.1 94.1h1.2M125.6 94.7h1.2M128.2 94.7h1.2M129.5 94.5h1.2M135.1 94.4h1.2M137.8 94.7h1.2M143.9 94.2h1.2M145.3 94.7h1.2M146.3 94.6h1.2M148.7 94.5h1.2M149.9 94.4h1.2M150.8 94.5h1.2M151.8 94.4h1.2M153.2 94.4h1.2M154.0 94.4h1.2M156.2 94.5h1.2M157.7 94.2h1.2M172.2 94.9h1.2M105.6 95.8h1.2M112.1 95.1h1.2M112.5 95.8h1.2M116.8 95.4h1.2M119.3 95.6h1.2M120.9 95.4h1.2M122.6 95.7h1.2M123.7 95.2h1.2M125.1 95.4h1.2M133.7 95.6h1.2M134.9 95.7h1.2M139.0 95.6h1.2M139.8 95.7h1.2M140.8 95.6h1.2M142.0 95.4h1.2M144.1 95.3h1.2M145.1 95.8h1.2M147.6 95.1h1.2M150.0 95.5h1.2M151.5 95.8h1.2M153.8 95.6h1.2M162.8 95.4h1.2M188.6 95.6h1.2M110.6 96.8h1.2M113.1 96.2h1.2M113.6 96.1h1.2M114.7 96.8h1.2M117.2 96.4h1.2M117.6 96.5h1.2M125.6 96.7h1.2M130.0 96.1h1.2M133.0 96.9h1.2M133.8 96.4h1.2M136.9 96.6h1.2M138.1 96.7h1.2M138.6 96.8h1.2M139.7 96.3h1.2M140.8 96.3h1.2M143.2 96.2h1.2M145.3 96.9h1.2M147.2 96.2h1.2M147.6 96.4h1.2M148.7 96.3h1.2M153.6 96.6h1.2M154.8 96.7h1.2M160.1 96.5h1.2M160.6 96.1h1.2M173.7 96.6h1.2M189.5 96.1h1.2M201.6 96.4h1.2M81.1 97.7h1.2M88.5 97.5h1.2M90.5 97.1h1.2M106.9 97.3h1.2M120.7 97.5h1.2M121.9 97.2h1.2M124.1 97.7h1.2M125.0 97.4h1.2M129.0 97.6h1.2M130.7 97.8h1.2M135.8 97.2h1.2M138.6 97.4h1.2M139.6 97.2h1.2M141.0 97.3h1.2M146.2 97.2h1.2M148.1 97.7h1.2M158.1 97.1h1.2M158.9 97.2h1.2M161.2 97.2h1.2M162.3 97.3h1.2M163.1 97.7h1.2M163.8 97.7h1.2M167.1 97.5h1.2M109.6 98.8h1.2M114.0 98.7h1.2M119.2 98.9h1.2M119.5 98.4h1.2M121.8 98.1h1.2M128.2 98.6h1.2M129.0 98.5h1.2M131.0 98.6h1.2M134.6 98.8h1.2M137.1 98.7h1.2M141.2 98.7h1.2M147.8 98.3h1.2M149.7 98.1h1.2M153.6 98.2h1.2M156.9 98.7h1.2M158.2 98.5h1.2M159.2 98.6h1.2M160.2 98.1h1.2M161.2 98.3h1.2M162.0 98.5h1.2M165.3 98.2h1.2M166.2 98.7h1.2M166.8 98.5h1.2M167.7 98.7h1.2M117.0 99.5h1.2M120.6 99.3h1.2M123.8 99.3h1.2M124.7 99.2h1.2M126.3 99.1h1.2M128.2 99.2h1.2M129.9 99.2h1.2M131.1 99.5h1.2M131.8 99.5h1.2M132.9 99.5h1.2M133.9 99.5h1.2M136.0 99.3h1.2M140.9 99.4h1.2M141.7 99.2h1.2M144.1 99.8h1.2M145.1 99.6h1.2M145.6 99.4h1.2M146.6 99.2h1.2M147.8 99.2h1.2M149.9 99.4h1.2M151.1 99.4h1.2M152.7 99.5h1.2M155.2 99.1h1.2M157.2 99.1h1.2M158.7 99.2h1.2M160.1 99.4h1.2M161.2 99.4h1.2M161.7 99.7h1.2M163.9 99.1h1.2M165.2 99.7h1.2M165.9 99.8h1.2M167.0 99.2h1.2M87.1 100.2h1.2M118.3 100.4h1.2M123.2 100.6h1.2M123.9 100.3h1.2M124.7 100.2h1.2M125.7 100.8h1.2M127.1 100.2h1.2M128.0 100.7h1.2M129.2 100.8h1.2M130.9 100.9h1.2M137.1 100.1h1.2M138.9 100.8h1.2M140.8 100.3h1.2M141.9 100.2h1.2M142.6 100.2h1.2M143.8 100.7h1.2M144.9 100.9h1.2M145.6 100.9h1.2M147.2 100.8h1.2M148.7 100.1h1.2M149.8 100.3h1.2M152.9 100.7h1.2M154.5 100.6h1.2M157.6 100.5h1.2M158.8 100.8h1.2M159.5 100.4h1.2M162.0 100.9h1.2M162.6 100.2h1.2M164.2 100.2h1.2M164.7 100.7h1.2M166.7 100.7h1.2M168.1 100.5h1.2M168.9 100.9h1.2M170.7 100.1h1.2M174.1 100.7h1.2M97.2 101.8h1.2M126.0 101.5h1.2M127.5 101.4h1.2M128.5 101.6h1.2M131.1 101.7h1.2M135.6 101.1h1.2M137.7 101.3h1.2M139.1 101.2h1.2M140.5 101.2h1.2M142.0 101.5h1.2M144.2 101.5h1.2M144.7 101.7h1.2M145.9 101.9h1.2M147.2 101.4h1.2M148.1 101.7h1.2M150.3 101.7h1.2M151.0 101.5h1.2M152.6 101.9h1.2M156.7 101.3h1.2M158.1 101.4h1.2M160.7 101.5h1.2M162.0 101.4h1.2M162.5 101.9h1.2M163.8 101.2h1.2M164.7 101.6h1.2M165.7 101.3h1.2M168.1 101.7h1.2M168.8 101.4h1.2M169.7 101.8h1.2M171.1 101.5h1.2M173.3 101.7h1.2M175.7 101.4h1.2M80.0 102.6h1.2M95.7 102.7h1.2M98.0 102.8h1.2M123.8 102.2h1.2M127.8 102.9h1.2M129.6 102.6h1.2M132.1 102.1h1.2M135.9 102.4h1.2M138.0 102.4h1.2M138.8 102.8h1.2M139.7 102.8h1.2M141.1 102.2h1.2M143.5 102.3h1.2M145.0 102.2h1.2M146.6 102.5h1.2M148.9 102.6h1.2M153.5 102.3h1.2M154.9 102.2h1.2M156.9 102.8h1.2M158.7 102.2h1.2M160.3 102.6h1.2M161.2 102.8h1.2M162.0 102.9h1.2M163.0 102.8h1.2M163.9 102.9h1.2M165.8 102.9h1.2M167.1 102.7h1.2M167.9 102.2h1.2M171.6 102.6h1.2M191.8 102.2h1.2M98.5 103.4h1.2M125.1 103.2h1.2M126.7 103.2h1.2M133.5 103.4h1.2M134.8 103.9h1.2M135.5 103.8h1.2M136.7 103.3h1.2M138.0 103.2h1.2M139.6 103.3h1.2M141.6 103.5h1.2M142.8 103.2h1.2M143.8 103.7h1.2M145.0 103.7h1.2M145.6 103.7h1.2M147.0 103.5h1.2M147.7 103.7h1.2M148.7 103.8h1.2M149.6 103.5h1.2M150.9 103.5h1.2M151.8 103.6h1.2M153.8 103.4h1.2M155.8 103.7h1.2M158.7 103.5h1.2M159.9 103.6h1.2M160.9 103.1h1.2M162.8 103.3h1.2M163.6 103.8h1.2M170.1 103.2h1.2M175.2 103.8h1.2M199.9 103.5h1.2M91.2 104.5h1.2M98.6 104.6h1.2M105.2 104.8h1.2M105.6 104.8h1.2M108.1 104.3h1.2M108.6 104.5h1.2M122.5 104.8h1.2M124.6 104.7h1.2M131.9 104.8h1.2M138.7 104.4h1.2M139.6 104.6h1.2M141.0 104.1h1.2M141.6 104.5h1.2M142.7 104.5h1.2M149.0 104.3h1.2M150.1 104.3h1.2M151.6 104.4h1.2M153.2 104.2h1.2M153.7 104.4h1.2M155.2 104.1h1.2M155.5 104.3h1.2M159.0 104.1h1.2M159.9 104.4h1.2M161.5 104.6h1.2M164.0 104.6h1.2M168.2 104.7h1.2M169.8 104.4h1.2M172.1 104.2h1.2M91.2 105.3h1.2M110.8 105.8h1.2M131.6 105.4h1.2M136.2 105.8h1.2M136.6 105.6h1.2M139.6 105.3h1.2M141.0 105.9h1.2M141.6 105.3h1.2M144.0 105.2h1.2M145.3 105.7h1.2M146.2 105.8h1.2M148.8 105.4h1.2M149.6 105.7h1.2M153.7 105.5h1.2M157.2 105.1h1.2M158.8 105.5h1.2M161.7 105.1h1.2M167.7 105.4h1.2M169.0 105.5h1.2M169.8 105.6h1.2M175.6 105.8h1.2M182.8 105.7h1.2M112.0 106.4h1.2M113.3 106.5h1.2M128.7 106.5h1.2M138.6 106.7h1.2M139.7 106.3h1.2M143.2 106.8h1.2M144.9 106.7h1.2M146.7 106.4h1.2M148.7 106.5h1.2M151.8 106.7h1.2M158.2 106.3h1.2M168.3 106.3h1.2M170.3 106.2h1.2M170.9 106.6h1.2M188.2 106.6h1.2M94.2 107.6h1.2M135.3 107.4h1.2M137.0 107.4h1.2M142.6 107.8h1.2M144.3 107.4h1.2M147.1 107.5h1.2M147.7 107.6h1.2M148.9 107.8h1.2M155.6 107.5h1.2M157.0 107.6h1.2M158.6 107.2h1.2M165.1 107.2h1.2M165.7 107.6h1.2M167.0 107.8h1.2M168.2 107.8h1.2M170.6 107.6h1.2M172.6 107.1h1.2M174.6 107.6h1.2M182.6 107.7h1.2M185.6 107.2h1.2M143.5 108.4h1.2M149.3 108.4h1.2M149.8 108.4h1.2M153.5 108.2h1.2M159.3 108.3h1.2M159.9 108.2h1.2M163.3 108.7h1.2M163.8 108.6h1.2M165.9 108.5h1.2M167.2 108.3h1.2M167.7 108.6h1.2M169.3 108.2h1.2M170.6 108.4h1.2M171.6 108.4h1.2M172.8 108.2h1.2M173.6 108.4h1.2M183.9 108.7h1.2M186.0 108.6h1.2M83.3 109.4h1.2M142.9 109.8h1.2M143.6 109.3h1.2M151.0 109.7h1.2M151.5 109.3h1.2M152.8 109.7h1.2M153.5 109.6h1.2M154.7 109.2h1.2M156.7 109.5h1.2M163.1 109.3h1.2M164.9 109.6h1.2M165.9 109.6h1.2M168.3 109.5h1.2M170.3 109.7h1.2M173.3 109.2h1.2M184.5 109.6h1.2M150.7 110.2h1.2M152.8 110.1h1.2M154.8 110.5h1.2M156.0 110.2h1.2M156.5 110.7h1.2M157.8 110.4h1.2M161.0 110.7h1.2M162.6 110.8h1.2M164.8 110.1h1.2M165.6 110.8h1.2M166.8 110.3h1.2M185.6 110.3h1.2M146.2 111.4h1.2M147.7 111.7h1.2M149.5 111.9h1.2M154.2 111.4h1.2M156.1 111.4h1.2M161.8 111.6h1.2M163.0 111.5h1.2M165.7 111.8h1.2M166.5 111.7h1.2M167.9 111.8h1.2M172.6 111.1h1.2M173.7 111.5h1.2M109.7 112.9h1.2M130.7 112.7h1.2M145.8 112.2h1.2M151.7 112.7h1.2M153.5 112.7h1.2M154.6 112.5h1.2M156.5 112.7h1.2M161.0 112.5h1.2M162.9 112.4h1.2M165.0 112.2h1.2M169.1 112.8h1.2M171.0 112.3h1.2M121.7 113.7h1.2M132.8 113.8h1.2M156.2 113.1h1.2M158.6 113.5h1.2M160.3 113.5h1.2M160.9 113.9h1.2M162.7 113.7h1.2M165.6 113.2h1.2M167.7 113.8h1.2M170.0 113.6h1.2M170.6 113.4h1.2M172.1 113.8h1.2M173.0 113.2h1.2M174.0 113.5h1.2M175.8 113.6h1.2M183.7 113.5h1.2M189.8 113.5h1.2M123.0 114.5h1.2M125.1 114.8h1.2M125.9 114.4h1.2M133.8 114.2h1.2M150.3 114.4h1.2M153.9 114.3h1.2M154.7 114.6h1.2M157.6 114.1h1.2M159.0 114.1h1.2M159.7 114.4h1.2M160.7 114.4h1.2M162.0 114.9h1.2M162.9 114.1h1.2M165.0 114.9h1.2M165.6 114.3h1.2M166.5 114.8h1.2M168.2 114.4h1.2M169.5 114.6h1.2M171.2 114.3h1.2M189.6 114.7h1.2M190.6 114.2h1.2M193.7 114.5h1.2M107.8 115.6h1.2M121.3 115.8h1.2M125.7 115.5h1.2M126.8 115.8h1.2M128.7 115.8h1.2M135.0 115.1h1.2M149.6 115.6h1.2M150.7 115.7h1.2M153.1 115.2h1.2M154.7 115.9h1.2M157.7 115.3h1.2M159.0 115.8h1.2M159.6 115.4h1.2M160.6 115.8h1.2M163.1 115.9h1.2M164.5 115.4h1.2M165.7 115.1h1.2M166.6 115.2h1.2M168.2 115.1h1.2M168.5 115.4h1.2M175.1 115.2h1.2M192.1 115.3h1.2M130.2 116.5h1.2M139.0 116.5h1.2M149.0 116.4h1.2M157.1 116.9h1.2M158.1 116.7h1.2M159.7 116.2h1.2M160.8 116.7h1.2M161.9 116.6h1.2M162.9 116.4h1.2M163.7 116.2h1.2M165.9 116.6h1.2M168.2 116.2h1.2M168.5 116.4h1.2M170.5 116.6h1.2M192.6 116.8h1.2M148.7 117.3h1.2M156.3 117.3h1.2M161.6 117.9h1.2M163.5 117.4h1.2M165.0 117.3h1.2M165.7 117.5h1.2M169.8 117.4h1.2M172.0 117.4h1.2M176.2 117.1h1.2M187.1 117.4h1.2M94.2 118.3h1.2M96.2 118.8h1.2M97.2 118.2h1.2M144.0 118.7h1.2M159.8 118.5h1.2M162.0 118.8h1.2M163.1 118.6h1.2M164.3 118.7h1.2M165.6 118.3h1.2M185.9 118.5h1.2M193.6 118.5h1.2M97.2 119.7h1.2M143.8 119.7h1.2M144.8 119.5h1.2M146.6 119.1h1.2M156.8 119.6h1.2M163.8 119.2h1.2M166.1 119.3h1.2M170.0 119.8h1.2M97.9 120.8h1.2M98.7 120.4h1.2M147.7 120.4h1.2M151.6 120.6h1.2M152.9 120.9h1.2M163.0 120.6h1.2M166.9 120.1h1.2M170.2 120.3h1.2M171.2 120.3h1.2M153.9 121.7h1.2M155.2 121.3h1.2M167.2 121.4h1.2M170.5 121.2h1.2M172.6 121.5h1.2M118.6 122.1h1.2M129.9 122.8h1.2M151.8 122.3h1.2M159.2 122.2h1.2M163.8 122.2h1.2M175.6 122.7h1.2M102.1 123.2h1.2M107.0 123.4h1.2M119.9 123.4h1.2M173.6 123.3h1.2M197.0 123.8h1.2M97.1 124.4h1.2M104.1 124.1h1.2M124.2 124.7h1.2M124.6 124.8h1.2M155.1 124.8h1.2M181.0 124.6h1.2M186.2 124.1h1.2M188.9 124.2h1.2M101.1 125.1h1.2M104.8 125.5h1.2M106.2 125.4h1.2M125.0 125.3h1.2M125.9 125.2h1.2M131.2 125.5h1.2M173.7 125.8h1.2M184.9 125.7h1.2M105.5 126.3h1.2M129.7 126.2h1.2M174.9 126.6h1.2M177.0 126.2h1.2M202.6 126.3h1.2M106.5 127.5h1.2M108.1 127.1h1.2M128.2 127.5h1.2M176.8 127.3h1.2M94.8 128.6h1.2M108.2 128.4h1.2M109.9 128.8h1.2M133.0 128.7h1.2M141.7 128.6h1.2M161.7 128.7h1.2M93.2 129.2h1.2M134.9 129.5h1.2M135.9 129.1h1.2M144.7 129.7h1.2M169.9 129.8h1.2M178.7 129.3h1.2M118.2 130.4h1.2M130.5 130.7h1.2M143.9 130.7h1.2M161.3 130.1h1.2M164.0 130.4h1.2M146.1 131.2h1.2M159.8 131.1h1.2M160.7 131.4h1.2M164.5 131.7h1.2M165.7 131.2h1.2M157.8 132.7h1.2M175.3 132.4h1.2M181.1 132.4h1.2M198.2 132.6h1.2M121.5 133.5h1.2M150.3 133.9h1.2M163.2 133.8h1.2M181.1 133.5h1.2M151.8 134.4h1.2M143.0 135.3h1.2M164.9 135.7h1.2M178.2 135.4h1.2M190.0 135.8h1.2M166.0 136.8h1.2M180.1 136.4h1.2M137.1 137.2h1.2M181.0 137.6h1.2M181.6 137.4h1.2M138.6 138.6h1.2M168.1 138.3h1.2M169.0 138.1h1.2M177.7 139.2h1.2M159.1 140.3h1.2M170.0 140.7h1.2M187.3 141.8h1.2M171.0 142.8h1.2M171.6 142.7h1.2M172.6 143.5h1.2M198.3 143.6h1.2M148.6 144.6h1.2M173.9 144.5h1.2M204.0 144.4h1.2M120.8 145.4h1.2M156.8 145.2h1.2M157.1 148.2h1.2M200.5 148.5h1.2M208.2 148.7h1.2M198.6 149.5h1.2M182.0 150.5h1.2M206.7 150.4h1.2M157.2 152.4h1.2M179.0 155.9h1.2M185.5 156.6h1.2M159.0 158.9h1.2" stroke="#00008f" stroke-width="1.2" fill="none"/>
<path d="M81.5 9.5h1.2M84.9 11.7h1.2M64.2 12.2h1.2M118.0 12.4h1.2M120.6 12.3h1.2M62.6 14.2h1.2M108.7 14.2h1.2M66.8 15.7h1.2M77.0 15.2h1.2M80.5 15.7h1.2M122.9 17.4h1.2M70.9 19.2h1.2M80.3 21.6h1.2M84.5 21.5h1.2M82.1 22.3h1.2M124.6 22.1h1.2M69.9 23.8h1.2M77.1 23.8h1.2M79.1 23.2h1.2M75.1 24.4h1.2M75.7 24.4h1.2M62.9 25.1h1.2M82.9 25.8h1.2M84.8 26.4h1.2M85.7 26.2h1.2M86.9 26.8h1.2M120.7 27.2h1.2M66.7 28.6h1.2M72.5 28.5h1.2M79.2 28.8h1.2M85.7 28.5h1.2M87.6 28.7h1.2M88.8 28.8h1.2M83.1 29.5h1.2M85.2 30.4h1.2M85.7 30.3h1.2M95.7 30.6h1.2M99.6 30.3h1.2M70.7 31.8h1.2M118.1 31.8h1.2M45.0 32.2h1.2M85.1 32.5h1.2M85.6 32.2h1.2M91.2 32.4h1.2M98.7 32.9h1.2M126.2 32.8h1.2M98.9 33.6h1.2M129.1 33.8h1.2M89.0 34.3h1.2M97.0 34.7h1.2M98.2 34.2h1.2M109.6 34.5h1.2M114.2 34.8h1.2M73.9 35.3h1.2M76.6 35.9h1.2M103.2 35.7h1.2M119.9 35.3h1.2M71.0 36.6h1.2M85.8 36.4h1.2M91.1 36.5h1.2M125.6 36.8h1.2M54.2 37.5h1.2M79.0 37.6h1.2M95.0 37.9h1.2M97.6 37.3h1.2M99.0 37.4h1.2M81.5 38.3h1.2M84.7 38.7h1.2M92.6 38.8h1.2M98.9 38.2h1.2M100.2 38.7h1.2M68.2 39.7h1.2M88.1 39.6h1.2M90.6 39.5h1.2M101.8 39.8h1.2M105.5 39.5h1.2M78.1 40.1h1.2M86.1 40.1h1.2M87.3 40.7h1.2M91.8 40.4h1.2M95.6 40.2h1.2M97.6 40.2h1.2M100.0 40.3h1.2M141.0 40.4h1.2M64.1 41.5h1.2M90.1 41.8h1.2M102.5 41.4h1.2M105.0 41.6h1.2M111.3 41.5h1.2M85.9 42.2h1.2M87.6 42.5h1.2M89.7 42.3h1.2M92.2 42.4h1.2M93.0 42.2h1.2M93.8 42.3h1.2M95.5 42.4h1.2M97.9 42.2h1.2M104.5 42.7h1.2M114.7 42.3h1.2M58.7 43.6h1.2M64.3 43.7h1.2M80.5 43.5h1.2M91.1 43.8h1.2M96.0 43.2h1.2M107.9 43.3h1.2M61.6 44.8h1.2M90.8 44.2h1.2M100.0 44.2h1.2M102.2 44.7h1.2M103.6 44.3h1.2M118.6 44.3h1.2M154.6 44.9h1.2M75.3 45.8h1.2M76.5 45.3h1.2M80.1 45.4h1.2M89.5 45.5h1.2M104.0 45.4h1.2M106.7 45.8h1.2M116.6 45.9h1.2M120.1 45.6h1.2M142.6 45.4h1.2M143.8 45.7h1.2M67.7 46.5h1.2M90.2 46.3h1.2M98.8 46.4h1.2M105.3 46.5h1.2M110.6 46.7h1.2M115.3 46.1h1.2M122.0 46.2h1.2M123.3 46.3h1.2M59.1 47.9h1.2M67.1 47.5h1.2M96.1 47.3h1.2M101.0 47.9h1.2M117.1 47.6h1.2M128.0 47.2h1.2M95.2 48.6h1.2M100.3 48.7h1.2M110.7 48.6h1.2M115.9 48.3h1.2M119.0 48.8h1.2M82.0 49.2h1.2M95.1 49.3h1.2M96.5 49.7h1.2M100.6 49.2h1.2M117.7 49.8h1.2M121.5 49.6h1.2M123.1 49.2h1.2M62.2 50.3h1.2M80.1 50.7h1.2M89.2 50.6h1.2M91.7 50.7h1.2M97.3 50.4h1.2M105.5 50.8h1.2M106.9 50.7h1.2M120.3 50.2h1.2M128.1 50.6h1.2M130.0 50.3h1.2M131.6 50.7h1.2M51.0 51.3h1.2M68.6 51.6h1.2M73.0 51.2h1.2M74.2 51.6h1.2M77.8 51.4h1.2M81.5 51.5h1.2M82.9 51.3h1.2M96.0 51.5h1.2M98.3 51.5h1.2M108.5 51.5h1.2M112.0 51.7h1.2M114.1 51.5h1.2M117.1 51.2h1.2M117.8 51.9h1.2M120.6 51.6h1.2M129.1 51.4h1.2M88.5 52.3h1.2M98.1 52.8h1.2M103.0 52.7h1.2M106.2 52.5h1.2M106.5 52.5h1.2M107.5 52.3h1.2M108.6 52.5h1.2M110.0 52.4h1.2M111.9 52.7h1.2M112.6 52.6h1.2M115.2 52.1h1.2M116.3 52.7h1.2M121.6 52.9h1.2M124.2 52.6h1.2M125.0 52.3h1.2M125.8 52.2h1.2M93.3 53.8h1.2M96.2 53.7h1.2M99.3 53.5h1.2M104.3 53.9h1.2M107.8 53.9h1.2M115.0 53.7h1.2M120.8 53.1h1.2M126.7 53.2h1.2M134.8 53.4h1.2M97.9 54.4h1.2M105.6 54.4h1.2M113.0 54.8h1.2M115.6 54.3h1.2M121.7 54.6h1.2M127.2 54.8h1.2M129.7 54.4h1.2M132.6 54.6h1.2M137.1 54.3h1.2M173.9 54.4h1.2M101.0 55.3h1.2M108.6 55.2h1.2M115.8 55.1h1.2M117.8 55.2h1.2M123.0 55.2h1.2M130.2 55.5h1.2M134.1 55.3h1.2M98.3 56.6h1.2M98.5 56.3h1.2M109.8 56.9h1.2M122.6 56.3h1.2M124.6 56.5h1.2M125.6 56.5h1.2M127.6 56.2h1.2M153.7 56.3h1.2M171.6 56.6h1.2M66.6 57.8h1.2M72.0 57.5h1.2M83.2 57.8h1.2M105.0 57.8h1.2M115.9 57.2h1.2M137.3 57.1h1.2M140.9 57.7h1.2M141.9 57.2h1.2M142.8 57.7h1.2M146.6 57.5h1.2M149.9 57.3h1.2M150.8 57.3h1.2M169.6 57.8h1.2M45.8 58.8h1.2M47.2 58.3h1.2M74.8 58.7h1.2M76.6 58.8h1.2M77.8 58.4h1.2M84.0 58.6h1.2M88.0 58.2h1.2M97.9 58.3h1.2M98.6 58.7h1.2M100.9 58.3h1.2M107.9 58.3h1.2M133.9 58.2h1.2M143.0 58.1h1.2M149.0 58.7h1.2M69.3 59.6h1.2M75.7 59.2h1.2M85.8 59.2h1.2M88.2 59.5h1.2M112.8 59.7h1.2M118.2 59.5h1.2M128.8 59.8h1.2M129.5 59.6h1.2M143.2 59.4h1.2M156.9 59.9h1.2M160.9 59.8h1.2M67.6 60.5h1.2M71.0 60.3h1.2M71.9 60.5h1.2M81.0 60.1h1.2M85.2 60.1h1.2M85.7 60.8h1.2M88.3 60.9h1.2M105.7 60.7h1.2M118.9 60.7h1.2M123.2 60.3h1.2M129.2 60.5h1.2M133.6 60.1h1.2M140.1 60.3h1.2M43.2 61.8h1.2M76.7 61.8h1.2M82.1 61.7h1.2M86.2 61.7h1.2M92.2 61.2h1.2M102.7 61.3h1.2M107.1 61.4h1.2M110.8 61.3h1.2M113.6 61.5h1.2M115.6 61.8h1.2M117.2 61.6h1.2M118.7 61.5h1.2M128.8 61.8h1.2M129.9 61.8h1.2M137.8 61.1h1.2M139.0 61.4h1.2M141.0 61.3h1.2M142.3 61.3h1.2M142.9 61.6h1.2M151.6 61.3h1.2M154.1 61.3h1.2M155.2 61.2h1.2M73.3 62.6h1.2M75.2 62.1h1.2M75.6 62.2h1.2M76.6 62.7h1.2M80.2 62.6h1.2M82.6 62.9h1.2M83.9 62.7h1.2M88.3 62.1h1.2M88.9 62.6h1.2M91.1 62.8h1.2M117.2 62.6h1.2M118.7 62.5h1.2M120.7 62.5h1.2M138.7 62.3h1.2M146.9 62.1h1.2M159.5 62.1h1.2M71.1 63.1h1.2M86.3 63.8h1.2M88.9 63.6h1.2M92.9 63.4h1.2M94.8 63.2h1.2M111.0 63.9h1.2M120.3 63.1h1.2M135.1 63.4h1.2M136.3 63.4h1.2M139.9 63.5h1.2M144.8 63.6h1.2M152.2 63.5h1.2M153.1 63.6h1.2M155.5 63.6h1.2M162.2 63.5h1.2M162.9 63.2h1.2M67.7 64.2h1.2M82.9 64.2h1.2M85.2 64.3h1.2M87.1 64.3h1.2M89.1 64.8h1.2M91.2 64.6h1.2M95.9 64.7h1.2M98.2 64.7h1.2M109.1 64.8h1.2M111.5 64.5h1.2M117.7 64.6h1.2M143.6 64.8h1.2M148.6 64.2h1.2M156.8 64.6h1.2M67.8 65.5h1.2M83.6 65.5h1.2M84.7 65.8h1.2M94.7 65.6h1.2M98.9 65.7h1.2M125.7 65.9h1.2M130.0 65.3h1.2M131.0 65.4h1.2M134.3 65.4h1.2M155.8 65.8h1.2M158.1 65.9h1.2M164.1 65.7h1.2M169.0 65.4h1.2M170.5 65.5h1.2M74.2 66.3h1.2M95.8 66.5h1.2M97.8 66.2h1.2M118.7 66.1h1.2M124.7 66.2h1.2M126.6 66.6h1.2M128.9 66.9h1.2M131.0 66.4h1.2M131.5 66.8h1.2M135.8 66.6h1.2M156.0 66.4h1.2M157.5 66.5h1.2M61.1 67.4h1.2M115.6 67.4h1.2M122.1 67.1h1.2M125.7 67.3h1.2M128.2 67.2h1.2M132.7 67.3h1.2M163.7 67.2h1.2M166.9 67.5h1.2M171.9 67.4h1.2M174.0 67.8h1.2M63.2 68.7h1.2M73.0 68.3h1.2M74.7 68.8h1.2M77.0 68.1h1.2M85.2 68.3h1.2M87.2 68.3h1.2M89.0 68.4h1.2M89.7 68.9h1.2M92.6 68.1h1.2M129.7 68.3h1.2M130.9 68.8h1.2M133.8 68.8h1.2M137.9 68.6h1.2M139.7 68.8h1.2M152.3 68.9h1.2M157.1 68.2h1.2M163.2 68.8h1.2M170.0 68.4h1.2M172.7 68.7h1.2M177.1 68.5h1.2M80.2 69.5h1.2M80.7 69.2h1.2M81.7 69.4h1.2M118.8 69.4h1.2M120.9 69.4h1.2M122.0 69.1h1.2M128.3 69.1h1.2M129.7 69.9h1.2M131.9 69.2h1.2M134.2 69.3h1.2M139.3 69.4h1.2M139.7 69.4h1.2M142.9 69.2h1.2M146.6 69.6h1.2M147.9 69.6h1.2M166.5 69.3h1.2M173.3 69.5h1.2M174.3 69.6h1.2M67.1 70.2h1.2M84.3 70.9h1.2M86.8 70.5h1.2M89.2 70.7h1.2M92.8 70.3h1.2M97.6 70.4h1.2M101.1 70.8h1.2M121.7 70.3h1.2M128.8 70.3h1.2M129.9 70.7h1.2M136.1 70.7h1.2M136.6 70.4h1.2M139.2 70.3h1.2M140.5 70.9h1.2M147.8 70.2h1.2M151.3 70.2h1.2M153.9 70.9h1.2M161.6 70.5h1.2M165.1 70.5h1.2M168.5 70.2h1.2M169.7 70.4h1.2M172.7 70.5h1.2M178.1 70.3h1.2M61.8 71.3h1.2M71.5 71.6h1.2M78.1 71.8h1.2M78.6 71.4h1.2M82.7 71.8h1.2M84.1 71.6h1.2M90.0 71.7h1.2M94.9 71.2h1.2M97.6 71.2h1.2M98.6 71.5h1.2M101.9 71.3h1.2M119.7 71.1h1.2M131.6 71.1h1.2M136.5 71.3h1.2M141.7 71.7h1.2M161.0 71.2h1.2M166.7 71.7h1.2M57.2 72.5h1.2M88.8 72.6h1.2M94.8 72.3h1.2M100.8 72.8h1.2M102.9 72.2h1.2M103.7 72.7h1.2M134.1 72.3h1.2M136.6 72.2h1.2M141.9 72.6h1.2M147.0 72.6h1.2M150.6 72.7h1.2M153.1 72.4h1.2M156.9 72.8h1.2M157.8 72.4h1.2M165.7 72.7h1.2M175.9 72.6h1.2M179.3 72.9h1.2M179.6 72.3h1.2M183.2 72.2h1.2M56.0 73.3h1.2M74.9 73.6h1.2M88.8 73.2h1.2M96.1 73.8h1.2M97.6 73.6h1.2M103.3 73.8h1.2M127.8 73.1h1.2M129.2 73.4h1.2M130.8 73.8h1.2M132.7 73.4h1.2M133.9 73.7h1.2M142.8 73.2h1.2M148.7 73.3h1.2M161.6 73.6h1.2M173.1 73.6h1.2M173.8 73.8h1.2M177.2 73.4h1.2M182.8 73.2h1.2M87.0 74.7h1.2M88.0 74.3h1.2M90.0 74.6h1.2M90.8 74.5h1.2M101.9 74.4h1.2M131.1 74.4h1.2M151.3 74.7h1.2M163.8 74.2h1.2M164.7 74.6h1.2M166.5 74.8h1.2M171.2 74.6h1.2M173.2 74.6h1.2M177.0 74.9h1.2M63.8 75.1h1.2M64.7 75.1h1.2M80.2 75.6h1.2M82.8 75.3h1.2M89.2 75.5h1.2M91.8 75.2h1.2M92.6 75.9h1.2M101.1 75.2h1.2M130.7 75.2h1.2M168.6 75.4h1.2M176.5 75.6h1.2M178.9 75.6h1.2M179.7 75.3h1.2M184.8 75.7h1.2M75.9 76.8h1.2M79.7 76.7h1.2M84.9 76.4h1.2M86.0 76.5h1.2M91.9 76.3h1.2M94.3 76.1h1.2M95.3 76.5h1.2M98.8 76.2h1.2M113.8 76.5h1.2M117.2 76.8h1.2M118.2 76.2h1.2M151.7 76.6h1.2M159.9 76.4h1.2M161.2 76.4h1.2M164.6 76.5h1.2M177.2 76.7h1.2M179.5 76.7h1.2M181.6 76.3h1.2M78.9 77.8h1.2M81.8 77.3h1.2M84.9 77.8h1.2M85.8 77.6h1.2M90.2 77.7h1.2M91.0 77.5h1.2M93.0 77.3h1.2M93.7 77.4h1.2M100.2 77.9h1.2M102.7 77.5h1.2M107.6 77.5h1.2M115.3 77.3h1.2M143.0 77.8h1.2M153.1 77.1h1.2M157.7 77.5h1.2M161.5 77.9h1.2M170.7 77.6h1.2M58.2 78.6h1.2M67.9 78.4h1.2M83.8 78.3h1.2M89.8 78.3h1.2M95.0 78.2h1.2M97.3 78.7h1.2M98.2 78.4h1.2M112.7 78.8h1.2M115.9 78.6h1.2M116.7 78.7h1.2M119.8 78.3h1.2M133.5 78.2h1.2M136.9 78.8h1.2M145.1 78.7h1.2M149.1 78.2h1.2M152.8 78.9h1.2M160.8 78.9h1.2M169.0 78.3h1.2M171.7 78.4h1.2M172.6 78.4h1.2M182.0 78.6h1.2M65.3 79.4h1.2M78.8 79.8h1.2M86.0 79.4h1.2M86.9 79.1h1.2M88.7 79.3h1.2M92.3 79.4h1.2M103.7 79.1h1.2M115.9 79.4h1.2M116.6 79.5h1.2M119.7 79.8h1.2M122.6 79.1h1.2M141.8 79.7h1.2M143.2 79.1h1.2M145.1 79.1h1.2M147.6 79.8h1.2M174.7 79.6h1.2M77.7 80.3h1.2M82.7 80.8h1.2M84.7 80.8h1.2M95.0 80.7h1.2M96.6 80.7h1.2M105.1 80.8h1.2M109.2 80.7h1.2M112.3 80.7h1.2M117.6 80.8h1.2M119.8 80.2h1.2M122.0 80.3h1.2M123.2 80.2h1.2M146.2 80.3h1.2M151.6 80.5h1.2M155.7 80.8h1.2M158.7 80.6h1.2M160.2 80.7h1.2M163.0 80.6h1.2M165.8 80.8h1.2M167.3 80.2h1.2M171.7 80.2h1.2M173.0 80.4h1.2M182.0 80.5h1.2M60.9 81.5h1.2M74.9 81.3h1.2M83.6 81.9h1.2M104.5 81.7h1.2M105.7 81.9h1.2M109.9 81.5h1.2M113.7 81.6h1.2M115.8 81.7h1.2M124.7 81.1h1.2M143.1 81.8h1.2M147.1 81.7h1.2M149.5 81.1h1.2M158.8 81.6h1.2M162.7 81.4h1.2M174.3 81.8h1.2M176.9 81.8h1.2M179.5 81.2h1.2M83.0 82.2h1.2M91.9 82.3h1.2M101.3 82.7h1.2M107.9 82.7h1.2M109.2 82.5h1.2M120.9 82.8h1.2M166.5 82.5h1.2M172.6 82.6h1.2M176.2 82.2h1.2M179.0 82.6h1.2M182.1 82.5h1.2M90.7 83.6h1.2M92.0 83.8h1.2M102.0 83.3h1.2M109.3 83.8h1.2M113.8 83.2h1.2M115.7 83.7h1.2M121.8 83.3h1.2M133.0 83.3h1.2M148.9 83.2h1.2M162.2 83.3h1.2M170.5 83.8h1.2M174.6 83.7h1.2M176.9 83.1h1.2M87.8 84.6h1.2M96.1 84.6h1.2M102.9 84.4h1.2M109.2 84.1h1.2M124.7 84.1h1.2M132.9 84.8h1.2M158.5 84.5h1.2M170.9 84.5h1.2M178.2 84.1h1.2M181.2 84.3h1.2M74.9 85.7h1.2M86.9 85.3h1.2M88.8 85.3h1.2M90.5 85.2h1.2M92.8 85.3h1.2M97.8 85.6h1.2M98.6 85.4h1.2M101.2 85.8h1.2M105.2 85.9h1.2M106.9 85.4h1.2M112.3 85.1h1.2M117.2 85.4h1.2M124.6 85.5h1.2M173.7 85.5h1.2M179.7 85.3h1.2M84.2 86.2h1.2M84.9 86.3h1.2M86.6 86.6h1.2M94.1 86.3h1.2M106.1 86.6h1.2M107.8 86.6h1.2M111.3 86.6h1.2M113.3 86.5h1.2M118.9 86.3h1.2M123.0 86.6h1.2M129.2 86.4h1.2M138.6 86.2h1.2M141.8 86.2h1.2M159.0 86.3h1.2M163.1 86.7h1.2M178.0 86.5h1.2M75.2 87.2h1.2M77.3 87.1h1.2M87.0 87.3h1.2M91.6 87.2h1.2M95.6 87.7h1.2M102.5 87.7h1.2M105.2 87.9h1.2M112.2 87.9h1.2M114.3 87.7h1.2M120.0 87.8h1.2M121.1 87.2h1.2M127.8 87.9h1.2M135.7 87.8h1.2M141.7 87.7h1.2M155.7 87.6h1.2M175.8 87.8h1.2M177.6 87.3h1.2M87.0 88.1h1.2M108.6 88.6h1.2M114.2 88.4h1.2M117.9 88.1h1.2M125.1 88.8h1.2M125.8 88.6h1.2M128.7 88.2h1.2M130.1 88.8h1.2M131.6 88.2h1.2M133.1 88.1h1.2M143.6 88.2h1.2M145.6 88.4h1.2M159.2 88.7h1.2M159.7 88.6h1.2M165.0 88.4h1.2M169.6 88.8h1.2M174.6 88.5h1.2M75.8 89.6h1.2M88.7 89.3h1.2M95.8 89.1h1.2M98.1 89.2h1.2M106.5 89.4h1.2M108.8 89.2h1.2M115.8 89.9h1.2M120.1 89.2h1.2M120.5 89.6h1.2M122.1 89.2h1.2M123.1 89.2h1.2M133.8 89.6h1.2M135.2 89.3h1.2M150.2 89.7h1.2M173.6 89.4h1.2M76.0 90.1h1.2M87.8 90.4h1.2M93.9 90.7h1.2M98.7 90.2h1.2M109.0 90.4h1.2M111.8 90.2h1.2M115.8 90.2h1.2M117.8 90.2h1.2M122.2 90.4h1.2M146.3 90.2h1.2M166.6 90.3h1.2M168.0 90.6h1.2M81.9 91.9h1.2M105.5 91.2h1.2M111.8 91.9h1.2M113.7 91.4h1.2M130.8 91.4h1.2M131.9 91.5h1.2M137.2 91.5h1.2M143.1 91.4h1.2M144.0 91.9h1.2M87.6 92.5h1.2M101.9 92.4h1.2M104.2 92.8h1.2M111.7 92.6h1.2M113.0 92.1h1.2M130.0 92.2h1.2M139.0 92.8h1.2M141.1 92.1h1.2M148.0 92.8h1.2M166.8 92.3h1.2M93.7 93.2h1.2M105.1 93.6h1.2M106.0 93.9h1.2M107.0 93.4h1.2M122.0 93.5h1.2M122.7 93.4h1.2M125.8 93.5h1.2M128.0 93.7h1.2M139.1 93.9h1.2M144.5 93.6h1.2M172.8 93.7h1.2M85.7 94.8h1.2M111.1 94.5h1.2M116.8 94.5h1.2M119.8 94.8h1.2M123.0 94.7h1.2M126.7 94.2h1.2M130.9 94.6h1.2M141.7 94.3h1.2M142.9 94.8h1.2M147.7 94.3h1.2M111.2 95.2h1.2M113.7 95.7h1.2M114.9 95.2h1.2M115.6 95.3h1.2M117.6 95.7h1.2M122.1 95.3h1.2M128.8 95.2h1.2M132.9 95.3h1.2M136.3 95.7h1.2M142.8 95.1h1.2M145.9 95.5h1.2M148.7 95.2h1.2M153.2 95.4h1.2M157.5 95.2h1.2M173.9 95.3h1.2M115.7 96.3h1.2M119.9 96.1h1.2M120.8 96.8h1.2M123.6 96.7h1.2M127.7 96.3h1.2M144.1 96.3h1.2M149.6 96.8h1.2M152.2 96.4h1.2M156.9 96.4h1.2M163.1 96.8h1.2M132.9 97.5h1.2M137.5 97.5h1.2M148.8 97.4h1.2M152.1 97.6h1.2M156.6 97.7h1.2M85.7 98.5h1.2M126.6 98.8h1.2M129.8 98.3h1.2M132.0 98.4h1.2M133.8 98.7h1.2M137.7 98.7h1.2M145.9 98.6h1.2M146.8 98.7h1.2M151.0 98.5h1.2M151.7 98.2h1.2M155.7 98.7h1.2M162.7 98.6h1.2M163.6 98.4h1.2M92.2 99.3h1.2M93.1 99.5h1.2M123.2 99.5h1.2M126.8 99.5h1.2M128.6 99.4h1.2M134.7 99.8h1.2M136.8 99.5h1.2M138.8 99.3h1.2M152.0 99.5h1.2M153.9 99.2h1.2M163.1 99.8h1.2M167.7 99.2h1.2M169.6 99.6h1.2M170.7 99.8h1.2M187.0 99.7h1.2M120.3 100.1h1.2M134.1 100.2h1.2M134.5 100.7h1.2M136.0 100.5h1.2M148.1 100.6h1.2M150.7 100.6h1.2M152.0 100.8h1.2M156.6 100.3h1.2M160.9 100.1h1.2M166.2 100.1h1.2M169.6 100.1h1.2M172.1 100.4h1.2M88.3 101.2h1.2M127.1 101.6h1.2M132.1 101.3h1.2M133.1 101.2h1.2M140.0 101.7h1.2M143.1 101.6h1.2M149.0 101.9h1.2M151.9 101.9h1.2M153.6 101.9h1.2M158.8 101.6h1.2M159.7 101.2h1.2M167.2 101.6h1.2M171.6 101.3h1.2M93.8 102.5h1.2M97.0 102.1h1.2M134.5 102.4h1.2M137.1 102.4h1.2M147.8 102.9h1.2M149.8 102.1h1.2M155.6 102.4h1.2M158.0 102.1h1.2M164.6 102.8h1.2M169.0 102.2h1.2M176.7 102.2h1.2M89.8 103.8h1.2M102.1 103.8h1.2M130.2 103.5h1.2M153.2 103.7h1.2M154.9 103.6h1.2M157.1 103.5h1.2M157.5 103.9h1.2M161.7 103.1h1.2M170.7 103.7h1.2M172.7 103.5h1.2M133.2 104.4h1.2M144.1 104.4h1.2M144.8 104.6h1.2M146.0 104.8h1.2M147.8 104.1h1.2M160.9 104.7h1.2M163.1 104.9h1.2M171.2 104.8h1.2M172.9 104.2h1.2M91.6 105.7h1.2M103.0 105.5h1.2M109.8 105.6h1.2M112.3 105.3h1.2M134.7 105.4h1.2M142.9 105.1h1.2M153.1 105.3h1.2M161.2 105.2h1.2M170.9 105.2h1.2M171.8 105.8h1.2M92.0 106.8h1.2M114.2 106.6h1.2M135.8 106.4h1.2M137.6 106.3h1.2M140.7 106.7h1.2M158.6 106.9h1.2M171.6 106.2h1.2M180.9 106.7h1.2M137.5 107.7h1.2M139.2 107.8h1.2M144.6 107.6h1.2M145.7 107.6h1.2M154.2 107.4h1.2M138.9 108.6h1.2M144.9 108.3h1.2M151.3 108.2h1.2M155.0 108.7h1.2M162.2 108.2h1.2M165.1 108.7h1.2M138.6 109.3h1.2M141.1 109.1h1.2M156.3 109.3h1.2M164.2 109.7h1.2M170.7 109.7h1.2M172.2 109.8h1.2M182.7 109.5h1.2M198.1 109.7h1.2M142.6 110.6h1.2M146.9 110.2h1.2M153.6 110.2h1.2M164.1 110.7h1.2M168.3 110.5h1.2M169.2 110.3h1.2M170.2 110.3h1.2M171.0 110.6h1.2M174.1 110.8h1.2M195.2 110.2h1.2M144.5 111.8h1.2M153.0 111.2h1.2M154.6 111.8h1.2M158.1 111.2h1.2M160.6 111.7h1.2M168.5 111.5h1.2M171.9 111.5h1.2M201.8 111.8h1.2M111.8 112.9h1.2M148.9 112.1h1.2M152.6 112.9h1.2M156.1 112.4h1.2M163.7 112.6h1.2M171.8 112.7h1.2M177.0 112.1h1.2M188.0 112.9h1.2M115.7 113.6h1.2M118.2 113.3h1.2M119.1 113.6h1.2M151.7 113.8h1.2M158.2 113.2h1.2M161.7 113.9h1.2M164.2 113.3h1.2M168.5 113.3h1.2M119.0 114.2h1.2M121.0 114.4h1.2M157.0 114.3h1.2M163.6 114.2h1.2M168.9 114.3h1.2M173.1 114.8h1.2M195.1 114.4h1.2M156.2 115.8h1.2M164.2 115.7h1.2M170.7 115.5h1.2M172.2 115.6h1.2M179.9 115.2h1.2M167.0 116.6h1.2M158.6 117.6h1.2M161.0 117.1h1.2M162.7 117.7h1.2M167.0 117.4h1.2M169.2 117.7h1.2M117.1 118.1h1.2M149.8 118.2h1.2M164.8 118.2h1.2M167.7 118.5h1.2M155.9 119.2h1.2M161.7 119.3h1.2M167.0 119.3h1.2M170.8 119.3h1.2M172.1 119.2h1.2M189.8 119.5h1.2M168.1 120.5h1.2M171.6 120.8h1.2M185.2 120.5h1.2M150.2 121.9h1.2M169.0 121.6h1.2M101.1 122.3h1.2M120.5 123.6h1.2M122.7 123.4h1.2M156.0 123.6h1.2M171.9 123.4h1.2M123.1 124.9h1.2M176.1 125.3h1.2M112.0 127.6h1.2M163.1 128.3h1.2M178.0 128.6h1.2M117.5 129.1h1.2M118.6 129.3h1.2M186.0 129.2h1.2M145.2 130.8h1.2M160.2 130.7h1.2M149.1 132.2h1.2M179.8 132.5h1.2M109.2 133.4h1.2M178.1 134.7h1.2M156.0 138.6h1.2M193.0 138.3h1.2M168.8 139.7h1.2M185.1 140.4h1.2M171.2 141.3h1.2M123.0 142.4h1.2M194.1 146.7h1.2M158.9 147.2h1.2M197.7 148.5h1.2M168.0 150.5h1.2M207.8 151.7h1.2M176.3 157.7h1.2" stroke="#0000af" stroke-width="1.2" fill="none"/>
<path d="M103.1 9.6h1.2M63.6 10.8h1.2M96.8 10.4h1.2M108.2 11.4h1.2M67.0 12.5h1.2M100.0 13.3h1.2M65.7 15.3h1.2M102.5 15.7h1.2M103.8 17.8h1.2M112.6 17.5h1.2M67.0 18.8h1.2M84.2 19.5h1.2M89.3 20.4h1.2M119.0 21.4h1.2M79.5 23.1h1.2M100.0 23.6h1.2M112.0 23.3h1.2M53.3 24.5h1.2M63.8 24.3h1.2M95.8 25.5h1.2M63.1 26.2h1.2M64.5 26.6h1.2M114.9 26.3h1.2M63.0 27.5h1.2M101.8 27.9h1.2M103.0 27.7h1.2M70.2 28.7h1.2M123.3 28.8h1.2M67.6 29.2h1.2M126.2 31.2h1.2M70.0 32.3h1.2M126.1 33.9h1.2M83.3 34.5h1.2M93.0 34.4h1.2M99.0 34.5h1.2M104.0 34.1h1.2M89.8 35.7h1.2M98.9 35.5h1.2M68.3 36.2h1.2M105.3 36.1h1.2M107.8 36.5h1.2M109.7 36.1h1.2M134.1 37.4h1.2M136.3 37.3h1.2M89.7 38.7h1.2M107.2 38.4h1.2M140.1 38.7h1.2M141.5 38.6h1.2M122.2 39.4h1.2M132.6 39.5h1.2M65.5 40.4h1.2M70.7 40.8h1.2M127.3 40.6h1.2M129.6 40.7h1.2M66.5 41.8h1.2M113.0 41.2h1.2M140.6 41.8h1.2M68.0 42.2h1.2M69.6 42.3h1.2M83.8 42.5h1.2M105.8 42.2h1.2M118.7 42.4h1.2M61.0 43.8h1.2M91.7 43.5h1.2M101.0 43.6h1.2M111.6 43.1h1.2M103.1 44.4h1.2M109.6 44.2h1.2M115.1 44.2h1.2M89.1 45.8h1.2M102.1 45.5h1.2M113.8 45.5h1.2M130.8 45.9h1.2M135.3 45.8h1.2M88.9 46.5h1.2M161.1 46.8h1.2M63.7 48.9h1.2M90.5 48.7h1.2M92.1 48.1h1.2M125.9 48.4h1.2M127.1 48.2h1.2M146.5 48.3h1.2M159.2 48.3h1.2M159.6 48.2h1.2M52.6 49.1h1.2M59.8 49.3h1.2M70.6 49.5h1.2M128.1 49.2h1.2M157.2 49.7h1.2M50.6 50.1h1.2M60.6 50.5h1.2M110.5 50.3h1.2M159.6 50.9h1.2M60.9 51.5h1.2M65.0 51.8h1.2M110.0 51.2h1.2M116.1 51.9h1.2M121.8 51.4h1.2M128.9 52.7h1.2M149.0 52.8h1.2M97.1 53.8h1.2M133.7 54.2h1.2M138.1 54.4h1.2M126.9 55.3h1.2M170.5 55.7h1.2M111.0 56.2h1.2M135.6 56.7h1.2M144.9 57.6h1.2M112.9 58.4h1.2M100.5 59.4h1.2M130.6 59.5h1.2M162.8 59.4h1.2M115.1 60.2h1.2M103.6 61.1h1.2M135.5 61.7h1.2M124.7 62.1h1.2M67.8 63.4h1.2M81.8 63.7h1.2M83.8 63.3h1.2M136.7 63.5h1.2M108.2 64.3h1.2M110.8 65.2h1.2M97.2 66.1h1.2M147.8 66.6h1.2M156.6 66.7h1.2M162.2 66.3h1.2M177.1 66.9h1.2M91.0 67.8h1.2M156.2 67.7h1.2M188.8 67.8h1.2M82.1 68.3h1.2M123.9 68.4h1.2M149.9 68.4h1.2M66.0 69.4h1.2M180.7 69.9h1.2M185.1 69.2h1.2M91.9 70.1h1.2M127.1 70.7h1.2M144.2 70.9h1.2M164.9 71.1h1.2M169.9 71.6h1.2M56.0 72.6h1.2M127.0 72.9h1.2M135.6 72.4h1.2M153.9 72.4h1.2M168.7 72.5h1.2M169.0 73.5h1.2M104.5 74.2h1.2M156.1 74.6h1.2M159.8 74.5h1.2M171.9 74.6h1.2M103.8 75.1h1.2M65.2 76.6h1.2M87.7 76.8h1.2M164.0 76.7h1.2M176.2 76.1h1.2M155.1 77.6h1.2M82.9 78.6h1.2M154.6 78.2h1.2M163.2 78.4h1.2M181.0 78.6h1.2M163.6 80.9h1.2M171.2 80.1h1.2M150.6 81.2h1.2M162.2 81.6h1.2M109.7 83.3h1.2M155.5 83.5h1.2M169.9 83.8h1.2M183.6 83.7h1.2M114.7 85.8h1.2M160.9 85.7h1.2M180.7 85.5h1.2M83.0 86.7h1.2M118.3 86.8h1.2M135.1 86.9h1.2M161.8 86.3h1.2M169.7 86.8h1.2M176.2 86.1h1.2M109.9 87.7h1.2M115.0 88.4h1.2M126.6 88.6h1.2M99.8 89.7h1.2M125.2 89.6h1.2M144.1 90.8h1.2M172.9 90.2h1.2M151.0 95.6h1.2M145.5 96.3h1.2M160.2 97.4h1.2M81.7 98.5h1.2M149.2 98.9h1.2M148.5 99.3h1.2M156.2 99.1h1.2M122.1 100.7h1.2M139.9 100.9h1.2M91.1 103.8h1.2M136.2 104.2h1.2M130.0 112.2h1.2M170.1 115.4h1.2M164.9 116.4h1.2M152.0 146.5h1.2" stroke="#0000cf" stroke-width="1.2" fill="none"/>
<path d="M55.0 9.3h1.2M108.1 9.2h1.2M115.1 13.1h1.2M112.9 14.7h1.2M114.7 14.6h1.2M116.1 15.6h1.2M89.6 16.5h1.2M95.5 16.1h1.2M112.5 16.8h1.2M110.5 17.8h1.2M90.1 18.5h1.2M96.0 18.3h1.2M117.0 18.5h1.2M122.8 19.1h1.2M102.6 20.6h1.2M106.6 21.3h1.2M53.8 22.1h1.2M62.2 22.6h1.2M66.9 22.6h1.2M119.7 22.7h1.2M65.1 24.9h1.2M68.6 24.3h1.2M81.9 24.4h1.2M100.6 24.9h1.2M111.8 24.3h1.2M118.2 24.9h1.2M101.1 25.7h1.2M54.3 26.9h1.2M66.6 26.2h1.2M67.9 27.3h1.2M128.1 27.8h1.2M63.7 28.8h1.2M110.3 28.2h1.2M54.2 29.7h1.2M123.8 29.6h1.2M67.8 30.2h1.2M52.7 31.2h1.2M107.8 31.3h1.2M122.2 31.5h1.2M58.7 32.9h1.2M119.2 32.2h1.2M129.5 32.3h1.2M131.6 32.5h1.2M112.0 33.2h1.2M123.8 33.5h1.2M51.2 35.2h1.2M67.9 35.6h1.2M68.9 35.9h1.2M92.6 35.3h1.2M53.0 36.2h1.2M54.6 36.2h1.2M88.1 36.2h1.2M93.0 36.3h1.2M67.7 37.2h1.2M119.5 37.9h1.2M126.9 37.8h1.2M97.0 40.7h1.2M116.9 40.4h1.2M134.7 40.4h1.2M66.2 41.2h1.2M126.0 41.5h1.2M66.9 42.5h1.2M71.9 42.5h1.2M127.9 42.1h1.2M127.2 44.6h1.2M52.9 45.4h1.2M119.6 47.3h1.2M105.1 48.8h1.2M147.2 49.3h1.2M53.0 50.5h1.2M55.2 50.7h1.2M147.5 50.5h1.2M157.6 50.6h1.2M146.3 51.3h1.2M155.8 52.5h1.2M165.6 53.7h1.2M147.8 54.8h1.2M162.9 55.6h1.2M174.7 55.8h1.2M174.8 58.2h1.2M177.8 59.8h1.2M171.2 63.3h1.2M187.3 66.5h1.2" stroke="#0000ef" stroke-width="1.2" fill="none"/>
<path d="M109.1 13.6h1.2M101.2 15.7h1.2M101.7 15.6h1.2M93.9 16.4h1.2M108.9 18.8h1.2M114.7 18.8h1.2M98.6 19.7h1.2M102.6 19.6h1.2M115.2 19.1h1.2M95.7 20.5h1.2M109.0 20.8h1.2M99.3 21.5h1.2M100.2 21.8h1.2M117.7 25.5h1.2M118.7 26.4h1.2M111.9 28.1h1.2M67.2 31.6h1.2M109.2 31.9h1.2M108.7 32.7h1.2M111.2 35.6h1.2M136.9 36.8h1.2M119.9 38.4h1.2M151.6 41.8h1.2M146.0 42.2h1.2M129.8 45.3h1.2M140.6 45.2h1.2M151.6 45.6h1.2M152.8 46.9h1.2M165.2 48.9h1.2M58.9 50.7h1.2M142.3 50.7h1.2M156.6 50.2h1.2M154.6 52.7h1.2M158.7 52.6h1.2M153.8 53.5h1.2M147.2 54.4h1.2M157.5 54.6h1.2M170.6 54.1h1.2M175.8 57.4h1.2M140.1 58.5h1.2M170.9 58.6h1.2M171.0 62.4h1.2M172.2 63.6h1.2" stroke="#000fff" stroke-width="1.2" fill="none"/>
<path d="M109.9 10.3h1.2M103.6 11.8h1.2M105.8 15.3h1.2M99.9 16.2h1.2M97.1 17.3h1.2M96.8 19.8h1.2M95.7 21.9h1.2M96.6 23.5h1.2M124.2 25.9h1.2M96.3 26.5h1.2M97.5 26.3h1.2M121.8 26.4h1.2M117.5 27.9h1.2M118.9 30.9h1.2M102.6 31.8h1.2M119.5 33.4h1.2M122.7 37.2h1.2M112.8 40.3h1.2M114.8 41.8h1.2M127.5 41.6h1.2M128.8 42.4h1.2M134.0 43.9h1.2M131.7 44.4h1.2M135.6 45.3h1.2M153.2 45.5h1.2M68.0 51.3h1.2M158.9 54.8h1.2M157.6 57.2h1.2M187.3 71.5h1.2" stroke="#002fff" stroke-width="1.2" fill="none"/>
<path d="M70.3 38.5h1.2" stroke="#004fff" stroke-width="1.2" fill="none"/>
<path d="M67.2 14.1h1.2M66.8 25.3h1.2" stroke="#006fff" stroke-width="1.2" fill="none"/>
<path d="M101.6 8.4h1.2M60.5 12.8h1.2M111.9 13.4h1.2M62.0 15.5h1.2M88.8 15.9h1.2M97.1 15.4h1.2M89.1 16.1h1.2M112.1 19.4h1.2M113.8 20.6h1.2M60.9 21.2h1.2M105.7 22.7h1.2M119.2 24.1h1.2M99.0 26.3h1.2M115.3 27.4h1.2M114.0 28.7h1.2M65.6 36.5h1.2M63.9 37.5h1.2M123.3 39.6h1.2M56.1 43.5h1.2M123.1 43.3h1.2M141.9 44.2h1.2M157.7 45.2h1.2M130.2 46.7h1.2M147.8 46.6h1.2M158.9 46.4h1.2M56.9 50.6h1.2M70.9 52.8h1.2M180.9 63.7h1.2M188.2 66.3h1.2M181.6 68.7h1.2M185.7 69.7h1.2M186.1 70.4h1.2" stroke="#008fff" stroke-width="1.2" fill="none"/>
<path d="M99.1 9.9h1.2M103.3 10.4h1.2M105.7 13.5h1.2M97.1 18.7h1.2M68.8 22.8h1.2M102.7 23.3h1.2M115.7 23.2h1.2M99.2 25.6h1.2M127.8 25.8h1.2M126.7 28.6h1.2M130.9 29.3h1.2M101.7 30.2h1.2M110.6 30.6h1.2M133.2 30.4h1.2M111.6 31.1h1.2M70.7 34.8h1.2M128.2 34.9h1.2M131.7 35.5h1.2M136.2 35.2h1.2M121.6 36.2h1.2M131.9 36.2h1.2M124.6 37.8h1.2M133.2 40.6h1.2M55.9 42.1h1.2M71.0 44.5h1.2M122.2 44.7h1.2M152.3 44.5h1.2M154.7 46.7h1.2M130.9 47.8h1.2M138.6 48.8h1.2M70.3 51.7h1.2M141.8 52.5h1.2M143.0 52.5h1.2M157.5 56.6h1.2M176.2 56.7h1.2M182.5 61.2h1.2M189.0 68.3h1.2" stroke="#00afff" stroke-width="1.2" fill="none"/>
<path d="M103.2 8.6h1.2M94.2 10.7h1.2M95.9 11.4h1.2M109.3 11.8h1.2M88.6 12.6h1.2M49.5 13.2h1.2M106.6 13.8h1.2M87.7 17.8h1.2M99.1 18.7h1.2M119.7 19.5h1.2M95.2 22.6h1.2M112.5 22.2h1.2M103.8 26.8h1.2M129.1 27.3h1.2M127.1 29.4h1.2M127.5 32.4h1.2M105.0 33.5h1.2M109.6 33.2h1.2M114.9 37.3h1.2M127.9 37.6h1.2M125.1 41.7h1.2M120.6 42.7h1.2M123.3 44.1h1.2M128.2 44.7h1.2M144.6 44.4h1.2M153.8 46.2h1.2M155.7 46.9h1.2M156.0 53.3h1.2M169.3 54.3h1.2M160.0 56.6h1.2M164.5 58.2h1.2M175.9 58.4h1.2M167.3 59.2h1.2M174.7 64.1h1.2" stroke="#00cfff" stroke-width="1.2" fill="none"/>
<path d="M86.9 11.7h1.2M90.2 15.3h1.2M117.2 17.8h1.2M93.6 22.4h1.2M106.0 25.7h1.2M66.1 30.3h1.2M105.3 30.7h1.2M66.9 32.8h1.2M117.0 33.7h1.2M121.2 33.3h1.2M124.8 33.6h1.2M67.6 34.2h1.2M105.7 35.3h1.2M147.3 38.5h1.2M119.8 39.2h1.2M139.7 39.9h1.2M123.2 40.8h1.2M131.0 40.5h1.2M134.8 41.4h1.2M61.7 43.6h1.2M151.0 46.3h1.2M151.6 51.2h1.2M180.0 64.7h1.2M181.6 65.6h1.2" stroke="#00efff" stroke-width="1.2" fill="none"/>
<path d="M92.7 11.8h1.2M98.6 11.4h1.2M99.7 11.8h1.2M101.1 11.2h1.2M116.2 12.8h1.2M116.8 15.4h1.2M111.6 16.5h1.2M125.7 23.5h1.2M106.8 24.1h1.2M125.1 24.3h1.2M121.8 27.8h1.2M131.2 28.8h1.2M127.7 30.3h1.2M130.1 35.1h1.2M142.6 36.4h1.2M126.9 38.3h1.2M124.0 43.7h1.2M139.6 43.8h1.2M162.9 53.8h1.2M165.1 60.9h1.2M173.6 60.3h1.2M186.5 67.1h1.2" stroke="#0fffef" stroke-width="1.2" fill="none"/>
<path d="M92.0 23.1h1.2M103.9 32.7h1.2M115.0 34.5h1.2M131.0 35.3h1.2M146.7 50.6h1.2M157.9 53.5h1.2M160.7 53.7h1.2M173.3 60.3h1.2" stroke="#2fffcf" stroke-width="1.2" fill="none"/>
<path d="M408.7 12.4h1.2M468.3 55.3h1.2M372.9 60.1h1.2M380.2 62.3h1.2M349.7 63.5h1.2M358.5 63.4h1.2M366.0 64.2h1.2M376.4 65.3h1.2M381.9 65.8h1.2M353.7 67.7h1.2M385.9 67.5h1.2M372.6 72.1h1.2M385.5 72.3h1.2M392.5 72.9h1.2M348.2 73.1h1.2M361.9 79.6h1.2M385.7 79.1h1.2M412.7 80.3h1.2M369.4 83.2h1.2M435.8 83.3h1.2M365.6 85.7h1.2M355.4 87.5h1.2M428.4 91.1h1.2M433.8 91.4h1.2M432.8 92.5h1.2M498.4 92.9h1.2M418.7 93.7h1.2M492.3 96.4h1.2M397.6 97.3h1.2M372.4 98.5h1.2M447.4 101.3h1.2M451.4 101.5h1.2M415.3 104.7h1.2M434.7 105.2h1.2M451.9 105.2h1.2M473.5 105.7h1.2M443.5 110.1h1.2M480.3 114.7h1.2M398.5 115.6h1.2M425.7 115.1h1.2M461.9 120.3h1.2M413.8 124.9h1.2M398.8 127.1h1.2M408.2 129.1h1.2M454.7 130.4h1.2M456.4 131.2h1.2M413.7 142.4h1.2M489.3 149.5h1.2M458.7 150.5h1.2M472.7 150.5h1.2M469.7 155.9h1.2" stroke="#00008f" stroke-width="1.2" fill="none"/>
<path d="M411.7 15.6h1.2M335.7 32.2h1.2M459.8 50.9h1.2M368.7 57.5h1.2M373.5 59.4h1.2M359.7 60.8h1.2M366.7 60.8h1.2M375.9 60.1h1.2M377.5 61.6h1.2M382.2 62.8h1.2M372.5 63.7h1.2M345.2 65.5h1.2M371.8 65.9h1.2M377.7 65.7h1.2M381.3 68.4h1.2M390.4 69.5h1.2M352.4 70.8h1.2M370.9 70.6h1.2M375.8 70.2h1.2M381.4 70.3h1.2M394.7 70.6h1.2M368.6 72.3h1.2M403.0 75.4h1.2M374.4 76.4h1.2M353.7 77.7h1.2M379.3 77.6h1.2M381.7 77.5h1.2M390.9 77.9h1.2M348.9 78.6h1.2M369.8 78.8h1.2M408.8 78.4h1.2M396.4 80.1h1.2M400.8 82.1h1.2M478.4 82.3h1.2M387.6 84.8h1.2M371.7 85.4h1.2M377.6 85.3h1.2M387.9 85.7h1.2M424.4 85.3h1.2M395.2 86.8h1.2M384.6 87.2h1.2M414.6 87.7h1.2M420.8 87.8h1.2M401.6 88.1h1.2M404.9 88.4h1.2M423.8 88.1h1.2M381.5 89.8h1.2M389.7 89.7h1.2M389.4 90.2h1.2M408.5 90.2h1.2M423.5 90.2h1.2M430.3 90.3h1.2M372.6 91.9h1.2M429.7 91.3h1.2M396.4 92.8h1.2M397.2 92.1h1.2M403.7 92.1h1.2M384.4 93.2h1.2M376.4 94.8h1.2M433.6 94.8h1.2M437.0 94.6h1.2M439.4 94.5h1.2M407.5 95.4h1.2M414.4 95.2h1.2M403.8 96.2h1.2M430.4 96.3h1.2M421.7 98.6h1.2M437.5 98.7h1.2M448.9 98.5h1.2M382.9 99.3h1.2M425.4 99.8h1.2M440.6 99.4h1.2M460.3 99.6h1.2M431.5 100.3h1.2M449.5 100.8h1.2M417.8 101.6h1.2M426.3 101.1h1.2M435.4 101.7h1.2M389.2 103.4h1.2M433.5 103.2h1.2M442.5 103.6h1.2M435.5 104.6h1.2M438.5 104.1h1.2M458.9 104.7h1.2M401.5 105.8h1.2M426.9 105.8h1.2M471.6 106.7h1.2M478.9 106.6h1.2M384.9 107.6h1.2M435.3 107.6h1.2M429.3 109.3h1.2M431.8 109.1h1.2M488.8 109.7h1.2M435.2 111.8h1.2M438.4 111.7h1.2M461.3 113.4h1.2M464.7 113.5h1.2M480.5 113.5h1.2M409.7 114.2h1.2M416.6 114.4h1.2M447.7 114.3h1.2M485.8 114.4h1.2M440.3 115.6h1.2M439.4 117.3h1.2M452.3 117.9h1.2M384.9 118.3h1.2M386.9 118.8h1.2M458.8 120.5h1.2M444.6 121.7h1.2M463.3 121.5h1.2M392.8 123.2h1.2M446.7 123.6h1.2M421.9 125.5h1.2M493.3 126.3h1.2M423.7 128.7h1.2M432.4 128.6h1.2M435.4 129.7h1.2M450.9 130.7h1.2M453.9 133.8h1.2M427.8 137.2h1.2M463.3 143.5h1.2M439.3 144.6h1.2M494.7 144.4h1.2M411.5 145.4h1.2M467.0 157.7h1.2" stroke="#0000af" stroke-width="1.2" fill="none"/>
<path d="M412.9 14.3h1.2M370.6 22.2h1.2M422.3 25.7h1.2M373.5 26.6h1.2M375.5 26.4h1.2M375.9 30.4h1.2M383.7 33.6h1.2M393.4 33.2h1.2M394.7 34.1h1.2M381.8 36.5h1.2M382.4 37.2h1.2M388.3 37.3h1.2M389.5 39.3h1.2M378.6 40.9h1.2M445.9 40.6h1.2M391.5 41.8h1.2M393.2 41.4h1.2M390.9 43.3h1.2M409.3 44.3h1.2M411.6 44.3h1.2M389.5 46.4h1.2M392.0 46.6h1.2M396.3 47.3h1.2M417.7 47.3h1.2M411.4 48.8h1.2M415.8 48.6h1.2M417.8 48.2h1.2M413.8 49.2h1.2M401.2 50.3h1.2M418.8 50.6h1.2M390.6 51.8h1.2M411.3 51.6h1.2M403.3 52.6h1.2M417.6 52.8h1.2M403.3 53.6h1.2M423.4 53.3h1.2M425.5 53.4h1.2M388.2 55.3h1.2M397.2 55.8h1.2M385.7 56.2h1.2M408.7 56.5h1.2M395.7 57.8h1.2M374.7 58.6h1.2M378.7 58.2h1.2M389.3 58.7h1.2M443.3 58.4h1.2M380.4 59.9h1.2M416.7 59.3h1.2M423.8 59.5h1.2M427.4 59.6h1.2M364.0 60.3h1.2M370.7 60.8h1.2M373.6 60.9h1.2M433.2 60.6h1.2M364.8 61.4h1.2M369.2 61.8h1.2M372.8 61.7h1.2M397.8 61.4h1.2M401.5 61.3h1.2M409.4 61.5h1.2M419.5 61.8h1.2M364.9 62.2h1.2M374.6 62.7h1.2M394.6 62.8h1.2M406.4 62.1h1.2M412.8 62.7h1.2M354.3 63.3h1.2M361.8 63.1h1.2M363.5 63.7h1.2M375.6 63.7h1.2M401.7 63.9h1.2M428.2 63.5h1.2M443.8 63.6h1.2M378.3 64.3h1.2M421.6 64.2h1.2M362.5 65.4h1.2M366.3 65.9h1.2M387.9 65.7h1.2M414.3 65.2h1.2M425.0 65.4h1.2M346.5 66.7h1.2M373.3 66.7h1.2M401.0 66.6h1.2M407.5 66.5h1.2M425.8 66.7h1.2M364.9 67.3h1.2M389.0 67.2h1.2M412.8 67.1h1.2M416.4 67.3h1.2M448.3 67.3h1.2M372.8 68.3h1.2M452.5 68.2h1.2M456.7 68.8h1.2M391.4 69.4h1.2M405.7 69.3h1.2M411.6 69.4h1.2M455.0 69.8h1.2M368.6 70.7h1.2M397.9 70.4h1.2M425.6 70.7h1.2M369.3 71.4h1.2M392.6 71.3h1.2M420.4 71.2h1.2M469.4 71.2h1.2M346.7 72.6h1.2M367.3 72.6h1.2M378.8 72.2h1.2M437.7 72.6h1.2M442.9 72.5h1.2M375.9 73.7h1.2M419.9 73.4h1.2M425.8 73.8h1.2M356.4 74.2h1.2M381.5 74.5h1.2M383.5 74.4h1.2M385.3 74.3h1.2M394.4 74.8h1.2M425.9 74.8h1.2M456.4 74.1h1.2M460.5 74.9h1.2M463.9 74.6h1.2M376.9 75.1h1.2M394.5 75.1h1.2M462.6 75.6h1.2M463.7 75.6h1.2M354.4 76.6h1.2M363.3 76.6h1.2M378.4 76.8h1.2M439.7 76.1h1.2M465.8 76.2h1.2M374.2 77.8h1.2M378.4 77.4h1.2M384.4 77.4h1.2M470.9 77.5h1.2M370.5 78.2h1.2M381.9 78.2h1.2M383.4 78.8h1.2M446.9 78.8h1.2M362.9 79.6h1.2M379.4 79.3h1.2M381.5 79.9h1.2M396.5 79.7h1.2M401.4 79.5h1.2M402.4 79.3h1.2M465.4 79.6h1.2M368.4 80.3h1.2M383.8 80.7h1.2M392.4 80.8h1.2M399.9 80.7h1.2M403.0 80.7h1.2M448.6 80.4h1.2M454.3 80.9h1.2M463.7 80.4h1.2M465.4 80.2h1.2M374.3 81.9h1.2M386.8 81.9h1.2M402.3 81.8h1.2M406.5 81.7h1.2M437.8 81.7h1.2M443.5 81.8h1.2M374.3 82.6h1.2M386.9 82.7h1.2M446.6 82.9h1.2M353.7 83.3h1.2M391.5 83.7h1.2M392.7 83.3h1.2M411.5 83.7h1.2M453.7 83.7h1.2M461.2 83.8h1.2M470.5 83.6h1.2M473.8 83.7h1.2M415.4 84.1h1.2M449.2 84.5h1.2M454.4 84.6h1.2M462.9 84.7h1.2M364.3 85.4h1.2M426.9 85.9h1.2M402.0 86.6h1.2M415.5 86.2h1.2M417.0 86.6h1.2M449.7 86.3h1.2M465.6 86.8h1.2M474.4 86.6h1.2M381.9 87.8h1.2M452.8 87.1h1.2M394.6 88.6h1.2M395.3 88.4h1.2M398.2 88.7h1.2M400.5 88.4h1.2M411.9 88.2h1.2M463.4 88.7h1.2M361.8 89.3h1.2M379.4 89.3h1.2M386.5 89.1h1.2M402.5 89.6h1.2M406.5 89.9h1.2M422.0 89.3h1.2M431.6 89.8h1.2M434.7 89.7h1.2M455.6 89.4h1.2M378.5 90.4h1.2M398.8 90.9h1.2M431.9 90.6h1.2M380.0 91.6h1.2M398.8 91.1h1.2M435.8 91.7h1.2M458.6 91.9h1.2M370.8 92.7h1.2M418.7 92.2h1.2M420.7 92.2h1.2M426.3 92.6h1.2M429.7 92.8h1.2M396.7 93.9h1.2M401.8 93.3h1.2M435.0 93.6h1.2M463.5 93.7h1.2M372.0 94.5h1.2M377.3 94.6h1.2M407.5 94.5h1.2M413.7 94.7h1.2M416.3 94.7h1.2M418.9 94.7h1.2M420.2 94.5h1.2M448.4 94.2h1.2M403.2 95.8h1.2M413.3 95.7h1.2M419.5 95.2h1.2M433.5 95.1h1.2M479.3 95.6h1.2M411.5 96.8h1.2M424.5 96.4h1.2M427.6 96.6h1.2M445.5 96.7h1.2M429.3 97.4h1.2M438.8 97.7h1.2M449.6 97.2h1.2M453.8 97.7h1.2M409.9 98.9h1.2M412.5 98.1h1.2M418.9 98.6h1.2M425.3 98.8h1.2M441.7 98.5h1.2M456.9 98.7h1.2M457.7 99.2h1.2M377.8 100.2h1.2M425.2 100.7h1.2M426.7 100.5h1.2M430.6 100.9h1.2M450.2 100.4h1.2M454.9 100.2h1.2M379.0 101.2h1.2M422.8 101.3h1.2M452.7 101.4h1.2M457.9 101.6h1.2M370.7 102.6h1.2M414.5 102.2h1.2M430.4 102.8h1.2M434.2 102.3h1.2M452.7 102.9h1.2M453.7 102.8h1.2M424.2 103.4h1.2M425.5 103.9h1.2M441.6 103.5h1.2M444.5 103.4h1.2M450.6 103.6h1.2M451.6 103.1h1.2M463.4 103.5h1.2M422.6 104.8h1.2M450.6 104.4h1.2M393.7 105.5h1.2M439.5 105.4h1.2M440.3 105.7h1.2M426.5 106.4h1.2M426.0 107.4h1.2M439.6 107.8h1.2M461.3 107.6h1.2M455.6 109.6h1.2M461.0 109.7h1.2M433.3 110.6h1.2M437.6 110.2h1.2M448.5 110.4h1.2M455.5 110.1h1.2M485.9 110.2h1.2M400.4 112.9h1.2M445.3 112.5h1.2M446.8 112.4h1.2M462.8 113.8h1.2M449.7 114.1h1.2M416.4 115.5h1.2M419.4 115.8h1.2M457.3 115.2h1.2M429.7 116.5h1.2M447.8 116.9h1.2M454.2 117.4h1.2M407.8 118.1h1.2M455.0 118.7h1.2M452.4 119.3h1.2M454.5 119.2h1.2M457.7 119.3h1.2M460.7 119.8h1.2M388.6 120.8h1.2M442.3 120.6h1.2M457.9 121.4h1.2M391.8 122.3h1.2M442.5 122.3h1.2M411.2 123.6h1.2M391.8 125.1h1.2M397.2 127.5h1.2M467.5 127.3h1.2M452.4 128.7h1.2M468.7 128.6h1.2M421.2 130.7h1.2M434.6 130.7h1.2M455.2 131.7h1.2M471.8 132.4h1.2M468.8 134.7h1.2M455.6 135.7h1.2M468.9 135.4h1.2M480.7 135.8h1.2M471.7 137.6h1.2M429.3 138.6h1.2M459.5 139.7h1.2M476.2 156.6h1.2M449.7 158.9h1.2" stroke="#0000cf" stroke-width="1.2" fill="none"/>
<path d="M366.6 11.9h1.2M377.6 11.7h1.2M380.9 15.3h1.2M380.3 16.5h1.2M339.7 17.1h1.2M374.9 19.5h1.2M380.0 20.4h1.2M371.0 21.6h1.2M386.4 21.9h1.2M368.3 22.7h1.2M372.8 22.3h1.2M344.0 24.5h1.2M365.8 24.4h1.2M374.0 24.5h1.2M353.8 26.2h1.2M377.6 26.8h1.2M378.3 28.7h1.2M344.9 29.7h1.2M384.9 29.7h1.2M374.9 30.6h1.2M426.8 30.9h1.2M361.4 31.8h1.2M378.6 31.7h1.2M381.9 32.4h1.2M387.6 32.1h1.2M362.4 33.2h1.2M380.6 33.8h1.2M384.6 33.8h1.2M366.5 34.2h1.2M341.9 35.2h1.2M379.3 35.6h1.2M359.0 36.2h1.2M354.6 37.5h1.2M391.4 37.5h1.2M394.9 38.1h1.2M383.7 39.2h1.2M388.6 39.7h1.2M398.8 39.4h1.2M361.4 40.8h1.2M378.0 40.7h1.2M387.7 40.7h1.2M390.7 40.3h1.2M403.7 41.2h1.2M376.6 42.2h1.2M380.4 42.3h1.2M382.9 42.4h1.2M385.3 42.4h1.2M346.8 43.5h1.2M352.4 43.6h1.2M381.8 43.8h1.2M391.7 43.6h1.2M395.4 43.1h1.2M398.6 43.3h1.2M390.7 44.2h1.2M382.0 45.4h1.2M390.3 45.1h1.2M400.6 45.9h1.2M407.3 45.9h1.2M413.7 45.7h1.2M396.0 46.5h1.2M372.7 47.7h1.2M398.2 47.8h1.2M402.7 47.3h1.2M414.0 47.6h1.2M396.5 48.8h1.2M406.6 48.3h1.2M399.3 49.8h1.2M403.7 49.5h1.2M405.8 49.8h1.2M406.8 49.1h1.2M343.7 50.5h1.2M382.4 50.7h1.2M385.4 50.3h1.2M395.0 50.7h1.2M402.9 50.9h1.2M405.0 50.8h1.2M405.6 50.9h1.2M415.3 50.6h1.2M389.0 51.5h1.2M397.4 51.5h1.2M404.8 51.5h1.2M409.2 51.3h1.2M390.9 52.2h1.2M415.7 52.3h1.2M391.6 53.7h1.2M405.7 53.7h1.2M414.2 53.6h1.2M417.4 53.2h1.2M433.3 53.3h1.2M405.8 54.9h1.2M407.7 54.6h1.2M408.5 54.6h1.2M428.8 54.4h1.2M395.0 55.5h1.2M438.5 55.2h1.2M362.7 57.5h1.2M373.9 57.8h1.2M413.4 57.3h1.2M414.3 57.2h1.2M435.6 57.6h1.2M438.8 57.9h1.2M336.5 58.8h1.2M359.7 58.8h1.2M360.8 58.6h1.2M367.3 58.8h1.2M403.6 58.4h1.2M435.6 58.6h1.2M439.7 58.7h1.2M362.6 59.9h1.2M393.0 59.5h1.2M431.9 59.2h1.2M435.5 59.5h1.2M358.3 60.5h1.2M379.0 60.9h1.2M379.4 60.6h1.2M419.9 60.5h1.2M366.4 61.3h1.2M369.0 61.6h1.2M376.9 61.7h1.2M379.5 61.6h1.2M382.9 61.2h1.2M420.6 61.8h1.2M429.7 61.4h1.2M445.9 61.2h1.2M362.7 62.2h1.2M367.3 62.7h1.2M370.9 62.6h1.2M372.0 62.2h1.2M376.8 62.6h1.2M377.5 62.3h1.2M379.0 62.1h1.2M409.4 62.5h1.2M418.9 62.6h1.2M439.5 62.5h1.2M458.4 62.4h1.2M370.5 63.5h1.2M377.5 63.8h1.2M408.5 63.8h1.2M419.0 63.8h1.2M424.6 63.5h1.2M425.8 63.4h1.2M449.5 63.3h1.2M376.9 64.7h1.2M379.8 64.8h1.2M399.8 64.8h1.2M402.2 64.5h1.2M426.9 64.3h1.2M433.5 64.8h1.2M447.5 64.6h1.2M458.4 64.2h1.2M358.5 65.5h1.2M365.5 65.4h1.2M367.9 65.3h1.2M368.8 65.6h1.2M419.2 65.4h1.2M448.8 65.9h1.2M457.9 65.3h1.2M459.7 65.4h1.2M462.6 65.5h1.2M369.6 66.3h1.2M401.5 66.6h1.2M367.3 67.5h1.2M376.0 67.8h1.2M387.6 67.8h1.2M411.2 67.7h1.2M425.7 67.9h1.2M426.7 67.4h1.2M453.5 67.6h1.2M464.7 67.8h1.2M343.0 68.2h1.2M373.5 68.4h1.2M375.9 68.3h1.2M376.6 68.5h1.2M380.4 68.9h1.2M383.3 68.1h1.2M386.4 68.2h1.2M388.7 68.2h1.2M424.5 68.8h1.2M438.0 68.6h1.2M443.4 68.5h1.2M444.3 68.6h1.2M363.8 69.4h1.2M386.9 69.5h1.2M412.7 69.1h1.2M420.4 69.9h1.2M421.8 69.1h1.2M423.4 69.6h1.2M427.4 69.1h1.2M430.4 69.4h1.2M448.7 69.1h1.2M377.5 70.5h1.2M412.4 70.3h1.2M427.3 70.4h1.2M438.5 70.2h1.2M457.8 70.5h1.2M352.5 71.3h1.2M364.8 71.6h1.2M375.6 71.8h1.2M379.6 71.4h1.2M381.6 71.8h1.2M382.5 71.5h1.2M388.3 71.2h1.2M392.0 71.2h1.2M428.7 71.8h1.2M432.4 71.7h1.2M455.6 71.1h1.2M357.7 72.6h1.2M371.5 72.5h1.2M390.5 72.5h1.2M396.5 72.4h1.2M441.3 72.7h1.2M444.6 72.4h1.2M461.6 72.6h1.2M473.9 72.2h1.2M346.7 73.3h1.2M377.0 73.7h1.2M378.8 73.4h1.2M388.3 73.6h1.2M394.4 73.1h1.2M396.4 73.4h1.2M432.9 73.6h1.2M453.2 73.9h1.2M459.7 73.5h1.2M470.5 73.4h1.2M353.3 74.5h1.2M375.6 74.5h1.2M388.9 74.5h1.2M395.2 74.2h1.2M403.8 74.7h1.2M417.3 74.5h1.2M446.8 74.6h1.2M464.2 74.6h1.2M470.5 74.6h1.2M359.8 75.2h1.2M370.9 75.6h1.2M374.7 75.9h1.2M375.6 75.4h1.2M388.7 75.9h1.2M392.9 75.5h1.2M425.6 75.9h1.2M450.9 75.5h1.2M366.6 76.8h1.2M390.5 76.7h1.2M393.7 76.6h1.2M395.2 76.7h1.2M403.8 76.1h1.2M404.5 76.5h1.2M405.8 76.9h1.2M422.3 76.8h1.2M450.6 76.4h1.2M451.9 76.4h1.2M458.8 76.1h1.2M459.3 76.3h1.2M460.7 76.3h1.2M462.5 76.4h1.2M369.6 77.8h1.2M385.9 77.5h1.2M388.7 77.2h1.2M389.3 77.4h1.2M392.0 77.5h1.2M392.4 77.3h1.2M393.4 77.5h1.2M398.3 77.5h1.2M407.6 77.7h1.2M408.9 77.2h1.2M388.9 78.4h1.2M400.4 78.3h1.2M401.8 78.7h1.2M406.6 78.6h1.2M410.5 78.3h1.2M448.6 78.4h1.2M454.2 78.7h1.2M370.7 79.8h1.2M371.2 79.6h1.2M376.7 79.4h1.2M383.0 79.4h1.2M405.6 79.7h1.2M407.3 79.5h1.2M428.9 79.7h1.2M443.6 79.8h1.2M445.7 79.8h1.2M449.4 79.2h1.2M463.5 79.3h1.2M356.9 80.6h1.2M360.8 80.2h1.2M375.4 80.8h1.2M377.3 80.8h1.2M380.0 80.1h1.2M390.6 80.4h1.2M395.8 80.8h1.2M398.8 80.3h1.2M413.9 80.2h1.2M449.4 80.6h1.2M450.9 80.7h1.2M453.7 80.6h1.2M467.2 80.2h1.2M351.6 81.5h1.2M365.6 81.3h1.2M371.7 81.4h1.2M375.6 81.4h1.2M390.9 81.3h1.2M395.0 81.7h1.2M404.4 81.6h1.2M441.3 81.2h1.2M455.3 81.7h1.2M351.7 82.8h1.2M381.3 82.6h1.2M398.6 82.7h1.2M401.9 82.4h1.2M404.2 82.1h1.2M405.6 82.4h1.2M408.3 82.6h1.2M410.3 82.9h1.2M450.5 82.4h1.2M463.3 82.6h1.2M465.9 82.6h1.2M360.9 83.3h1.2M382.7 83.8h1.2M384.0 83.7h1.2M393.6 83.3h1.2M400.0 83.8h1.2M446.2 83.5h1.2M468.4 83.6h1.2M478.4 83.6h1.2M356.3 84.4h1.2M364.7 84.2h1.2M374.4 84.2h1.2M381.7 84.8h1.2M383.0 84.7h1.2M386.8 84.6h1.2M388.8 84.3h1.2M390.9 84.4h1.2M395.2 84.9h1.2M397.0 84.7h1.2M398.3 84.5h1.2M419.3 84.6h1.2M458.4 84.5h1.2M388.5 85.6h1.2M395.9 85.9h1.2M408.7 85.7h1.2M409.3 85.8h1.2M421.0 85.8h1.2M451.6 85.7h1.2M458.7 85.5h1.2M464.4 85.5h1.2M465.3 85.8h1.2M357.7 86.5h1.2M375.6 86.3h1.2M392.4 86.6h1.2M395.0 86.2h1.2M411.4 86.7h1.2M419.9 86.4h1.2M424.2 86.4h1.2M432.5 86.2h1.2M445.3 86.8h1.2M452.5 86.3h1.2M460.4 86.8h1.2M365.9 87.2h1.2M376.8 87.8h1.2M382.3 87.2h1.2M386.3 87.7h1.2M392.7 87.4h1.2M402.0 87.3h1.2M405.0 87.7h1.2M405.3 87.9h1.2M410.7 87.8h1.2M417.0 87.8h1.2M368.9 88.5h1.2M373.2 88.5h1.2M404.0 88.3h1.2M405.7 88.4h1.2M409.3 88.2h1.2M410.5 88.3h1.2M412.4 88.7h1.2M413.2 88.8h1.2M416.5 88.6h1.2M422.3 88.2h1.2M460.3 88.8h1.2M465.3 88.5h1.2M383.9 89.2h1.2M397.2 89.4h1.2M411.2 89.6h1.2M415.0 89.7h1.2M439.9 89.3h1.2M452.5 89.1h1.2M372.9 90.3h1.2M392.4 90.6h1.2M395.9 90.9h1.2M397.4 90.6h1.2M401.7 90.6h1.2M409.4 90.4h1.2M413.6 90.6h1.2M423.0 90.3h1.2M428.6 90.8h1.2M442.6 90.6h1.2M463.6 90.2h1.2M467.9 90.8h1.2M402.5 91.9h1.2M409.5 91.4h1.2M436.8 91.8h1.2M373.4 92.5h1.2M378.3 92.5h1.2M391.0 92.4h1.2M407.6 92.4h1.2M410.7 92.8h1.2M411.9 92.2h1.2M430.9 92.8h1.2M443.2 92.3h1.2M457.5 92.3h1.2M395.8 93.6h1.2M413.4 93.4h1.2M417.4 93.8h1.2M439.8 93.9h1.2M441.3 93.6h1.2M445.4 93.5h1.2M402.5 94.2h1.2M404.5 94.9h1.2M409.5 94.8h1.2M417.4 94.2h1.2M432.4 94.3h1.2M434.6 94.2h1.2M440.6 94.4h1.2M442.5 94.4h1.2M443.9 94.4h1.2M423.6 95.3h1.2M424.4 95.6h1.2M429.7 95.6h1.2M432.7 95.4h1.2M442.2 95.8h1.2M453.5 95.4h1.2M401.3 96.8h1.2M406.4 96.3h1.2M414.3 96.7h1.2M420.7 96.1h1.2M423.7 96.9h1.2M429.3 96.8h1.2M431.5 96.3h1.2M439.4 96.3h1.2M440.3 96.8h1.2M444.3 96.6h1.2M464.4 96.6h1.2M480.2 96.1h1.2M412.6 97.2h1.2M447.3 97.7h1.2M454.5 97.7h1.2M376.4 98.5h1.2M417.3 98.8h1.2M419.7 98.5h1.2M424.5 98.7h1.2M440.4 98.1h1.2M447.6 98.7h1.2M452.7 98.5h1.2M456.0 98.2h1.2M383.8 99.5h1.2M413.9 99.5h1.2M417.0 99.1h1.2M419.3 99.4h1.2M426.7 99.3h1.2M431.6 99.4h1.2M443.4 99.5h1.2M447.9 99.1h1.2M449.4 99.2h1.2M451.9 99.4h1.2M453.8 99.8h1.2M455.9 99.7h1.2M409.0 100.4h1.2M411.0 100.1h1.2M412.8 100.7h1.2M417.8 100.2h1.2M424.8 100.2h1.2M427.8 100.1h1.2M437.9 100.8h1.2M442.7 100.8h1.2M445.2 100.6h1.2M451.6 100.1h1.2M461.4 100.1h1.2M464.8 100.7h1.2M416.7 101.5h1.2M419.2 101.6h1.2M433.8 101.6h1.2M441.0 101.7h1.2M448.8 101.4h1.2M455.4 101.6h1.2M458.8 101.7h1.2M460.4 101.8h1.2M384.5 102.5h1.2M386.4 102.7h1.2M387.7 102.1h1.2M437.3 102.5h1.2M449.4 102.2h1.2M456.5 102.9h1.2M459.7 102.2h1.2M415.8 103.2h1.2M426.2 103.8h1.2M427.4 103.3h1.2M434.5 103.7h1.2M435.7 103.7h1.2M436.3 103.7h1.2M438.4 103.7h1.2M439.4 103.8h1.2M446.5 103.7h1.2M381.9 104.5h1.2M395.9 104.8h1.2M399.3 104.5h1.2M426.9 104.2h1.2M434.8 104.4h1.2M439.7 104.3h1.2M444.4 104.4h1.2M446.2 104.3h1.2M449.7 104.1h1.2M452.2 104.6h1.2M460.5 104.4h1.2M381.9 105.3h1.2M382.3 105.7h1.2M425.4 105.4h1.2M431.7 105.9h1.2M433.6 105.1h1.2M436.0 105.7h1.2M443.8 105.3h1.2M447.9 105.1h1.2M449.5 105.5h1.2M382.7 106.8h1.2M402.7 106.4h1.2M404.9 106.6h1.2M433.9 106.8h1.2M435.6 106.7h1.2M427.7 107.4h1.2M436.4 107.6h1.2M447.7 107.6h1.2M476.3 107.2h1.2M434.2 108.4h1.2M440.0 108.4h1.2M442.0 108.2h1.2M444.2 108.2h1.2M445.7 108.7h1.2M450.6 108.2h1.2M452.9 108.2h1.2M454.5 108.6h1.2M455.8 108.7h1.2M458.4 108.6h1.2M462.3 108.4h1.2M463.5 108.2h1.2M464.3 108.4h1.2M374.0 109.4h1.2M441.7 109.7h1.2M447.4 109.5h1.2M456.6 109.6h1.2M441.4 110.2h1.2M446.7 110.2h1.2M453.3 110.8h1.2M445.3 111.8h1.2M459.2 111.5h1.2M492.5 111.8h1.2M436.5 112.2h1.2M442.4 112.7h1.2M444.2 112.7h1.2M453.6 112.4h1.2M462.5 112.7h1.2M408.9 113.3h1.2M409.8 113.6h1.2M412.4 113.7h1.2M423.5 113.8h1.2M451.0 113.5h1.2M460.7 113.6h1.2M445.4 114.6h1.2M450.4 114.4h1.2M454.3 114.2h1.2M455.7 114.9h1.2M458.9 114.4h1.2M463.8 114.8h1.2M484.4 114.5h1.2M417.5 115.8h1.2M451.3 115.8h1.2M455.2 115.4h1.2M482.8 115.3h1.2M453.6 116.4h1.2M453.4 117.7h1.2M460.5 117.4h1.2M434.7 118.7h1.2M440.5 118.2h1.2M435.5 119.5h1.2M438.4 120.4h1.2M443.6 120.9h1.2M445.9 121.3h1.2M420.6 122.8h1.2M454.5 122.2h1.2M397.7 123.4h1.2M445.8 124.8h1.2M395.5 125.5h1.2M415.7 125.3h1.2M464.4 125.8h1.2M475.6 125.7h1.2M396.2 126.3h1.2M465.6 126.6h1.2M385.5 128.6h1.2M400.6 128.8h1.2M453.8 128.3h1.2M383.9 129.2h1.2M425.6 129.5h1.2M426.6 129.1h1.2M460.6 129.8h1.2M451.4 131.4h1.2M488.9 132.6h1.2M470.8 136.4h1.2M472.3 137.4h1.2M459.7 138.1h1.2M475.8 140.4h1.2M461.7 142.8h1.2M489.0 143.6h1.2M464.6 144.5h1.2M447.5 145.2h1.2M442.7 146.5h1.2M484.8 146.7h1.2M449.6 147.2h1.2M447.9 152.4h1.2" stroke="#0000ef" stroke-width="1.2" fill="none"/>
<path d="M375.0 9.2h1.2M362.3 10.7h1.2M369.5 11.2h1.2M396.4 13.5h1.2M353.9 15.5h1.2M356.4 15.3h1.2M357.5 15.7h1.2M367.7 15.2h1.2M371.2 15.7h1.2M413.6 17.4h1.2M380.8 18.5h1.2M365.3 21.5h1.2M409.7 21.4h1.2M384.3 22.4h1.2M410.4 22.7h1.2M369.8 23.2h1.2M387.3 23.5h1.2M390.7 23.6h1.2M354.5 24.3h1.2M368.3 24.2h1.2M372.6 24.4h1.2M391.3 24.9h1.2M357.5 25.3h1.2M369.9 25.7h1.2M373.6 25.8h1.2M391.8 25.7h1.2M418.5 25.8h1.2M375.3 27.4h1.2M378.4 27.8h1.2M382.6 27.3h1.2M406.0 27.4h1.2M408.2 27.9h1.2M357.4 28.6h1.2M372.4 28.3h1.2M376.4 28.5h1.2M421.9 28.8h1.2M375.6 29.4h1.2M386.4 30.6h1.2M389.0 30.3h1.2M423.9 30.4h1.2M416.9 31.2h1.2M360.7 32.3h1.2M394.6 32.7h1.2M411.9 33.3h1.2M414.5 33.5h1.2M372.3 34.2h1.2M379.7 34.3h1.2M380.4 34.4h1.2M384.4 34.7h1.2M400.3 34.5h1.2M384.3 35.8h1.2M420.8 35.1h1.2M378.8 36.2h1.2M416.3 36.8h1.2M381.5 37.1h1.2M424.8 37.4h1.2M389.6 38.2h1.2M398.6 38.3h1.2M430.8 38.7h1.2M358.9 39.7h1.2M368.7 39.4h1.2M381.3 39.5h1.2M410.5 39.2h1.2M382.5 40.4h1.2M407.6 40.4h1.2M418.0 40.6h1.2M354.8 41.5h1.2M365.3 41.6h1.2M357.6 42.5h1.2M383.7 42.2h1.2M395.2 42.7h1.2M405.4 42.3h1.2M409.4 42.4h1.2M351.7 43.8h1.2M379.2 43.4h1.2M406.9 43.2h1.2M408.4 43.6h1.2M393.8 44.4h1.2M400.3 44.2h1.2M452.4 44.9h1.2M405.3 45.9h1.2M442.3 45.6h1.2M373.5 46.3h1.2M378.6 46.6h1.2M379.6 46.5h1.2M409.8 46.8h1.2M438.5 46.6h1.2M357.8 47.5h1.2M369.5 47.7h1.2M399.9 47.6h1.2M409.5 47.5h1.2M411.9 47.8h1.2M382.8 48.1h1.2M392.0 48.8h1.2M421.3 48.6h1.2M388.7 49.6h1.2M392.2 49.3h1.2M397.5 49.2h1.2M408.4 49.8h1.2M411.7 49.2h1.2M345.9 50.7h1.2M352.9 50.3h1.2M380.8 50.6h1.2M396.2 50.8h1.2M397.6 50.7h1.2M403.6 50.3h1.2M425.8 50.4h1.2M351.6 51.5h1.2M358.7 51.3h1.2M384.6 51.7h1.2M389.5 51.6h1.2M403.6 51.2h1.2M412.5 51.4h1.2M416.0 51.4h1.2M396.9 52.5h1.2M397.2 52.5h1.2M404.7 52.3h1.2M386.9 53.7h1.2M401.9 53.8h1.2M402.8 53.9h1.2M420.6 53.6h1.2M431.2 53.4h1.2M444.5 53.5h1.2M465.2 53.4h1.2M390.8 54.7h1.2M394.9 54.7h1.2M395.5 54.9h1.2M402.3 54.3h1.2M411.4 54.1h1.2M420.4 54.4h1.2M402.9 55.4h1.2M423.2 55.6h1.2M425.8 56.5h1.2M429.9 57.6h1.2M466.6 58.4h1.2M352.8 59.3h1.2M366.4 59.2h1.2M378.9 59.5h1.2M388.6 59.4h1.2M408.9 59.5h1.2M442.4 59.5h1.2M443.2 59.8h1.2M351.6 60.5h1.2M374.5 60.5h1.2M377.8 60.3h1.2M400.4 60.3h1.2M402.3 60.5h1.2M408.2 60.1h1.2M422.3 60.7h1.2M464.3 60.3h1.2M333.9 61.8h1.2M367.4 61.8h1.2M383.8 61.6h1.2M426.2 61.7h1.2M436.4 61.2h1.2M444.8 61.3h1.2M446.3 61.4h1.2M361.3 62.3h1.2M379.6 62.6h1.2M415.4 62.1h1.2M419.4 62.7h1.2M420.4 62.4h1.2M461.7 62.4h1.2M371.5 63.7h1.2M377.0 63.8h1.2M385.5 63.2h1.2M396.9 63.4h1.2M409.5 63.5h1.2M423.3 63.4h1.2M446.2 63.6h1.2M358.4 64.2h1.2M361.4 64.4h1.2M373.6 64.2h1.2M381.9 64.6h1.2M382.3 64.7h1.2M398.9 64.3h1.2M405.3 64.6h1.2M439.3 64.2h1.2M372.7 65.3h1.2M374.3 65.5h1.2M379.3 65.5h1.2M401.5 65.2h1.2M416.4 65.9h1.2M420.7 65.3h1.2M421.7 65.4h1.2M446.5 65.8h1.2M454.8 65.7h1.2M365.9 66.9h1.2M391.5 66.3h1.2M419.6 66.9h1.2M448.2 66.5h1.2M458.6 66.9h1.2M351.8 67.4h1.2M370.5 67.6h1.2M373.4 67.7h1.2M374.4 67.8h1.2M379.8 67.8h1.2M402.8 67.9h1.2M423.4 67.3h1.2M424.5 67.1h1.2M428.8 67.2h1.2M433.7 67.4h1.2M443.8 67.9h1.2M447.9 67.1h1.2M454.4 67.2h1.2M353.9 68.7h1.2M377.9 68.3h1.2M385.9 68.7h1.2M387.4 68.2h1.2M393.4 68.9h1.2M406.5 68.7h1.2M419.4 68.2h1.2M443.0 68.9h1.2M465.5 68.7h1.2M345.5 69.9h1.2M356.7 69.4h1.2M357.5 69.6h1.2M370.9 69.5h1.2M372.4 69.4h1.2M373.3 69.7h1.2M377.8 69.3h1.2M383.4 69.3h1.2M385.3 69.6h1.2M395.4 69.4h1.2M422.6 69.2h1.2M437.3 69.6h1.2M348.6 70.3h1.2M371.9 70.8h1.2M376.7 70.6h1.2M383.5 70.3h1.2M388.3 70.4h1.2M392.7 70.8h1.2M419.5 70.3h1.2M439.7 70.6h1.2M444.6 70.9h1.2M476.8 70.4h1.2M362.2 71.6h1.2M374.8 71.6h1.2M385.6 71.2h1.2M387.8 71.9h1.2M389.3 71.5h1.2M393.6 71.3h1.2M395.7 71.2h1.2M427.2 71.3h1.2M430.3 71.2h1.2M435.3 71.3h1.2M451.7 71.2h1.2M454.5 71.4h1.2M345.3 72.8h1.2M347.9 72.5h1.2M370.2 72.9h1.2M379.5 72.6h1.2M384.5 72.8h1.2M399.6 72.2h1.2M427.3 72.2h1.2M428.8 72.1h1.2M429.7 72.3h1.2M438.7 72.5h1.2M443.8 72.4h1.2M451.9 72.4h1.2M454.4 72.8h1.2M349.3 73.7h1.2M366.8 73.2h1.2M371.6 73.7h1.2M377.8 73.8h1.2M381.8 73.2h1.2M384.5 73.2h1.2M413.7 73.9h1.2M421.5 73.8h1.2M427.6 73.3h1.2M433.5 73.2h1.2M439.4 73.3h1.2M460.2 73.6h1.2M467.0 73.6h1.2M469.5 73.7h1.2M378.7 74.3h1.2M389.2 74.7h1.2M391.9 74.8h1.2M394.0 74.7h1.2M421.8 74.4h1.2M429.4 74.3h1.2M431.3 74.8h1.2M434.4 74.9h1.2M439.6 74.9h1.2M449.4 74.8h1.2M461.9 74.6h1.2M467.7 74.9h1.2M360.9 75.7h1.2M377.6 75.2h1.2M391.8 75.2h1.2M395.5 75.9h1.2M401.3 75.5h1.2M429.3 75.5h1.2M437.4 75.2h1.2M451.6 75.4h1.2M466.4 75.4h1.2M370.4 76.7h1.2M372.2 76.9h1.2M375.6 76.4h1.2M376.7 76.5h1.2M377.9 76.8h1.2M383.8 76.5h1.2M386.0 76.5h1.2M388.7 76.7h1.2M407.9 76.8h1.2M420.6 76.4h1.2M423.9 76.3h1.2M424.3 76.3h1.2M441.8 76.7h1.2M376.5 77.6h1.2M380.9 77.7h1.2M394.2 77.1h1.2M396.5 77.2h1.2M397.7 77.7h1.2M406.0 77.3h1.2M445.8 77.6h1.2M452.2 77.9h1.2M455.6 77.3h1.2M473.8 77.7h1.2M372.5 78.4h1.2M385.7 78.2h1.2M387.0 78.3h1.2M390.5 78.6h1.2M391.3 78.8h1.2M409.6 78.1h1.2M427.6 78.8h1.2M435.8 78.7h1.2M439.8 78.2h1.2M445.3 78.2h1.2M453.9 78.4h1.2M369.5 79.8h1.2M398.4 79.7h1.2M404.3 79.9h1.2M413.3 79.1h1.2M441.8 79.4h1.2M449.0 79.8h1.2M453.6 79.7h1.2M473.7 79.3h1.2M363.3 80.2h1.2M387.3 80.7h1.2M389.2 80.7h1.2M391.4 80.7h1.2M393.5 80.5h1.2M401.5 80.3h1.2M403.5 80.2h1.2M404.4 80.4h1.2M405.3 80.9h1.2M406.6 80.7h1.2M408.3 80.8h1.2M436.9 80.3h1.2M445.7 80.5h1.2M458.0 80.2h1.2M388.5 81.4h1.2M396.4 81.9h1.2M397.5 81.5h1.2M410.7 81.2h1.2M413.8 81.3h1.2M436.3 81.5h1.2M452.9 81.6h1.2M453.4 81.4h1.2M461.7 81.4h1.2M378.4 82.5h1.2M384.2 82.5h1.2M392.9 82.2h1.2M393.5 82.3h1.2M396.8 82.9h1.2M399.9 82.5h1.2M402.3 82.7h1.2M403.3 82.5h1.2M409.4 82.5h1.2M412.5 82.4h1.2M416.0 82.8h1.2M469.7 82.6h1.2M390.3 83.3h1.2M395.9 83.3h1.2M397.9 83.4h1.2M405.7 83.4h1.2M407.8 83.5h1.2M408.7 83.8h1.2M412.5 83.3h1.2M419.8 83.2h1.2M421.0 83.1h1.2M423.7 83.3h1.2M437.0 83.3h1.2M439.6 83.2h1.2M456.8 83.2h1.2M458.8 83.3h1.2M460.6 83.8h1.2M379.4 84.3h1.2M391.6 84.5h1.2M393.6 84.4h1.2M407.9 84.9h1.2M408.3 84.5h1.2M417.6 84.6h1.2M421.2 84.9h1.2M451.8 84.3h1.2M467.6 84.3h1.2M468.9 84.1h1.2M471.9 84.3h1.2M375.3 85.4h1.2M376.7 85.2h1.2M379.5 85.3h1.2M381.2 85.2h1.2M389.3 85.4h1.2M396.3 85.8h1.2M403.9 85.5h1.2M414.4 85.8h1.2M453.4 85.5h1.2M457.3 85.6h1.2M470.4 85.3h1.2M368.2 86.8h1.2M377.3 86.6h1.2M384.8 86.3h1.2M398.5 86.6h1.2M404.9 86.6h1.2M422.8 86.6h1.2M431.7 86.3h1.2M371.9 87.5h1.2M409.5 87.8h1.2M411.8 87.2h1.2M412.8 87.4h1.2M413.7 87.7h1.2M416.0 87.9h1.2M418.5 87.9h1.2M424.2 87.7h1.2M430.0 87.6h1.2M431.3 87.3h1.2M432.4 87.7h1.2M454.6 87.4h1.2M466.5 87.8h1.2M384.4 88.6h1.2M392.8 88.6h1.2M397.7 88.8h1.2M407.5 88.5h1.2M417.3 88.6h1.2M421.4 88.5h1.2M426.4 88.1h1.2M360.7 89.4h1.2M380.5 89.3h1.2M398.3 89.6h1.2M407.5 89.8h1.2M410.8 89.2h1.2M419.2 89.7h1.2M432.9 89.6h1.2M454.9 89.5h1.2M469.7 89.1h1.2M366.7 90.1h1.2M379.6 90.5h1.2M388.7 90.3h1.2M400.5 90.2h1.2M406.5 90.2h1.2M414.9 90.4h1.2M426.0 90.7h1.2M435.2 90.5h1.2M441.5 90.4h1.2M373.9 91.2h1.2M396.2 91.2h1.2M397.8 91.8h1.2M404.4 91.4h1.2M416.3 91.8h1.2M431.4 91.5h1.2M440.6 91.9h1.2M394.9 92.8h1.2M402.4 92.6h1.2M409.6 92.3h1.2M412.5 92.4h1.2M409.2 93.4h1.2M410.7 93.1h1.2M412.7 93.5h1.2M414.6 93.4h1.2M428.5 93.9h1.2M429.8 93.9h1.2M440.6 93.4h1.2M442.8 93.6h1.2M400.4 94.4h1.2M406.0 94.4h1.2M415.8 94.1h1.2M444.7 94.4h1.2M402.8 95.1h1.2M405.6 95.2h1.2M425.6 95.7h1.2M427.0 95.7h1.2M436.6 95.5h1.2M438.3 95.1h1.2M440.7 95.5h1.2M443.9 95.4h1.2M464.6 95.3h1.2M405.4 96.8h1.2M407.9 96.4h1.2M433.9 96.2h1.2M436.2 96.3h1.2M371.8 97.7h1.2M414.8 97.7h1.2M419.7 97.6h1.2M423.6 97.5h1.2M426.5 97.2h1.2M431.7 97.3h1.2M439.5 97.4h1.2M442.8 97.6h1.2M448.8 97.1h1.2M410.2 98.4h1.2M427.8 98.7h1.2M431.9 98.7h1.2M449.9 98.6h1.2M407.7 99.5h1.2M414.5 99.3h1.2M415.4 99.2h1.2M418.9 99.2h1.2M427.5 99.5h1.2M432.4 99.2h1.2M439.2 99.3h1.2M445.9 99.1h1.2M461.4 99.8h1.2M414.6 100.3h1.2M421.6 100.9h1.2M432.6 100.2h1.2M435.6 100.9h1.2M439.4 100.1h1.2M443.6 100.7h1.2M448.3 100.5h1.2M452.7 100.9h1.2M455.4 100.7h1.2M457.4 100.7h1.2M429.8 101.2h1.2M432.7 101.5h1.2M441.7 101.5h1.2M450.4 101.2h1.2M459.5 101.4h1.2M462.3 101.3h1.2M466.4 101.4h1.2M420.3 102.6h1.2M435.7 102.2h1.2M444.2 102.3h1.2M455.3 102.8h1.2M457.8 102.7h1.2M482.5 102.2h1.2M380.5 103.8h1.2M381.8 103.8h1.2M392.8 103.8h1.2M428.7 103.2h1.2M437.7 103.5h1.2M440.3 103.5h1.2M448.2 103.9h1.2M449.4 103.5h1.2M490.6 103.5h1.2M389.3 104.6h1.2M396.3 104.8h1.2M430.3 104.6h1.2M436.7 104.8h1.2M443.9 104.2h1.2M451.6 104.7h1.2M453.8 104.9h1.2M422.3 105.4h1.2M432.3 105.3h1.2M452.4 105.1h1.2M466.3 105.8h1.2M404.0 106.5h1.2M431.4 106.7h1.2M461.0 106.2h1.2M461.6 106.6h1.2M428.2 107.7h1.2M433.3 107.8h1.2M444.9 107.4h1.2M446.3 107.5h1.2M455.8 107.2h1.2M456.4 107.6h1.2M463.3 107.1h1.2M465.3 107.6h1.2M473.3 107.7h1.2M429.6 108.6h1.2M454.0 108.7h1.2M456.6 108.5h1.2M460.0 108.2h1.2M434.3 109.3h1.2M442.2 109.3h1.2M443.5 109.7h1.2M447.0 109.3h1.2M454.9 109.7h1.2M459.0 109.5h1.2M464.0 109.2h1.2M473.4 109.5h1.2M444.3 110.2h1.2M459.0 110.5h1.2M460.9 110.3h1.2M461.7 110.6h1.2M476.3 110.3h1.2M440.2 111.9h1.2M446.8 111.4h1.2M448.8 111.2h1.2M458.6 111.8h1.2M402.5 112.9h1.2M421.4 112.7h1.2M447.2 112.7h1.2M451.7 112.5h1.2M478.7 112.9h1.2M406.4 113.6h1.2M442.4 113.8h1.2M449.3 113.5h1.2M451.6 113.9h1.2M463.7 113.2h1.2M466.5 113.6h1.2M424.5 114.2h1.2M444.6 114.3h1.2M452.7 114.9h1.2M453.6 114.1h1.2M461.9 114.3h1.2M481.3 114.2h1.2M412.0 115.8h1.2M448.4 115.3h1.2M449.7 115.8h1.2M458.9 115.1h1.2M470.6 115.2h1.2M439.7 116.4h1.2M450.4 116.2h1.2M455.6 116.4h1.2M457.7 116.6h1.2M451.7 117.1h1.2M456.4 117.5h1.2M450.5 118.5h1.2M455.5 118.2h1.2M458.4 118.5h1.2M476.6 118.5h1.2M484.3 118.5h1.2M387.9 119.7h1.2M446.6 119.2h1.2M461.5 119.3h1.2M480.5 119.5h1.2M453.7 120.6h1.2M457.6 120.1h1.2M462.3 120.8h1.2M413.4 123.4h1.2M394.8 124.1h1.2M420.4 126.2h1.2M418.9 127.5h1.2M436.8 131.2h1.2M439.8 132.2h1.2M399.9 133.4h1.2M446.7 138.6h1.2M458.8 138.3h1.2M468.4 139.2h1.2M449.8 140.3h1.2M460.7 140.7h1.2M447.8 148.2h1.2M488.4 148.5h1.2M498.9 148.7h1.2" stroke="#000fff" stroke-width="1.2" fill="none"/>
<path d="M345.7 9.3h1.2M363.6 12.2h1.2M364.6 13.8h1.2M375.4 13.3h1.2M402.6 13.4h1.2M357.9 14.1h1.2M373.0 14.3h1.2M358.9 15.2h1.2M396.5 15.3h1.2M362.8 16.2h1.2M379.8 16.1h1.2M384.6 16.4h1.2M390.6 16.2h1.2M405.4 18.8h1.2M368.9 21.2h1.2M376.8 22.7h1.2M416.4 23.5h1.2M376.3 24.6h1.2M368.8 25.2h1.2M376.4 26.2h1.2M388.2 26.3h1.2M409.4 26.4h1.2M392.5 27.9h1.2M377.2 28.8h1.2M402.6 28.1h1.2M373.8 29.5h1.2M390.3 30.3h1.2M408.8 31.8h1.2M389.4 32.9h1.2M422.3 32.5h1.2M364.3 33.1h1.2M387.3 33.3h1.2M363.8 34.4h1.2M387.7 34.7h1.2M390.4 35.7h1.2M356.3 36.5h1.2M386.2 36.2h1.2M378.8 37.5h1.2M370.3 38.7h1.2M372.2 38.3h1.2M390.9 38.7h1.2M378.8 39.6h1.2M396.2 39.5h1.2M403.5 40.3h1.2M380.8 41.8h1.2M390.0 41.4h1.2M416.7 41.5h1.2M360.3 42.3h1.2M388.6 42.2h1.2M396.5 42.2h1.2M349.4 43.6h1.2M355.0 43.7h1.2M371.2 43.5h1.2M382.4 43.5h1.2M383.9 43.6h1.2M430.3 43.8h1.2M361.7 44.5h1.2M389.7 44.7h1.2M432.6 44.2h1.2M366.0 45.8h1.2M367.2 45.3h1.2M379.8 45.8h1.2M408.9 45.5h1.2M410.8 45.6h1.2M431.3 45.2h1.2M443.9 45.5h1.2M380.9 46.3h1.2M402.4 46.4h1.2M420.9 46.7h1.2M444.5 46.2h1.2M457.8 46.4h1.2M397.8 47.2h1.2M402.0 47.2h1.2M418.7 47.2h1.2M404.8 48.6h1.2M416.6 48.4h1.2M429.3 48.8h1.2M376.6 49.7h1.2M390.4 49.9h1.2M391.3 49.2h1.2M398.9 49.6h1.2M406.9 50.6h1.2M420.7 50.3h1.2M355.7 51.8h1.2M366.8 51.1h1.2M377.0 51.6h1.2M410.8 51.5h1.2M427.7 51.3h1.2M437.0 51.3h1.2M374.2 52.2h1.2M393.7 52.7h1.2M405.9 52.1h1.2M407.0 52.7h1.2M408.7 52.8h1.2M411.9 52.3h1.2M412.3 52.9h1.2M428.5 52.8h1.2M446.5 52.5h1.2M449.4 52.6h1.2M410.8 53.7h1.2M422.0 53.5h1.2M388.6 54.4h1.2M392.9 54.6h1.2M403.7 54.8h1.2M427.8 54.3h1.2M437.9 54.4h1.2M448.2 54.6h1.2M395.8 55.6h1.2M408.5 55.2h1.2M418.9 55.2h1.2M436.2 55.8h1.2M389.2 56.3h1.2M393.9 56.6h1.2M417.3 56.6h1.2M435.3 56.6h1.2M448.2 56.6h1.2M450.7 56.6h1.2M371.2 57.6h1.2M374.7 57.5h1.2M375.9 57.7h1.2M402.3 57.8h1.2M406.6 57.2h1.2M419.6 57.6h1.2M431.6 57.7h1.2M436.5 57.1h1.2M444.6 57.4h1.2M460.3 57.8h1.2M399.4 58.2h1.2M364.4 59.6h1.2M370.5 59.2h1.2M391.2 59.4h1.2M398.7 59.2h1.2M410.6 59.3h1.2M420.2 59.6h1.2M433.9 59.4h1.2M448.8 59.1h1.2M468.5 59.8h1.2M360.9 60.9h1.2M362.6 60.5h1.2M364.8 60.6h1.2M371.7 60.1h1.2M411.2 60.6h1.2M418.4 60.4h1.2M430.8 60.3h1.2M431.3 60.8h1.2M434.3 60.4h1.2M445.9 60.4h1.2M450.4 60.6h1.2M353.7 61.4h1.2M365.6 61.7h1.2M370.3 61.8h1.2M373.3 61.9h1.2M473.2 61.2h1.2M364.0 62.6h1.2M365.9 62.1h1.2M375.5 62.7h1.2M393.9 62.3h1.2M402.0 62.6h1.2M422.6 62.3h1.2M432.9 62.5h1.2M440.9 62.1h1.2M365.3 63.6h1.2M374.0 63.3h1.2M379.6 63.6h1.2M427.0 63.4h1.2M427.4 63.5h1.2M435.5 63.6h1.2M462.9 63.6h1.2M377.8 64.3h1.2M404.6 64.7h1.2M414.2 64.2h1.2M422.9 64.2h1.2M436.8 64.4h1.2M352.7 65.4h1.2M356.8 65.4h1.2M370.2 65.2h1.2M384.9 65.6h1.2M389.6 65.7h1.2M412.9 65.9h1.2M422.7 65.1h1.2M425.6 65.4h1.2M431.0 65.8h1.2M364.9 66.3h1.2M371.7 66.6h1.2M387.9 66.1h1.2M417.3 66.6h1.2M378.3 67.3h1.2M381.7 67.8h1.2M382.4 67.8h1.2M383.3 67.3h1.2M406.3 67.4h1.2M417.3 67.8h1.2M418.9 67.2h1.2M477.2 67.1h1.2M363.7 68.3h1.2M366.9 68.5h1.2M421.6 68.8h1.2M463.4 68.7h1.2M387.3 69.4h1.2M394.6 69.5h1.2M438.6 69.6h1.2M445.3 69.7h1.2M372.9 70.4h1.2M379.9 70.7h1.2M391.8 70.8h1.2M410.9 70.6h1.2M413.8 70.3h1.2M426.8 70.7h1.2M432.9 70.1h1.2M442.0 70.2h1.2M460.4 70.4h1.2M462.4 70.7h1.2M372.4 71.7h1.2M373.4 71.8h1.2M377.8 71.9h1.2M390.8 71.8h1.2M410.4 71.1h1.2M441.6 71.8h1.2M450.5 71.5h1.2M453.4 71.4h1.2M460.6 71.6h1.2M464.9 71.3h1.2M470.8 71.2h1.2M381.5 72.2h1.2M383.4 72.9h1.2M387.9 72.7h1.2M388.2 72.3h1.2M393.6 72.2h1.2M394.4 72.7h1.2M426.3 72.4h1.2M435.6 72.7h1.2M453.2 72.3h1.2M459.4 72.5h1.2M460.8 72.2h1.2M470.3 72.3h1.2M386.8 73.8h1.2M389.4 73.4h1.2M394.0 73.8h1.2M401.8 73.6h1.2M451.7 73.8h1.2M457.6 73.7h1.2M390.9 74.4h1.2M392.6 74.4h1.2M437.4 74.1h1.2M442.8 74.8h1.2M354.5 75.1h1.2M355.4 75.1h1.2M368.2 75.8h1.2M372.9 75.8h1.2M381.9 75.4h1.2M382.5 75.2h1.2M383.3 75.9h1.2M421.4 75.2h1.2M445.3 75.7h1.2M449.6 75.6h1.2M464.3 75.3h1.2M475.5 75.7h1.2M355.9 76.6h1.2M356.6 76.3h1.2M442.4 76.6h1.2M472.3 76.3h1.2M357.9 77.8h1.2M368.7 77.5h1.2M370.9 77.7h1.2M371.3 77.6h1.2M373.5 77.2h1.2M383.7 77.3h1.2M400.9 77.5h1.2M406.9 77.4h1.2M410.5 77.6h1.2M451.3 77.1h1.2M461.4 77.6h1.2M467.4 77.1h1.2M368.7 78.5h1.2M371.6 78.1h1.2M374.5 78.3h1.2M377.6 78.2h1.2M382.6 78.8h1.2M388.0 78.7h1.2M389.3 78.3h1.2M424.2 78.2h1.2M450.4 78.7h1.2M462.4 78.4h1.2M463.3 78.4h1.2M472.7 78.6h1.2M356.0 79.4h1.2M366.2 79.8h1.2M394.4 79.1h1.2M399.5 79.5h1.2M406.6 79.4h1.2M408.7 79.8h1.2M451.3 79.3h1.2M456.7 79.3h1.2M457.8 79.4h1.2M460.2 79.8h1.2M376.2 80.4h1.2M381.8 80.3h1.2M394.5 80.7h1.2M434.8 81.3h1.2M451.2 81.1h1.2M474.2 81.7h1.2M354.5 82.7h1.2M355.8 82.6h1.2M373.0 82.7h1.2M411.6 82.8h1.2M443.0 82.6h1.2M443.9 82.5h1.2M444.7 82.6h1.2M445.7 82.6h1.2M453.2 82.3h1.2M381.4 83.6h1.2M384.5 83.7h1.2M400.4 83.3h1.2M406.4 83.7h1.2M409.9 83.1h1.2M410.3 83.4h1.2M438.6 83.8h1.2M442.3 83.3h1.2M445.8 83.6h1.2M358.7 84.8h1.2M389.9 84.1h1.2M399.9 84.1h1.2M423.6 84.8h1.2M361.0 85.8h1.2M374.6 85.8h1.2M378.7 85.8h1.2M391.9 85.8h1.2M406.7 85.4h1.2M407.9 85.4h1.2M416.3 85.7h1.2M419.5 85.3h1.2M441.8 85.3h1.2M374.9 86.2h1.2M396.8 86.6h1.2M406.7 86.4h1.2M410.3 86.6h1.2M413.7 86.6h1.2M425.8 86.9h1.2M429.3 86.2h1.2M368.0 87.1h1.2M383.9 87.5h1.2M387.9 87.7h1.2M391.5 87.5h1.2M394.6 87.6h1.2M398.0 87.4h1.2M400.6 87.7h1.2M402.9 87.9h1.2M417.3 87.7h1.2M383.5 88.3h1.2M399.3 88.6h1.2M406.3 88.1h1.2M419.4 88.2h1.2M434.3 88.2h1.2M436.3 88.4h1.2M449.9 88.7h1.2M395.8 89.2h1.2M401.7 89.8h1.2M408.2 89.8h1.2M412.8 89.2h1.2M415.9 89.6h1.2M423.7 89.6h1.2M440.9 89.7h1.2M371.9 90.4h1.2M384.6 90.7h1.2M391.7 90.4h1.2M402.5 90.2h1.2M411.7 90.5h1.2M432.5 90.3h1.2M440.0 90.2h1.2M458.7 90.6h1.2M468.7 90.2h1.2M362.9 91.4h1.2M388.8 91.7h1.2M399.9 91.2h1.2M405.5 91.2h1.2M408.6 91.2h1.2M419.6 91.2h1.2M421.5 91.4h1.2M437.5 91.6h1.2M439.3 91.7h1.2M389.4 92.2h1.2M391.8 92.8h1.2M392.6 92.4h1.2M395.9 92.2h1.2M399.7 92.3h1.2M416.7 92.8h1.2M417.4 92.5h1.2M419.5 92.3h1.2M437.2 92.6h1.2M439.3 92.1h1.2M397.7 93.4h1.2M411.2 93.3h1.2M415.9 93.5h1.2M416.5 93.5h1.2M420.9 93.3h1.2M431.5 93.8h1.2M448.9 93.7h1.2M403.9 94.5h1.2M406.6 94.3h1.2M408.8 94.4h1.2M410.5 94.8h1.2M428.5 94.7h1.2M436.0 94.7h1.2M401.9 95.2h1.2M404.4 95.7h1.2M406.3 95.3h1.2M431.5 95.6h1.2M435.8 95.8h1.2M441.7 95.6h1.2M404.3 96.1h1.2M416.3 96.7h1.2M434.8 96.3h1.2M438.3 96.4h1.2M451.3 96.1h1.2M379.2 97.5h1.2M381.2 97.1h1.2M400.3 98.8h1.2M420.5 98.3h1.2M422.7 98.4h1.2M428.4 98.7h1.2M438.5 98.3h1.2M439.9 98.9h1.2M450.9 98.1h1.2M453.4 98.6h1.2M457.5 98.5h1.2M458.4 98.7h1.2M411.3 99.3h1.2M421.8 99.5h1.2M423.6 99.5h1.2M424.6 99.5h1.2M438.5 99.2h1.2M441.8 99.4h1.2M444.6 99.2h1.2M415.4 100.2h1.2M418.7 100.7h1.2M434.5 100.7h1.2M438.8 100.6h1.2M447.3 100.3h1.2M453.3 100.2h1.2M458.8 100.5h1.2M459.6 100.9h1.2M421.8 101.7h1.2M436.6 101.9h1.2M437.9 101.4h1.2M438.8 101.7h1.2M439.7 101.9h1.2M449.5 101.6h1.2M388.7 102.8h1.2M418.5 102.9h1.2M426.6 102.4h1.2M431.8 102.2h1.2M440.5 102.1h1.2M448.7 102.1h1.2M451.0 102.6h1.2M467.4 102.2h1.2M417.4 103.2h1.2M443.9 103.7h1.2M447.8 103.5h1.2M452.4 103.1h1.2M453.5 103.3h1.2M454.3 103.8h1.2M431.7 104.1h1.2M461.9 104.8h1.2M462.8 104.2h1.2M463.6 104.2h1.2M403.0 105.3h1.2M436.9 105.8h1.2M461.6 105.2h1.2M462.5 105.8h1.2M439.4 106.5h1.2M442.5 106.7h1.2M448.9 106.3h1.2M462.3 106.2h1.2M435.0 107.4h1.2M450.0 108.3h1.2M457.9 108.3h1.2M474.6 108.7h1.2M453.8 109.3h1.2M445.5 110.5h1.2M456.3 110.8h1.2M457.5 110.3h1.2M464.8 110.8h1.2M453.7 111.5h1.2M463.3 111.1h1.2M439.6 112.1h1.2M455.7 112.2h1.2M461.7 112.3h1.2M446.9 113.1h1.2M448.9 113.2h1.2M458.4 113.8h1.2M474.4 113.5h1.2M413.7 114.5h1.2M441.0 114.4h1.2M456.3 114.3h1.2M457.2 114.8h1.2M460.2 114.6h1.2M441.4 115.7h1.2M443.8 115.2h1.2M445.4 115.9h1.2M454.9 115.7h1.2M461.4 115.5h1.2M462.9 115.6h1.2M465.8 115.2h1.2M448.8 116.7h1.2M451.5 116.7h1.2M458.9 116.2h1.2M483.3 116.8h1.2M459.9 117.7h1.2M462.7 117.4h1.2M466.9 117.1h1.2M477.8 117.4h1.2M387.9 118.2h1.2M456.3 118.3h1.2M434.5 119.7h1.2M437.3 119.1h1.2M389.4 120.4h1.2M475.9 120.5h1.2M462.6 123.4h1.2M487.7 123.8h1.2M414.9 124.7h1.2M476.9 124.1h1.2M396.9 125.4h1.2M466.8 125.3h1.2M467.7 126.2h1.2M398.9 128.4h1.2M476.7 129.2h1.2M435.9 130.8h1.2M470.5 132.5h1.2M441.0 133.9h1.2M442.5 134.4h1.2M456.7 136.8h1.2M483.7 138.3h1.2M461.9 141.3h1.2M478.0 141.8h1.2M491.2 148.5h1.2M497.4 150.4h1.2" stroke="#002fff" stroke-width="1.2" fill="none"/>
<path d="M373.6 8.8h1.2M392.3 8.4h1.2M358.3 9.2h1.2M384.9 10.7h1.2M386.6 11.4h1.2M389.3 11.4h1.2M351.2 12.8h1.2M411.3 12.3h1.2M340.2 13.2h1.2M375.0 14.3h1.2M405.4 14.6h1.2M352.7 15.5h1.2M379.5 15.9h1.2M394.5 17.8h1.2M407.9 17.8h1.2M366.6 18.5h1.2M361.6 19.2h1.2M389.3 19.7h1.2M405.9 19.1h1.2M404.5 20.6h1.2M360.3 21.4h1.2M390.0 21.5h1.2M367.8 23.8h1.2M363.9 24.8h1.2M355.2 26.6h1.2M358.6 27.3h1.2M363.2 28.5h1.2M379.5 28.8h1.2M414.0 28.8h1.2M417.4 28.6h1.2M361.6 29.7h1.2M427.4 29.7h1.2M361.7 30.2h1.2M392.4 30.2h1.2M418.4 30.3h1.2M380.9 31.3h1.2M398.5 31.3h1.2M371.7 32.5h1.2M379.9 32.5h1.2M418.2 32.4h1.2M420.2 32.3h1.2M376.5 34.5h1.2M378.6 34.3h1.2M383.7 34.4h1.2M380.5 35.7h1.2M389.6 35.5h1.2M401.9 35.6h1.2M372.5 36.5h1.2M376.5 36.4h1.2M386.0 36.6h1.2M387.7 36.7h1.2M396.0 36.1h1.2M422.6 36.2h1.2M367.9 37.6h1.2M369.7 37.6h1.2M383.8 37.4h1.2M385.7 37.9h1.2M389.7 37.4h1.2M397.9 38.4h1.2M417.6 38.3h1.2M430.4 39.9h1.2M376.8 40.1h1.2M387.7 41.6h1.2M442.3 41.8h1.2M384.5 42.3h1.2M386.7 43.2h1.2M352.3 44.8h1.2M381.5 44.2h1.2M392.9 44.7h1.2M394.3 44.3h1.2M405.8 44.2h1.2M364.5 45.6h1.2M392.8 45.5h1.2M397.4 45.8h1.2M401.3 45.3h1.2M404.5 45.5h1.2M433.3 45.4h1.2M377.3 46.5h1.2M403.3 46.3h1.2M412.7 46.2h1.2M349.8 47.9h1.2M386.0 47.9h1.2M412.8 47.8h1.2M373.7 48.2h1.2M381.0 48.8h1.2M386.2 48.4h1.2M388.0 48.5h1.2M388.9 48.5h1.2M391.0 48.7h1.2M409.7 48.8h1.2M414.6 48.5h1.2M437.2 48.3h1.2M449.9 48.3h1.2M350.5 49.3h1.2M387.2 49.7h1.2M389.7 49.4h1.2M407.8 49.4h1.2M334.7 50.4h1.2M386.5 50.4h1.2M412.7 50.5h1.2M422.3 50.7h1.2M448.3 50.6h1.2M375.7 51.3h1.2M392.7 51.1h1.2M400.7 51.2h1.2M405.5 51.4h1.2M417.3 51.8h1.2M388.8 52.8h1.2M399.3 52.5h1.2M410.8 52.3h1.2M416.5 52.2h1.2M419.6 52.7h1.2M390.0 53.5h1.2M395.4 53.6h1.2M398.5 53.9h1.2M419.8 53.1h1.2M451.4 53.7h1.2M453.6 53.8h1.2M382.7 54.6h1.2M412.4 54.6h1.2M414.8 54.3h1.2M419.6 54.3h1.2M423.3 54.6h1.2M461.3 54.1h1.2M399.3 55.2h1.2M406.5 55.1h1.2M413.7 55.2h1.2M417.6 55.3h1.2M433.5 55.3h1.2M466.4 55.9h1.2M389.0 56.6h1.2M402.8 56.2h1.2M407.9 56.6h1.2M418.3 56.2h1.2M426.3 56.7h1.2M437.6 56.1h1.2M444.4 56.3h1.2M462.3 56.6h1.2M357.3 57.8h1.2M415.9 57.5h1.2M337.9 58.3h1.2M369.3 58.8h1.2M374.0 58.6h1.2M396.7 58.3h1.2M398.6 58.3h1.2M423.3 58.4h1.2M424.6 58.2h1.2M429.3 58.8h1.2M351.7 59.7h1.2M366.0 59.3h1.2M413.6 59.5h1.2M418.8 59.2h1.2M447.6 59.9h1.2M361.7 60.3h1.2M376.4 60.8h1.2M398.7 60.3h1.2M405.8 60.2h1.2M412.6 60.2h1.2M429.5 60.7h1.2M381.8 61.3h1.2M384.9 61.5h1.2M393.4 61.3h1.2M406.3 61.8h1.2M424.5 61.3h1.2M433.0 61.3h1.2M433.6 61.6h1.2M368.4 62.6h1.2M407.9 62.6h1.2M414.4 62.6h1.2M424.6 62.8h1.2M427.5 62.8h1.2M450.2 62.1h1.2M374.5 63.3h1.2M383.6 63.4h1.2M421.6 63.2h1.2M434.0 63.7h1.2M452.9 63.5h1.2M356.5 64.2h1.2M388.9 64.7h1.2M408.4 64.6h1.2M424.7 64.5h1.2M375.4 65.8h1.2M385.4 65.6h1.2M386.4 65.8h1.2M417.3 65.7h1.2M418.5 65.9h1.2M423.4 65.3h1.2M429.6 65.9h1.2M441.6 65.8h1.2M375.4 66.3h1.2M380.4 66.4h1.2M385.7 66.2h1.2M386.5 66.5h1.2M388.5 66.2h1.2M403.3 66.6h1.2M409.4 66.1h1.2M422.2 66.8h1.2M444.8 66.5h1.2M446.7 66.4h1.2M456.8 66.4h1.2M385.0 67.3h1.2M371.3 68.3h1.2M374.2 68.2h1.2M379.7 68.4h1.2M385.0 68.7h1.2M425.4 68.6h1.2M428.6 68.6h1.2M430.4 68.8h1.2M440.6 68.4h1.2M460.7 68.4h1.2M481.0 68.8h1.2M367.5 69.1h1.2M369.5 69.7h1.2M393.8 69.9h1.2M415.5 69.4h1.2M419.0 69.1h1.2M424.9 69.3h1.2M456.0 69.3h1.2M357.8 70.2h1.2M375.0 70.9h1.2M382.6 70.1h1.2M390.8 70.9h1.2M433.6 70.8h1.2M434.9 70.9h1.2M450.7 70.2h1.2M452.3 70.5h1.2M468.8 70.3h1.2M380.7 71.7h1.2M383.9 71.7h1.2M468.5 71.5h1.2M478.0 71.5h1.2M362.3 72.4h1.2M380.9 72.2h1.2M391.5 72.8h1.2M395.5 72.9h1.2M425.3 72.7h1.2M433.9 72.3h1.2M440.7 72.5h1.2M447.6 72.8h1.2M449.3 72.5h1.2M466.6 72.6h1.2M470.0 72.9h1.2M355.8 73.8h1.2M365.6 73.6h1.2M395.9 73.4h1.2M418.5 73.1h1.2M424.6 73.7h1.2M436.4 73.5h1.2M444.6 73.3h1.2M464.5 73.8h1.2M465.2 73.2h1.2M376.4 74.7h1.2M377.7 74.7h1.2M380.7 74.6h1.2M396.3 74.3h1.2M400.6 74.9h1.2M442.0 74.7h1.2M455.4 74.6h1.2M468.2 74.7h1.2M378.9 75.3h1.2M379.9 75.5h1.2M384.4 75.4h1.2M403.5 75.4h1.2M448.9 75.1h1.2M455.2 75.2h1.2M459.3 75.4h1.2M373.4 76.4h1.2M382.6 76.3h1.2M385.0 76.1h1.2M389.5 76.2h1.2M395.0 76.6h1.2M408.9 76.2h1.2M447.6 76.3h1.2M455.3 76.5h1.2M372.5 77.3h1.2M386.9 77.6h1.2M404.6 77.5h1.2M426.4 77.8h1.2M427.7 77.1h1.2M433.7 77.8h1.2M450.5 77.7h1.2M358.6 78.4h1.2M373.6 78.6h1.2M380.0 78.5h1.2M380.5 78.3h1.2M384.9 78.8h1.2M403.4 78.8h1.2M404.2 78.2h1.2M405.9 78.5h1.2M407.4 78.7h1.2M460.9 78.3h1.2M465.0 78.5h1.2M471.7 78.6h1.2M476.0 78.5h1.2M377.6 79.1h1.2M378.6 79.8h1.2M393.9 79.4h1.2M401.0 79.7h1.2M410.4 79.8h1.2M414.4 79.2h1.2M432.5 79.7h1.2M435.8 79.1h1.2M458.9 79.7h1.2M467.2 79.6h1.2M471.7 79.3h1.2M472.2 79.6h1.2M373.4 80.8h1.2M385.7 80.7h1.2M400.7 80.5h1.2M410.5 80.2h1.2M442.3 80.5h1.2M445.0 80.7h1.2M461.9 80.1h1.2M470.8 80.3h1.2M373.4 81.8h1.2M382.8 81.3h1.2M398.3 81.5h1.2M405.9 81.8h1.2M415.4 81.1h1.2M433.8 81.8h1.2M440.2 81.1h1.2M464.0 81.4h1.2M467.6 81.8h1.2M468.5 81.7h1.2M470.2 81.2h1.2M373.7 82.2h1.2M375.7 82.2h1.2M377.0 82.8h1.2M382.6 82.3h1.2M385.3 82.3h1.2M392.0 82.7h1.2M416.9 82.3h1.2M439.4 82.5h1.2M440.4 82.4h1.2M457.2 82.5h1.2M462.7 82.6h1.2M354.6 83.4h1.2M379.4 83.5h1.2M394.6 83.1h1.2M404.5 83.2h1.2M416.9 83.8h1.2M451.7 83.1h1.2M392.8 84.6h1.2M394.6 84.8h1.2M397.3 84.2h1.2M402.5 84.5h1.2M404.0 84.5h1.2M410.6 84.7h1.2M464.9 84.3h1.2M400.5 85.3h1.2M403.0 85.1h1.2M405.4 85.8h1.2M410.7 85.6h1.2M415.3 85.5h1.2M417.3 85.7h1.2M428.7 85.5h1.2M461.3 85.7h1.2M471.4 85.5h1.2M373.7 86.7h1.2M382.4 86.8h1.2M385.9 86.2h1.2M386.6 86.3h1.2M390.2 86.1h1.2M404.0 86.5h1.2M405.5 86.9h1.2M409.6 86.3h1.2M414.3 86.4h1.2M454.9 86.2h1.2M459.4 86.1h1.2M461.2 86.6h1.2M468.7 86.5h1.2M377.7 87.3h1.2M403.5 87.3h1.2M407.7 87.8h1.2M408.9 87.2h1.2M423.5 87.7h1.2M426.4 87.8h1.2M449.9 87.1h1.2M451.6 87.8h1.2M456.6 87.4h1.2M377.7 88.1h1.2M380.6 88.6h1.2M393.9 88.7h1.2M396.5 88.8h1.2M402.6 88.1h1.2M420.8 88.8h1.2M432.9 88.7h1.2M366.5 89.6h1.2M388.8 89.2h1.2M390.5 89.7h1.2M396.5 89.5h1.2M404.7 89.8h1.2M409.9 89.8h1.2M413.8 89.2h1.2M425.9 89.3h1.2M456.2 89.6h1.2M373.3 90.5h1.2M399.7 90.4h1.2M410.8 90.1h1.2M412.9 90.4h1.2M415.7 90.3h1.2M420.9 90.8h1.2M437.0 90.2h1.2M383.3 91.5h1.2M385.4 91.1h1.2M410.5 91.3h1.2M412.9 91.7h1.2M420.7 91.5h1.2M427.9 91.5h1.2M430.7 91.6h1.2M438.4 91.9h1.2M398.4 92.8h1.2M422.5 92.5h1.2M423.3 92.3h1.2M428.6 92.1h1.2M433.7 92.9h1.2M436.6 92.6h1.2M438.7 92.8h1.2M442.7 92.3h1.2M377.3 93.3h1.2M398.4 93.8h1.2M407.9 93.4h1.2M408.5 93.9h1.2M419.9 93.8h1.2M422.4 93.5h1.2M436.7 93.5h1.2M437.5 93.8h1.2M412.9 94.3h1.2M414.8 94.2h1.2M425.8 94.4h1.2M446.9 94.5h1.2M462.9 94.9h1.2M396.3 95.8h1.2M415.8 95.4h1.2M430.5 95.7h1.2M448.2 95.2h1.2M410.6 96.1h1.2M418.4 96.3h1.2M428.8 96.7h1.2M436.0 96.9h1.2M437.9 96.2h1.2M450.8 96.5h1.2M411.4 97.5h1.2M415.7 97.4h1.2M421.4 97.8h1.2M430.3 97.2h1.2M436.9 97.2h1.2M451.9 97.2h1.2M453.0 97.3h1.2M457.8 97.5h1.2M442.4 98.2h1.2M444.3 98.2h1.2M454.3 98.4h1.2M417.5 99.5h1.2M429.5 99.3h1.2M446.9 99.1h1.2M413.9 100.6h1.2M416.4 100.8h1.2M419.9 100.8h1.2M436.3 100.9h1.2M456.9 100.1h1.2M387.9 101.8h1.2M418.2 101.4h1.2M423.8 101.2h1.2M430.7 101.7h1.2M431.2 101.2h1.2M444.3 101.9h1.2M454.5 101.2h1.2M456.4 101.3h1.2M461.8 101.5h1.2M425.2 102.4h1.2M427.8 102.4h1.2M447.6 102.8h1.2M458.6 102.2h1.2M420.9 103.5h1.2M460.8 103.2h1.2M465.9 103.8h1.2M413.2 104.8h1.2M429.4 104.4h1.2M440.8 104.3h1.2M442.3 104.4h1.2M445.9 104.1h1.2M400.5 105.6h1.2M427.3 105.6h1.2M444.4 105.5h1.2M458.4 105.4h1.2M460.5 105.6h1.2M428.3 106.3h1.2M429.3 106.7h1.2M437.4 106.4h1.2M459.0 106.3h1.2M449.3 107.2h1.2M458.9 107.8h1.2M435.6 108.3h1.2M440.5 108.4h1.2M476.7 108.6h1.2M445.4 109.2h1.2M461.4 109.7h1.2M475.2 109.6h1.2M454.8 110.7h1.2M459.9 110.3h1.2M436.9 111.4h1.2M451.3 111.7h1.2M462.6 111.5h1.2M420.7 112.2h1.2M443.3 112.9h1.2M454.4 112.6h1.2M459.8 112.8h1.2M467.7 112.1h1.2M452.4 113.9h1.2M456.3 113.2h1.2M415.8 114.8h1.2M459.6 114.3h1.2M450.3 115.4h1.2M420.9 116.5h1.2M454.4 116.2h1.2M456.6 116.6h1.2M459.2 116.4h1.2M461.2 116.6h1.2M457.7 117.4h1.2M452.7 118.8h1.2M453.8 118.6h1.2M460.9 120.3h1.2M459.7 121.6h1.2M461.2 121.2h1.2M409.3 122.1h1.2M449.9 122.2h1.2M466.3 122.7h1.2M410.6 123.4h1.2M464.3 123.3h1.2M415.3 124.8h1.2M471.7 124.6h1.2M479.6 124.2h1.2M409.3 129.3h1.2M469.4 129.3h1.2M408.9 130.4h1.2M450.5 131.1h1.2M448.5 132.7h1.2M466.0 132.4h1.2M412.2 133.5h1.2M471.8 133.5h1.2M433.7 135.3h1.2M462.3 142.7h1.2" stroke="#004fff" stroke-width="1.2" fill="none"/>
<path d="M354.3 10.8h1.2M361.5 11.9h1.2M370.8 11.4h1.2M372.3 12.7h1.2M406.9 12.8h1.2M367.8 13.4h1.2M392.4 15.6h1.2M361.3 16.7h1.2M387.8 17.3h1.2M337.9 19.5h1.2M413.5 19.1h1.2M386.4 20.5h1.2M399.7 20.8h1.2M375.2 21.5h1.2M403.2 22.2h1.2M382.7 23.1h1.2M355.8 24.9h1.2M359.3 24.3h1.2M371.3 25.5h1.2M372.9 25.8h1.2M383.0 25.8h1.2M362.2 27.3h1.2M377.3 27.4h1.2M354.4 28.8h1.2M360.9 28.7h1.2M365.6 28.5h1.2M369.9 28.8h1.2M372.5 29.4h1.2M377.5 29.7h1.2M381.4 29.8h1.2M376.4 30.3h1.2M387.5 30.3h1.2M396.0 30.7h1.2M343.4 31.2h1.2M399.9 31.9h1.2M357.6 32.8h1.2M385.3 33.6h1.2M400.3 33.2h1.2M410.2 33.4h1.2M361.4 34.8h1.2M374.0 34.5h1.2M388.9 34.2h1.2M389.7 34.5h1.2M390.2 34.5h1.2M404.9 34.8h1.2M405.7 34.5h1.2M418.9 34.9h1.2M364.6 35.3h1.2M383.3 35.3h1.2M393.9 35.7h1.2M343.7 36.2h1.2M371.4 36.8h1.2M389.6 36.4h1.2M413.4 37.2h1.2M365.2 38.6h1.2M375.4 38.7h1.2M383.3 38.8h1.2M410.6 38.4h1.2M387.8 39.5h1.2M392.5 39.8h1.2M414.0 39.6h1.2M356.2 40.4h1.2M386.3 40.2h1.2M388.3 40.2h1.2M378.5 41.4h1.2M385.6 41.5h1.2M395.7 41.6h1.2M402.0 41.5h1.2M415.8 41.7h1.2M346.6 42.1h1.2M386.2 42.4h1.2M404.2 42.8h1.2M411.3 42.7h1.2M397.2 43.6h1.2M402.3 43.1h1.2M412.9 44.7h1.2M377.8 45.6h1.2M380.2 45.5h1.2M394.7 45.4h1.2M421.5 45.9h1.2M448.4 45.2h1.2M384.7 46.8h1.2M392.5 46.1h1.2M406.5 46.2h1.2M391.7 47.9h1.2M410.3 47.3h1.2M356.8 48.4h1.2M381.2 48.7h1.2M385.9 48.6h1.2M392.7 48.7h1.2M395.8 48.8h1.2M402.8 48.3h1.2M410.4 48.5h1.2M413.3 48.7h1.2M395.2 49.5h1.2M415.5 49.4h1.2M423.2 49.5h1.2M437.9 49.3h1.2M365.7 50.4h1.2M379.9 50.6h1.2M388.0 50.4h1.2M390.6 50.9h1.2M395.6 50.7h1.2M410.0 50.8h1.2M411.0 50.2h1.2M417.8 50.3h1.2M447.3 50.2h1.2M398.5 51.8h1.2M402.7 51.7h1.2M406.8 51.9h1.2M407.8 51.2h1.2M416.5 51.6h1.2M420.9 51.3h1.2M379.2 52.3h1.2M394.9 52.2h1.2M402.6 52.7h1.2M413.7 52.6h1.2M382.5 53.7h1.2M395.0 53.9h1.2M397.5 53.8h1.2M401.0 53.3h1.2M407.4 53.7h1.2M408.8 53.5h1.2M411.5 53.1h1.2M416.4 53.7h1.2M396.3 54.4h1.2M406.3 54.3h1.2M418.5 54.9h1.2M431.8 54.8h1.2M434.4 54.3h1.2M391.7 55.3h1.2M404.3 55.6h1.2M424.8 55.3h1.2M387.5 56.6h1.2M400.5 56.9h1.2M413.3 56.3h1.2M390.8 57.2h1.2M428.0 57.1h1.2M430.6 57.1h1.2M432.6 57.2h1.2M437.3 57.5h1.2M440.6 57.3h1.2M365.5 58.7h1.2M368.5 58.4h1.2M388.6 58.3h1.2M391.6 58.3h1.2M414.8 58.5h1.2M416.8 58.4h1.2M430.8 58.5h1.2M433.7 58.1h1.2M461.6 58.6h1.2M465.5 58.2h1.2M360.0 59.6h1.2M370.0 59.2h1.2M372.7 59.5h1.2M376.5 59.2h1.2M390.0 59.3h1.2M403.5 59.7h1.2M458.0 59.2h1.2M367.8 60.7h1.2M368.8 60.5h1.2M369.5 60.8h1.2M409.6 60.7h1.2M413.9 60.3h1.2M432.7 60.6h1.2M371.3 61.6h1.2M394.3 61.1h1.2M410.2 61.5h1.2M428.5 61.1h1.2M440.5 61.7h1.2M442.3 61.3h1.2M366.3 62.2h1.2M373.3 62.9h1.2M381.8 62.8h1.2M385.4 62.3h1.2M411.4 62.5h1.2M421.5 62.2h1.2M429.4 62.3h1.2M437.6 62.1h1.2M441.7 62.6h1.2M368.8 63.1h1.2M378.3 63.3h1.2M380.4 63.4h1.2M398.6 63.5h1.2M411.0 63.1h1.2M411.6 63.9h1.2M415.9 63.4h1.2M419.9 63.3h1.2M420.7 63.1h1.2M447.5 63.8h1.2M471.6 63.7h1.2M374.8 64.9h1.2M375.9 64.3h1.2M386.6 64.7h1.2M420.5 64.6h1.2M434.3 64.8h1.2M435.5 64.5h1.2M440.5 64.6h1.2M363.9 65.1h1.2M380.5 65.4h1.2M383.4 65.2h1.2M461.2 65.5h1.2M374.3 66.4h1.2M415.4 66.2h1.2M424.8 66.3h1.2M441.3 66.5h1.2M446.0 66.2h1.2M447.3 66.7h1.2M380.3 67.5h1.2M386.8 67.8h1.2M389.9 67.6h1.2M419.6 67.7h1.2M445.7 67.5h1.2M457.6 67.5h1.2M462.6 67.4h1.2M365.4 68.8h1.2M367.7 68.1h1.2M407.9 68.2h1.2M414.6 68.4h1.2M420.4 68.3h1.2M433.6 68.7h1.2M453.9 68.8h1.2M371.4 69.2h1.2M375.5 69.2h1.2M379.7 69.3h1.2M384.5 69.6h1.2M392.8 69.8h1.2M409.5 69.4h1.2M428.7 69.6h1.2M430.0 69.4h1.2M440.7 69.4h1.2M442.6 69.4h1.2M457.2 69.3h1.2M464.0 69.5h1.2M476.4 69.7h1.2M366.5 70.6h1.2M373.8 70.2h1.2M387.9 70.7h1.2M389.9 70.6h1.2M393.5 70.7h1.2M418.7 70.1h1.2M420.6 70.7h1.2M429.9 70.3h1.2M431.2 70.9h1.2M435.9 70.7h1.2M436.8 70.7h1.2M454.8 70.7h1.2M455.8 70.5h1.2M463.4 70.5h1.2M466.2 70.6h1.2M470.3 70.8h1.2M481.7 70.4h1.2M365.4 71.8h1.2M368.8 71.8h1.2M371.5 71.5h1.2M396.5 71.1h1.2M419.4 71.5h1.2M431.8 71.3h1.2M443.5 71.8h1.2M457.4 71.7h1.2M459.2 71.8h1.2M461.6 71.6h1.2M386.4 72.5h1.2M389.2 72.8h1.2M448.5 72.4h1.2M456.4 72.7h1.2M344.9 73.2h1.2M379.5 73.2h1.2M382.4 73.3h1.2M422.8 73.2h1.2M426.7 73.4h1.2M441.4 73.3h1.2M452.3 73.6h1.2M463.8 73.6h1.2M473.5 73.2h1.2M452.3 74.8h1.2M454.5 74.2h1.2M469.7 74.6h1.2M373.5 75.3h1.2M380.4 75.1h1.2M400.8 75.3h1.2M427.6 75.5h1.2M431.7 75.3h1.2M468.5 75.5h1.2M469.6 75.6h1.2M471.8 75.2h1.2M381.8 76.3h1.2M428.8 76.6h1.2M438.2 76.3h1.2M457.6 76.4h1.2M466.9 76.1h1.2M467.9 76.7h1.2M470.2 76.7h1.2M375.6 77.8h1.2M401.7 77.4h1.2M402.5 77.7h1.2M438.0 77.4h1.2M440.8 77.7h1.2M443.8 77.1h1.2M463.9 77.8h1.2M468.9 77.3h1.2M357.4 78.1h1.2M378.7 78.3h1.2M395.8 78.4h1.2M402.8 78.4h1.2M443.5 78.9h1.2M459.7 78.3h1.2M380.9 79.3h1.2M403.3 79.4h1.2M433.9 79.1h1.2M438.3 79.8h1.2M450.5 79.8h1.2M370.7 80.3h1.2M380.7 80.9h1.2M397.7 80.6h1.2M407.4 80.2h1.2M447.2 80.8h1.2M452.5 80.2h1.2M456.5 80.8h1.2M473.5 80.4h1.2M377.3 81.1h1.2M382.0 81.5h1.2M395.2 81.7h1.2M400.0 81.1h1.2M400.6 81.5h1.2M401.6 81.7h1.2M403.3 81.4h1.2M411.9 81.2h1.2M439.7 81.2h1.2M449.5 81.6h1.2M471.5 81.7h1.2M394.2 82.6h1.2M407.5 82.7h1.2M461.7 82.8h1.2M466.9 82.2h1.2M473.6 82.4h1.2M377.9 83.3h1.2M398.6 83.9h1.2M404.0 83.1h1.2M417.3 83.5h1.2M452.9 83.3h1.2M464.0 83.2h1.2M469.8 83.4h1.2M474.3 83.7h1.2M373.8 84.2h1.2M378.5 84.6h1.2M401.7 84.7h1.2M406.6 84.6h1.2M420.7 84.6h1.2M423.0 84.8h1.2M460.2 84.5h1.2M461.6 84.5h1.2M463.9 84.5h1.2M472.4 84.1h1.2M383.5 85.3h1.2M385.7 85.4h1.2M390.3 85.6h1.2M393.3 85.2h1.2M397.6 85.4h1.2M398.8 85.4h1.2M414.0 85.4h1.2M387.3 86.7h1.2M388.4 86.3h1.2M407.5 86.8h1.2M409.0 86.8h1.2M412.5 86.4h1.2M417.9 86.6h1.2M450.3 86.8h1.2M466.9 86.1h1.2M370.7 87.6h1.2M380.6 87.6h1.2M393.2 87.7h1.2M395.9 87.9h1.2M406.5 87.5h1.2M422.8 87.8h1.2M430.4 87.1h1.2M378.3 88.7h1.2M381.3 88.4h1.2M382.5 88.5h1.2M408.6 88.1h1.2M415.0 88.5h1.2M415.8 88.8h1.2M425.9 88.3h1.2M429.5 88.4h1.2M433.7 88.8h1.2M437.7 88.9h1.2M462.9 88.8h1.2M382.8 89.4h1.2M392.5 89.2h1.2M399.5 89.2h1.2M400.5 89.6h1.2M404.0 89.1h1.2M405.6 89.7h1.2M418.5 89.9h1.2M420.3 89.7h1.2M424.5 89.6h1.2M434.0 89.2h1.2M390.8 90.5h1.2M394.9 90.2h1.2M433.9 90.5h1.2M434.8 90.8h1.2M460.5 90.5h1.2M465.6 90.8h1.2M422.6 91.5h1.2M423.8 91.3h1.2M425.2 91.8h1.2M432.9 91.2h1.2M434.7 91.9h1.2M406.4 92.2h1.2M414.0 92.3h1.2M427.2 92.2h1.2M431.8 92.1h1.2M434.4 92.1h1.2M435.8 92.7h1.2M391.5 93.9h1.2M402.2 93.8h1.2M403.6 93.9h1.2M406.9 93.8h1.2M430.9 93.8h1.2M435.2 93.6h1.2M443.7 93.7h1.2M393.8 94.4h1.2M396.8 94.7h1.2M398.9 94.6h1.2M401.8 94.5h1.2M412.0 94.8h1.2M421.6 94.6h1.2M438.4 94.3h1.2M441.5 94.5h1.2M408.3 95.7h1.2M410.0 95.6h1.2M411.6 95.4h1.2M412.8 95.3h1.2M434.8 95.3h1.2M439.4 95.2h1.2M444.5 95.6h1.2M408.3 96.5h1.2M442.9 96.4h1.2M447.6 96.4h1.2M453.8 96.8h1.2M428.2 97.5h1.2M450.9 97.4h1.2M404.7 98.7h1.2M436.6 98.6h1.2M446.4 98.7h1.2M451.9 98.3h1.2M420.6 99.2h1.2M422.5 99.5h1.2M434.8 99.8h1.2M435.8 99.6h1.2M436.3 99.4h1.2M437.3 99.2h1.2M442.7 99.5h1.2M450.8 99.4h1.2M452.4 99.7h1.2M454.6 99.1h1.2M456.6 99.8h1.2M458.4 99.2h1.2M477.7 99.7h1.2M429.6 100.8h1.2M433.3 100.2h1.2M440.5 100.3h1.2M441.4 100.6h1.2M460.3 100.1h1.2M462.8 100.4h1.2M428.4 101.3h1.2M434.9 101.5h1.2M442.6 101.9h1.2M443.3 101.9h1.2M453.2 101.9h1.2M464.0 101.7h1.2M422.8 102.1h1.2M428.7 102.4h1.2M429.5 102.8h1.2M438.5 102.9h1.2M439.6 102.6h1.2M445.6 102.2h1.2M446.3 102.4h1.2M451.9 102.8h1.2M454.6 102.9h1.2M462.3 102.6h1.2M430.3 103.3h1.2M432.3 103.5h1.2M445.6 103.6h1.2M461.4 103.7h1.2M398.8 104.3h1.2M423.9 104.4h1.2M432.3 104.5h1.2M433.4 104.5h1.2M454.7 104.6h1.2M430.3 105.3h1.2M459.7 105.5h1.2M419.4 106.5h1.2M430.4 106.3h1.2M449.3 106.9h1.2M429.9 107.8h1.2M437.8 107.5h1.2M438.4 107.6h1.2M457.7 107.8h1.2M461.3 108.4h1.2M433.6 109.8h1.2M444.2 109.6h1.2M462.9 109.8h1.2M447.2 110.7h1.2M451.7 110.7h1.2M443.7 111.2h1.2M444.9 111.4h1.2M452.5 111.6h1.2M456.4 111.8h1.2M457.2 111.7h1.2M464.4 111.5h1.2M453.4 113.7h1.2M454.9 113.3h1.2M459.2 113.3h1.2M411.7 114.4h1.2M448.3 114.1h1.2M451.4 114.4h1.2M446.9 115.8h1.2M453.8 115.9h1.2M456.4 115.1h1.2M459.2 115.4h1.2M460.8 115.4h1.2M452.6 116.6h1.2M447.0 117.3h1.2M449.3 117.6h1.2M455.7 117.3h1.2M447.5 119.6h1.2M456.8 119.3h1.2M462.8 119.2h1.2M440.9 121.9h1.2M387.8 124.4h1.2M416.6 125.2h1.2M402.7 127.6h1.2M452.0 130.1h1.2" stroke="#006fff" stroke-width="1.2" fill="none"/>
<path d="M393.8 9.6h1.2M394.3 11.8h1.2M398.9 11.4h1.2M400.0 11.8h1.2M368.4 12.3h1.2M397.3 13.8h1.2M405.8 13.1h1.2M406.8 15.6h1.2M407.5 15.4h1.2M402.3 16.5h1.2M403.2 16.8h1.2M403.3 17.5h1.2M386.7 18.3h1.2M399.6 18.8h1.2M407.7 18.5h1.2M361.8 20.9h1.2M393.3 20.6h1.2M357.6 22.6h1.2M396.4 22.7h1.2M360.6 23.8h1.2M362.7 23.5h1.2M406.4 23.2h1.2M409.9 24.1h1.2M353.6 25.1h1.2M366.8 25.6h1.2M377.0 25.5h1.2M396.7 25.7h1.2M357.3 26.2h1.2M394.5 26.8h1.2M393.7 27.7h1.2M418.8 27.8h1.2M401.0 28.2h1.2M404.7 28.7h1.2M358.5 30.2h1.2M372.7 31.5h1.2M349.4 32.9h1.2M376.3 32.2h1.2M389.6 33.6h1.2M364.5 34.5h1.2M375.3 34.6h1.2M410.6 35.3h1.2M422.4 35.5h1.2M361.7 36.6h1.2M383.7 36.3h1.2M398.5 36.5h1.2M400.4 36.1h1.2M415.3 37.8h1.2M418.6 37.6h1.2M432.2 38.6h1.2M412.9 39.4h1.2M423.9 40.6h1.2M357.2 41.8h1.2M374.5 42.5h1.2M370.9 43.6h1.2M413.8 43.3h1.2M417.9 44.6h1.2M435.3 44.4h1.2M393.8 45.3h1.2M416.6 46.2h1.2M445.4 46.7h1.2M446.4 46.9h1.2M376.3 47.3h1.2M386.8 47.3h1.2M450.3 48.2h1.2M455.9 48.9h1.2M372.7 49.2h1.2M411.0 49.4h1.2M350.8 50.4h1.2M368.6 50.2h1.2M407.6 50.8h1.2M433.0 50.7h1.2M438.2 50.5h1.2M364.9 51.6h1.2M402.0 51.9h1.2M442.3 51.2h1.2M389.3 52.4h1.2M391.4 52.4h1.2M384.0 53.8h1.2M424.4 54.2h1.2M438.5 54.8h1.2M449.6 54.8h1.2M460.0 54.3h1.2M403.5 55.7h1.2M420.9 55.5h1.2M465.4 55.8h1.2M448.3 57.2h1.2M419.6 58.1h1.2M397.6 59.2h1.2M396.4 60.7h1.2M455.8 60.9h1.2M404.3 61.5h1.2M442.9 63.5h1.2M453.6 63.2h1.2M461.9 63.3h1.2M401.9 64.3h1.2M419.2 64.2h1.2M472.3 65.6h1.2M348.4 66.5h1.2M421.7 66.4h1.2M478.0 66.5h1.2M479.5 67.8h1.2M467.8 68.5h1.2M456.7 69.5h1.2M417.8 70.7h1.2M459.2 70.2h1.2M466.3 71.4h1.2M434.9 72.1h1.2M455.5 72.1h1.2M457.8 72.7h1.2M423.4 73.4h1.2M428.2 73.9h1.2M442.6 73.4h1.2M462.6 74.6h1.2M441.8 75.7h1.2M452.8 75.4h1.2M462.7 77.2h1.2M451.5 78.9h1.2M462.4 80.2h1.2M435.8 81.3h1.2M449.6 85.8h1.2M453.8 86.7h1.2M455.8 87.1h1.2M455.7 88.4h1.2M466.8 92.8h1.2M498.5 151.7h1.2" stroke="#008fff" stroke-width="1.2" fill="none"/>
<path d="M387.5 10.4h1.2M394.0 10.4h1.2M400.6 10.3h1.2M383.4 11.8h1.2M357.7 12.5h1.2M390.7 13.3h1.2M399.8 13.6h1.2M369.5 15.6h1.2M376.2 15.2h1.2M386.2 16.1h1.2M378.4 17.8h1.2M401.2 17.8h1.2M360.4 18.9h1.2M387.8 18.7h1.2M389.8 18.7h1.2M410.4 19.5h1.2M390.9 21.8h1.2M397.3 21.3h1.2M352.9 22.6h1.2M385.9 22.6h1.2M397.5 24.1h1.2M415.8 24.3h1.2M389.7 26.3h1.2M412.5 27.8h1.2M419.8 27.3h1.2M358.3 29.2h1.2M356.8 30.3h1.2M402.3 31.1h1.2M416.9 32.8h1.2M365.9 33.1h1.2M392.3 33.5h1.2M402.7 33.2h1.2M367.3 35.9h1.2M426.9 35.2h1.2M345.3 36.2h1.2M412.3 36.2h1.2M433.3 36.4h1.2M394.4 37.5h1.2M395.9 37.8h1.2M361.0 38.5h1.2M363.8 38.7h1.2M368.8 40.1h1.2M394.0 40.9h1.2M421.7 40.5h1.2M425.4 40.4h1.2M356.9 41.2h1.2M418.2 41.6h1.2M431.3 41.8h1.2M436.7 42.2h1.2M369.2 43.8h1.2M422.4 44.4h1.2M443.0 44.5h1.2M420.5 45.3h1.2M426.0 45.8h1.2M434.5 45.7h1.2M401.3 46.7h1.2M451.8 46.8h1.2M365.4 47.2h1.2M388.4 47.6h1.2M403.7 47.3h1.2M407.8 47.6h1.2M421.6 47.8h1.2M412.2 49.6h1.2M447.9 49.7h1.2M341.3 50.1h1.2M347.6 50.6h1.2M351.3 50.5h1.2M437.4 50.6h1.2M361.0 51.7h1.2M368.5 51.4h1.2M387.8 53.8h1.2M448.6 53.5h1.2M417.9 54.8h1.2M415.3 56.5h1.2M466.5 57.4h1.2M411.5 58.3h1.2M415.0 59.8h1.2M451.6 59.8h1.2M423.5 60.4h1.2M417.8 63.5h1.2M448.2 64.6h1.2M465.4 64.1h1.2M449.4 66.6h1.2M413.5 67.7h1.2M446.9 67.7h1.2M447.8 68.2h1.2M472.3 68.7h1.2M433.6 69.2h1.2M453.0 69.3h1.2M475.8 69.2h1.2M424.8 72.3h1.2M430.8 72.4h1.2M432.6 72.6h1.2M459.3 74.2h1.2M465.4 74.3h1.2M431.9 76.1h1.2M454.7 76.7h1.2M464.7 76.2h1.2M472.7 77.6h1.2M446.4 79.7h1.2M474.8 80.1h1.2M465.0 81.8h1.2M450.6 83.2h1.2M464.3 89.4h1.2M453.7 90.4h1.2M457.3 90.3h1.2" stroke="#00afff" stroke-width="1.2" fill="none"/>
<path d="M371.9 8.8h1.2M372.2 9.5h1.2M389.8 9.9h1.2M398.8 9.2h1.2M371.5 10.9h1.2M390.4 11.8h1.2M354.9 12.2h1.2M353.3 14.2h1.2M399.4 14.2h1.2M387.8 15.4h1.2M363.5 16.3h1.2M357.7 18.8h1.2M387.5 19.8h1.2M402.8 19.4h1.2M351.6 21.2h1.2M361.2 21.5h1.2M362.5 21.9h1.2M393.4 23.3h1.2M402.7 23.3h1.2M366.4 24.4h1.2M408.4 25.5h1.2M405.6 26.3h1.2M353.7 27.5h1.2M372.5 27.2h1.2M411.4 27.2h1.2M356.2 28.6h1.2M362.4 29.7h1.2M382.9 29.8h1.2M414.5 29.6h1.2M401.3 30.6h1.2M409.6 30.9h1.2M393.3 31.8h1.2M412.9 31.5h1.2M399.4 32.7h1.2M407.7 33.7h1.2M415.5 33.6h1.2M419.8 33.8h1.2M396.4 35.3h1.2M421.7 35.3h1.2M358.4 37.2h1.2M410.2 37.9h1.2M417.6 37.8h1.2M380.4 38.7h1.2M388.9 38.7h1.2M423.3 39.5h1.2M420.3 40.7h1.2M358.7 42.2h1.2M362.6 42.5h1.2M378.3 42.5h1.2M387.7 42.4h1.2M419.5 42.4h1.2M414.7 43.7h1.2M445.3 44.9h1.2M426.3 45.3h1.2M358.4 46.5h1.2M404.9 46.4h1.2M443.5 46.9h1.2M449.6 46.4h1.2M404.9 47.6h1.2M354.4 48.9h1.2M343.3 49.1h1.2M361.3 49.5h1.2M418.8 49.2h1.2M419.7 49.5h1.2M373.5 50.3h1.2M450.3 50.9h1.2M370.4 51.6h1.2M372.2 51.5h1.2M373.6 51.3h1.2M408.5 51.9h1.2M372.7 52.2h1.2M414.9 52.6h1.2M433.7 52.5h1.2M439.7 52.8h1.2M412.9 53.8h1.2M461.2 55.7h1.2M401.7 56.2h1.2M416.3 56.5h1.2M466.9 56.7h1.2M416.9 57.5h1.2M417.6 57.3h1.2M433.5 57.7h1.2M441.5 57.3h1.2M393.7 59.6h1.2M419.5 59.8h1.2M427.3 60.5h1.2M407.9 61.6h1.2M423.4 62.8h1.2M415.4 64.5h1.2M459.9 64.5h1.2M470.7 64.7h1.2M444.8 65.7h1.2M447.7 65.6h1.2M438.5 66.6h1.2M478.9 66.3h1.2M412.5 68.9h1.2M479.7 68.3h1.2M465.0 69.6h1.2M471.4 69.9h1.2M417.7 72.9h1.2M467.9 73.4h1.2M431.0 74.2h1.2M457.2 74.8h1.2M467.2 75.6h1.2M470.4 75.3h1.2M448.4 77.5h1.2M444.9 79.3h1.2M441.5 80.5h1.2M472.7 80.5h1.2M467.7 82.8h1.2M472.8 82.5h1.2M467.6 83.1h1.2M456.3 84.5h1.2M459.8 84.5h1.2M457.2 86.3h1.2M446.4 87.6h1.2M468.3 87.3h1.2" stroke="#00cfff" stroke-width="1.2" fill="none"/>
<path d="M393.9 8.6h1.2M375.9 9.4h1.2M375.6 11.7h1.2M391.8 11.2h1.2M374.3 12.4h1.2M379.3 12.6h1.2M371.8 14.6h1.2M403.6 14.7h1.2M391.9 15.7h1.2M393.2 15.7h1.2M372.6 16.7h1.2M363.9 19.7h1.2M393.3 19.6h1.2M343.8 20.3h1.2M364.5 21.2h1.2M344.5 22.1h1.2M359.5 22.8h1.2M415.3 22.1h1.2M370.2 23.1h1.2M402.5 24.3h1.2M408.9 24.9h1.2M386.5 25.5h1.2M389.9 25.6h1.2M414.9 25.9h1.2M345.0 26.9h1.2M387.0 26.5h1.2M412.5 26.4h1.2M417.8 29.4h1.2M421.6 29.3h1.2M357.9 31.6h1.2M375.8 32.5h1.2M409.9 32.2h1.2M395.7 33.5h1.2M416.8 33.9h1.2M358.3 34.2h1.2M392.8 34.6h1.2M358.6 35.6h1.2M359.6 35.9h1.2M370.9 35.6h1.2M427.6 36.8h1.2M344.9 37.5h1.2M405.6 37.3h1.2M427.0 37.3h1.2M382.6 38.9h1.2M438.0 38.5h1.2M389.5 40.8h1.2M413.9 40.8h1.2M431.7 40.4h1.2M405.5 41.8h1.2M425.5 41.4h1.2M418.6 42.1h1.2M364.9 43.5h1.2M375.6 43.1h1.2M424.7 43.9h1.2M414.0 44.1h1.2M418.9 44.7h1.2M343.6 45.4h1.2M370.8 45.4h1.2M371.5 45.9h1.2M394.8 46.5h1.2M406.0 46.1h1.2M414.0 46.3h1.2M441.7 46.3h1.2M401.4 48.6h1.2M385.8 49.3h1.2M409.7 49.7h1.2M349.6 50.7h1.2M370.8 50.7h1.2M408.7 50.8h1.2M411.5 50.2h1.2M341.7 51.3h1.2M359.3 51.6h1.2M363.7 51.2h1.2M386.7 51.5h1.2M399.2 51.5h1.2M419.8 51.4h1.2M361.6 52.8h1.2M398.2 52.3h1.2M400.7 52.4h1.2M409.9 52.5h1.2M432.5 52.5h1.2M445.3 52.7h1.2M413.3 53.3h1.2M434.8 53.5h1.2M446.7 53.3h1.2M456.3 53.7h1.2M464.6 54.4h1.2M389.4 55.8h1.2M453.6 55.6h1.2M409.6 57.2h1.2M418.4 57.6h1.2M422.4 57.3h1.2M455.2 58.2h1.2M411.3 59.7h1.2M421.3 59.5h1.2M453.5 59.4h1.2M424.3 60.1h1.2M464.0 60.3h1.2M431.7 61.3h1.2M425.7 62.4h1.2M430.6 63.5h1.2M406.7 64.2h1.2M409.3 64.6h1.2M449.3 64.8h1.2M426.5 66.6h1.2M452.9 66.3h1.2M464.5 66.5h1.2M467.8 66.9h1.2M422.7 67.5h1.2M444.6 67.9h1.2M426.4 68.2h1.2M434.6 68.8h1.2M419.3 69.5h1.2M431.7 69.1h1.2M422.0 70.6h1.2M422.3 71.1h1.2M450.5 74.5h1.2M436.9 75.4h1.2M461.2 75.5h1.2M465.9 75.6h1.2M445.4 76.1h1.2M446.4 80.8h1.2M465.3 83.7h1.2M460.7 85.5h1.2M450.4 88.6h1.2M455.6 91.4h1.2M462.5 92.6h1.2" stroke="#00efff" stroke-width="1.2" fill="none"/>
<rect x="36.5" y="7.5" width="180" height="162" fill="none" stroke="#7a7a7a" stroke-width="1.2"/>
<line x1="36.5" y1="169.5" x2="38.7" y2="169.5" stroke="#4a4a4a" stroke-width="1.2"/>
<line x1="216.5" y1="169.5" x2="214.3" y2="169.5" stroke="#4a4a4a" stroke-width="1.2"/>
<text x="34.5" y="173.1" text-anchor="end" font-size="10.8">400</text>
<line x1="36.5" y1="133.5" x2="38.7" y2="133.5" stroke="#4a4a4a" stroke-width="1.2"/>
<line x1="216.5" y1="133.5" x2="214.3" y2="133.5" stroke="#4a4a4a" stroke-width="1.2"/>
<text x="34.5" y="137.1" text-anchor="end" font-size="10.8">500</text>
<line x1="36.5" y1="97.5" x2="38.7" y2="97.5" stroke="#4a4a4a" stroke-width="1.2"/>
<line x1="216.5" y1="97.5" x2="214.3" y2="97.5" stroke="#4a4a4a" stroke-width="1.2"/>
<text x="34.5" y="101.1" text-anchor="end" font-size="10.8">600</text>
<line x1="36.5" y1="61.5" x2="38.7" y2="61.5" stroke="#4a4a4a" stroke-width="1.2"/>
<line x1="216.5" y1="61.5" x2="214.3" y2="61.5" stroke="#4a4a4a" stroke-width="1.2"/>
<text x="34.5" y="65.1" text-anchor="end" font-size="10.8">700</text>
<line x1="36.5" y1="25.5" x2="38.7" y2="25.5" stroke="#4a4a4a" stroke-width="1.2"/>
<line x1="216.5" y1="25.5" x2="214.3" y2="25.5" stroke="#4a4a4a" stroke-width="1.2"/>
<text x="34.5" y="29.1" text-anchor="end" font-size="10.8">800</text>
<line x1="36.5" y1="169.5" x2="36.5" y2="167.3" stroke="#4a4a4a" stroke-width="1.2"/>
<line x1="36.5" y1="7.5" x2="36.5" y2="9.7" stroke="#4a4a4a" stroke-width="1.2"/>
<text x="36.5" y="181.2" text-anchor="middle" font-size="10.8">-40</text>
<line x1="81.5" y1="169.5" x2="81.5" y2="167.3" stroke="#4a4a4a" stroke-width="1.2"/>
<line x1="81.5" y1="7.5" x2="81.5" y2="9.7" stroke="#4a4a4a" stroke-width="1.2"/>
<text x="81.5" y="181.2" text-anchor="middle" font-size="10.8">-20</text>
<line x1="126.5" y1="169.5" x2="126.5" y2="167.3" stroke="#4a4a4a" stroke-width="1.2"/>
<line x1="126.5" y1="7.5" x2="126.5" y2="9.7" stroke="#4a4a4a" stroke-width="1.2"/>
<text x="126.5" y="181.2" text-anchor="middle" font-size="10.8">0</text>
<line x1="171.5" y1="169.5" x2="171.5" y2="167.3" stroke="#4a4a4a" stroke-width="1.2"/>
<line x1="171.5" y1="7.5" x2="171.5" y2="9.7" stroke="#4a4a4a" stroke-width="1.2"/>
<text x="171.5" y="181.2" text-anchor="middle" font-size="10.8">20</text>
<line x1="216.5" y1="169.5" x2="216.5" y2="167.3" stroke="#4a4a4a" stroke-width="1.2"/>
<line x1="216.5" y1="7.5" x2="216.5" y2="9.7" stroke="#4a4a4a" stroke-width="1.2"/>
<text x="216.5" y="181.2" text-anchor="middle" font-size="10.8">40</text>
<rect x="227.1" y="7.3" width="13.7" height="162.7" fill="url(#jet)" stroke="#444" stroke-width="0.6"/>
<line x1="227.1" y1="129.32" x2="228.9" y2="129.32" stroke="#222" stroke-width="0.8"/>
<line x1="240.8" y1="129.32" x2="239" y2="129.32" stroke="#222" stroke-width="0.8"/>
<text x="242.3" y="132.92" text-anchor="start" font-size="10.8">0.1</text>
<line x1="227.1" y1="88.65" x2="228.9" y2="88.65" stroke="#222" stroke-width="0.8"/>
<line x1="240.8" y1="88.65" x2="239" y2="88.65" stroke="#222" stroke-width="0.8"/>
<text x="242.3" y="92.25" text-anchor="start" font-size="10.8">0.2</text>
<line x1="227.1" y1="47.98" x2="228.9" y2="47.98" stroke="#222" stroke-width="0.8"/>
<line x1="240.8" y1="47.98" x2="239" y2="47.98" stroke="#222" stroke-width="0.8"/>
<text x="242.3" y="51.58" text-anchor="start" font-size="10.8">0.3</text>
<line x1="227.1" y1="7.3" x2="228.9" y2="7.3" stroke="#222" stroke-width="0.8"/>
<line x1="240.8" y1="7.3" x2="239" y2="7.3" stroke="#222" stroke-width="0.8"/>
<text x="242.3" y="10.9" text-anchor="start" font-size="10.8">0.4</text>
<text x="222.1" y="181.8" text-anchor="start" font-size="10.8">(rad)</text>
<rect x="327.2" y="7.5" width="179.6" height="162" fill="none" stroke="#7a7a7a" stroke-width="1.2"/>
<line x1="327.2" y1="169.5" x2="329.4" y2="169.5" stroke="#4a4a4a" stroke-width="1.2"/>
<line x1="506.8" y1="169.5" x2="504.6" y2="169.5" stroke="#4a4a4a" stroke-width="1.2"/>
<text x="325.2" y="173.1" text-anchor="end" font-size="10.8">400</text>
<line x1="327.2" y1="133.5" x2="329.4" y2="133.5" stroke="#4a4a4a" stroke-width="1.2"/>
<line x1="506.8" y1="133.5" x2="504.6" y2="133.5" stroke="#4a4a4a" stroke-width="1.2"/>
<text x="325.2" y="137.1" text-anchor="end" font-size="10.8">500</text>
<line x1="327.2" y1="97.5" x2="329.4" y2="97.5" stroke="#4a4a4a" stroke-width="1.2"/>
<line x1="506.8" y1="97.5" x2="504.6" y2="97.5" stroke="#4a4a4a" stroke-width="1.2"/>
<text x="325.2" y="101.1" text-anchor="end" font-size="10.8">600</text>
<line x1="327.2" y1="61.5" x2="329.4" y2="61.5" stroke="#4a4a4a" stroke-width="1.2"/>
<line x1="506.8" y1="61.5" x2="504.6" y2="61.5" stroke="#4a4a4a" stroke-width="1.2"/>
<text x="325.2" y="65.1" text-anchor="end" font-size="10.8">700</text>
<line x1="327.2" y1="25.5" x2="329.4" y2="25.5" stroke="#4a4a4a" stroke-width="1.2"/>
<line x1="506.8" y1="25.5" x2="504.6" y2="25.5" stroke="#4a4a4a" stroke-width="1.2"/>
<text x="325.2" y="29.1" text-anchor="end" font-size="10.8">800</text>
<line x1="327.2" y1="169.5" x2="327.2" y2="167.3" stroke="#4a4a4a" stroke-width="1.2"/>
<line x1="327.2" y1="7.5" x2="327.2" y2="9.7" stroke="#4a4a4a" stroke-width="1.2"/>
<text x="327.2" y="181.2" text-anchor="middle" font-size="10.8">-40</text>
<line x1="372.1" y1="169.5" x2="372.1" y2="167.3" stroke="#4a4a4a" stroke-width="1.2"/>
<line x1="372.1" y1="7.5" x2="372.1" y2="9.7" stroke="#4a4a4a" stroke-width="1.2"/>
<text x="372.1" y="181.2" text-anchor="middle" font-size="10.8">-20</text>
<line x1="417" y1="169.5" x2="417" y2="167.3" stroke="#4a4a4a" stroke-width="1.2"/>
<line x1="417" y1="7.5" x2="417" y2="9.7" stroke="#4a4a4a" stroke-width="1.2"/>
<text x="417" y="181.2" text-anchor="middle" font-size="10.8">0</text>
<line x1="461.9" y1="169.5" x2="461.9" y2="167.3" stroke="#4a4a4a" stroke-width="1.2"/>
<line x1="461.9" y1="7.5" x2="461.9" y2="9.7" stroke="#4a4a4a" stroke-width="1.2"/>
<text x="461.9" y="181.2" text-anchor="middle" font-size="10.8">20</text>
<line x1="506.8" y1="169.5" x2="506.8" y2="167.3" stroke="#4a4a4a" stroke-width="1.2"/>
<line x1="506.8" y1="7.5" x2="506.8" y2="9.7" stroke="#4a4a4a" stroke-width="1.2"/>
<text x="506.8" y="181.2" text-anchor="middle" font-size="10.8">40</text>
<rect x="517.3" y="7.3" width="13.8" height="162.7" fill="url(#jet)" stroke="#444" stroke-width="0.6"/>
<line x1="517.3" y1="129.32" x2="519.1" y2="129.32" stroke="#222" stroke-width="0.8"/>
<line x1="531.1" y1="129.32" x2="529.3" y2="129.32" stroke="#222" stroke-width="0.8"/>
<text x="532.6" y="132.92" text-anchor="start" font-size="10.8">0.1</text>
<line x1="517.3" y1="88.65" x2="519.1" y2="88.65" stroke="#222" stroke-width="0.8"/>
<line x1="531.1" y1="88.65" x2="529.3" y2="88.65" stroke="#222" stroke-width="0.8"/>
<text x="532.6" y="92.25" text-anchor="start" font-size="10.8">0.2</text>
<line x1="517.3" y1="47.98" x2="519.1" y2="47.98" stroke="#222" stroke-width="0.8"/>
<line x1="531.1" y1="47.98" x2="529.3" y2="47.98" stroke="#222" stroke-width="0.8"/>
<text x="532.6" y="51.58" text-anchor="start" font-size="10.8">0.3</text>
<line x1="517.3" y1="7.3" x2="519.1" y2="7.3" stroke="#222" stroke-width="0.8"/>
<line x1="531.1" y1="7.3" x2="529.3" y2="7.3" stroke="#222" stroke-width="0.8"/>
<text x="532.6" y="10.9" text-anchor="start" font-size="10.8">0.4</text>
<text x="512.3" y="181.8" text-anchor="start" font-size="10.8">(rad)</text>
<rect x="35.8" y="235.1" width="216.6" height="166" fill="none" stroke="#7a7a7a" stroke-width="1.2"/>
<line x1="35.8" y1="401.1" x2="38" y2="401.1" stroke="#4a4a4a" stroke-width="1.2"/>
<line x1="252.4" y1="401.1" x2="250.2" y2="401.1" stroke="#4a4a4a" stroke-width="1.2"/>
<text x="34.6" y="404.7" text-anchor="end" font-size="10.8">0</text>
<line x1="35.8" y1="359.6" x2="38" y2="359.6" stroke="#4a4a4a" stroke-width="1.2"/>
<line x1="252.4" y1="359.6" x2="250.2" y2="359.6" stroke="#4a4a4a" stroke-width="1.2"/>
<text x="33.3" y="363.2" text-anchor="end" font-size="10.8">0.1</text>
<line x1="35.8" y1="318.1" x2="38" y2="318.1" stroke="#4a4a4a" stroke-width="1.2"/>
<line x1="252.4" y1="318.1" x2="250.2" y2="318.1" stroke="#4a4a4a" stroke-width="1.2"/>
<text x="33.3" y="321.7" text-anchor="end" font-size="10.8">0.2</text>
<line x1="35.8" y1="276.6" x2="38" y2="276.6" stroke="#4a4a4a" stroke-width="1.2"/>
<line x1="252.4" y1="276.6" x2="250.2" y2="276.6" stroke="#4a4a4a" stroke-width="1.2"/>
<text x="33.3" y="280.2" text-anchor="end" font-size="10.8">0.3</text>
<line x1="35.8" y1="235.1" x2="38" y2="235.1" stroke="#4a4a4a" stroke-width="1.2"/>
<line x1="252.4" y1="235.1" x2="250.2" y2="235.1" stroke="#4a4a4a" stroke-width="1.2"/>
<text x="33.3" y="238.7" text-anchor="end" font-size="10.8">0.4</text>
<line x1="35.8" y1="401.1" x2="35.8" y2="398.9" stroke="#4a4a4a" stroke-width="1.2"/>
<line x1="35.8" y1="235.1" x2="35.8" y2="237.3" stroke="#4a4a4a" stroke-width="1.2"/>
<text x="35.8" y="412.7" text-anchor="middle" font-size="11.2">400</text>
<line x1="83.93" y1="401.1" x2="83.93" y2="398.9" stroke="#4a4a4a" stroke-width="1.2"/>
<line x1="83.93" y1="235.1" x2="83.93" y2="237.3" stroke="#4a4a4a" stroke-width="1.2"/>
<text x="83.93" y="412.7" text-anchor="middle" font-size="11.2">500</text>
<line x1="132.07" y1="401.1" x2="132.07" y2="398.9" stroke="#4a4a4a" stroke-width="1.2"/>
<line x1="132.07" y1="235.1" x2="132.07" y2="237.3" stroke="#4a4a4a" stroke-width="1.2"/>
<text x="132.07" y="412.7" text-anchor="middle" font-size="11.2">600</text>
<line x1="180.2" y1="401.1" x2="180.2" y2="398.9" stroke="#4a4a4a" stroke-width="1.2"/>
<line x1="180.2" y1="235.1" x2="180.2" y2="237.3" stroke="#4a4a4a" stroke-width="1.2"/>
<text x="180.2" y="412.7" text-anchor="middle" font-size="11.2">700</text>
<line x1="228.33" y1="401.1" x2="228.33" y2="398.9" stroke="#4a4a4a" stroke-width="1.2"/>
<line x1="228.33" y1="235.1" x2="228.33" y2="237.3" stroke="#4a4a4a" stroke-width="1.2"/>
<text x="228.33" y="412.7" text-anchor="middle" font-size="11.2">800</text>
<rect x="326.7" y="235.1" width="216.1" height="166" fill="none" stroke="#7a7a7a" stroke-width="1.2"/>
<line x1="326.7" y1="401.1" x2="328.9" y2="401.1" stroke="#4a4a4a" stroke-width="1.2"/>
<line x1="542.8" y1="401.1" x2="540.6" y2="401.1" stroke="#4a4a4a" stroke-width="1.2"/>
<text x="325.5" y="404.7" text-anchor="end" font-size="10.8">0</text>
<line x1="326.7" y1="359.6" x2="328.9" y2="359.6" stroke="#4a4a4a" stroke-width="1.2"/>
<line x1="542.8" y1="359.6" x2="540.6" y2="359.6" stroke="#4a4a4a" stroke-width="1.2"/>
<text x="324.2" y="363.2" text-anchor="end" font-size="10.8">0.1</text>
<line x1="326.7" y1="318.1" x2="328.9" y2="318.1" stroke="#4a4a4a" stroke-width="1.2"/>
<line x1="542.8" y1="318.1" x2="540.6" y2="318.1" stroke="#4a4a4a" stroke-width="1.2"/>
<text x="324.2" y="321.7" text-anchor="end" font-size="10.8">0.2</text>
<line x1="326.7" y1="276.6" x2="328.9" y2="276.6" stroke="#4a4a4a" stroke-width="1.2"/>
<line x1="542.8" y1="276.6" x2="540.6" y2="276.6" stroke="#4a4a4a" stroke-width="1.2"/>
<text x="324.2" y="280.2" text-anchor="end" font-size="10.8">0.3</text>
<line x1="326.7" y1="235.1" x2="328.9" y2="235.1" stroke="#4a4a4a" stroke-width="1.2"/>
<line x1="542.8" y1="235.1" x2="540.6" y2="235.1" stroke="#4a4a4a" stroke-width="1.2"/>
<text x="324.2" y="238.7" text-anchor="end" font-size="10.8">0.4</text>
<line x1="326.7" y1="401.1" x2="326.7" y2="398.9" stroke="#4a4a4a" stroke-width="1.2"/>
<line x1="326.7" y1="235.1" x2="326.7" y2="237.3" stroke="#4a4a4a" stroke-width="1.2"/>
<text x="326.7" y="412.7" text-anchor="middle" font-size="11.2">400</text>
<line x1="374.72" y1="401.1" x2="374.72" y2="398.9" stroke="#4a4a4a" stroke-width="1.2"/>
<line x1="374.72" y1="235.1" x2="374.72" y2="237.3" stroke="#4a4a4a" stroke-width="1.2"/>
<text x="374.72" y="412.7" text-anchor="middle" font-size="11.2">500</text>
<line x1="422.74" y1="401.1" x2="422.74" y2="398.9" stroke="#4a4a4a" stroke-width="1.2"/>
<line x1="422.74" y1="235.1" x2="422.74" y2="237.3" stroke="#4a4a4a" stroke-width="1.2"/>
<text x="422.74" y="412.7" text-anchor="middle" font-size="11.2">600</text>
<line x1="470.77" y1="401.1" x2="470.77" y2="398.9" stroke="#4a4a4a" stroke-width="1.2"/>
<line x1="470.77" y1="235.1" x2="470.77" y2="237.3" stroke="#4a4a4a" stroke-width="1.2"/>
<text x="470.77" y="412.7" text-anchor="middle" font-size="11.2">700</text>
<line x1="518.79" y1="401.1" x2="518.79" y2="398.9" stroke="#4a4a4a" stroke-width="1.2"/>
<line x1="518.79" y1="235.1" x2="518.79" y2="237.3" stroke="#4a4a4a" stroke-width="1.2"/>
<text x="518.79" y="412.7" text-anchor="middle" font-size="11.2">800</text>

<text x="88.4" y="195.8" font-size="11.4" textLength="70.5" lengthAdjust="spacingAndGlyphs">Azimuth angle (</text><text x="159" y="191" font-size="7.5">o</text><text x="161.5" y="195.5" font-size="11">)</text>
<text x="378.6" y="195.8" font-size="11.4" textLength="70.5" lengthAdjust="spacingAndGlyphs">Azimuth angle (</text><text x="449.2" y="191" font-size="7.5">o</text><text x="451.7" y="195.5" font-size="11">)</text>
<text transform="translate(13.3,126) rotate(-90)" font-size="11.8" textLength="70.6" lengthAdjust="spacingAndGlyphs">Slant range (m)</text>
<text transform="translate(303.9,126) rotate(-90)" font-size="11.8" textLength="70.6" lengthAdjust="spacingAndGlyphs">Slant range (m)</text>
<text x="116.6" y="214" font-size="11.6" font-weight="bold" textLength="14.6" lengthAdjust="spacingAndGlyphs">(a)</text>
<text x="406.3" y="214" font-size="11.6" font-weight="bold" textLength="15.6" lengthAdjust="spacingAndGlyphs">(b)</text>
<text x="110.8" y="424.7" font-size="11.6" textLength="65.8" lengthAdjust="spacingAndGlyphs">Slant range (m)</text>
<text x="400.9" y="424.7" font-size="11.6" textLength="66.4" lengthAdjust="spacingAndGlyphs">Slant range (m)</text>
<text transform="translate(14.8,364.3) rotate(-90)" font-size="11.6" textLength="92.7" lengthAdjust="spacingAndGlyphs">Phase deviation (rad)</text>
<text transform="translate(305.6,364.3) rotate(-90)" font-size="11.6" textLength="92.7" lengthAdjust="spacingAndGlyphs">Phase deviation (rad)</text>
<text x="117" y="440.7" font-size="11.6" font-weight="bold" textLength="13.9" lengthAdjust="spacingAndGlyphs">(c)</text>
<text x="406.3" y="440.7" font-size="11.6" font-weight="bold" textLength="16" lengthAdjust="spacingAndGlyphs">(d)</text>

</svg>
</body></html>
